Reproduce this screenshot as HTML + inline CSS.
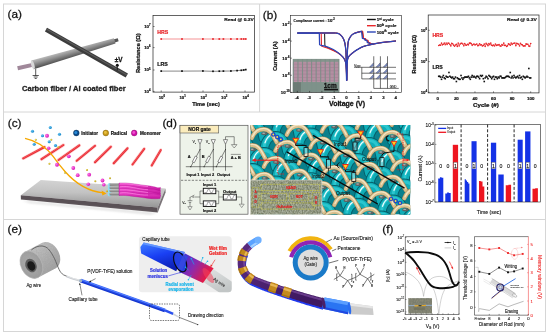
<!DOCTYPE html>
<html><head><meta charset="utf-8"><title>Figure</title>
<style>
html,body{margin:0;padding:0;background:#fff;}
body{width:550px;height:336px;overflow:hidden;font-family:'Liberation Sans', sans-serif;}
svg{display:block;filter:blur(0.35px);}
svg text{font-family:'Liberation Sans', sans-serif;}
</style></head><body>
<svg width="550" height="336" viewBox="0 0 550 336">
<defs>
<linearGradient id="gfib" x1="0" y1="0" x2="0" y2="1"><stop offset="0" stop-color="#bcbcbc"/><stop offset="0.4" stop-color="#939393"/><stop offset="1" stop-color="#4e4e4e"/></linearGradient>
<linearGradient id="gdark" x1="0" y1="0" x2="0" y2="1"><stop offset="0" stop-color="#555"/><stop offset="1" stop-color="#222"/></linearGradient>
<linearGradient id="gslab" x1="0" y1="0" x2="1" y2="0.3"><stop offset="0" stop-color="#cfcfcf"/><stop offset="1" stop-color="#a4a4a4"/></linearGradient>
<filter id="blur03"><feGaussianBlur stdDeviation="0.3"/></filter>
<filter id="blur06"><feGaussianBlur stdDeviation="0.6"/></filter>
<filter id="blur1"><feGaussianBlur stdDeviation="1"/></filter>
</defs>
<rect x="3.50" y="4.00" width="542.00" height="327.50" fill="#fff" stroke="#d6d6d6" stroke-width="1" />
<line x1="3.50" y1="112.00" x2="545.50" y2="112.00" stroke="#d6d6d6" stroke-width="1" />
<line x1="3.50" y1="219.50" x2="545.50" y2="219.50" stroke="#d6d6d6" stroke-width="1" />
<line x1="259.60" y1="4.00" x2="259.60" y2="112.00" stroke="#d6d6d6" stroke-width="1" />
<text x="7.60" y="18.20" font-size="11.8" text-anchor="start" font-weight="normal" fill="#111" stroke="#111" stroke-width="0.260" >(a)</text>
<text x="262.80" y="18.60" font-size="11.8" text-anchor="start" font-weight="normal" fill="#111" stroke="#111" stroke-width="0.260" >(b)</text>
<text x="7.80" y="126.60" font-size="11.8" text-anchor="start" font-weight="normal" fill="#111" stroke="#111" stroke-width="0.260" >(c)</text>
<text x="162.40" y="126.60" font-size="11.8" text-anchor="start" font-weight="normal" fill="#111" stroke="#111" stroke-width="0.260" >(d)</text>
<text x="7.60" y="233.20" font-size="11.8" text-anchor="start" font-weight="normal" fill="#111" stroke="#111" stroke-width="0.260" >(e)</text>
<text x="382.30" y="233.20" font-size="11.8" text-anchor="start" font-weight="normal" fill="#111" stroke="#111" stroke-width="0.260" >(f)</text>
<g transform="translate(17.60,68.30) rotate(-12.85)"><path d="M0,-2.00 L15.28,-2.00 L15.28,2.00 L0,2.00Z" fill="#a0889a" /></g>
<g transform="translate(32.50,64.90) rotate(-16.28)"><path d="M0,-4.50 L85.63,-2.80 L85.63,2.80 L0,4.50Z" fill="url(#gfib)" /></g>
<ellipse cx="32.8" cy="64.9" rx="1.6" ry="4.4" transform="rotate(-16 32.8 64.9)" fill="#d8d8d8"/>
<g transform="translate(114.50,40.90) rotate(-16.56)"><path d="M0,-1.60 L3.86,-1.50 L3.86,1.50 L0,1.60Z" fill="#555" /></g>
<g transform="translate(46.00,29.60) rotate(29.65)"><path d="M0,-2.20 L92.98,-2.30 L92.98,2.30 L0,2.20Z" fill="#3c3c3c" /></g>
<g transform="translate(46.30,29.00) rotate(29.68)"><path d="M0,-0.60 L92.89,-0.60 L92.89,0.60 L0,0.60Z" fill="#5a5a5a" /></g>
<line x1="35.70" y1="69.00" x2="35.70" y2="75.50" stroke="#111" stroke-width="0.7" />
<line x1="32.60" y1="75.50" x2="38.80" y2="75.50" stroke="#111" stroke-width="0.7" />
<line x1="33.70" y1="77.00" x2="37.70" y2="77.00" stroke="#111" stroke-width="0.7" />
<line x1="34.70" y1="78.50" x2="36.70" y2="78.50" stroke="#111" stroke-width="0.7" />
<circle cx="117.30" cy="65.30" r="1.5" fill="#111" stroke="none" stroke-width="0.5" />
<line x1="117.30" y1="65.30" x2="117.30" y2="70.40" stroke="#111" stroke-width="0.8" />
<text x="118.60" y="61.60" font-size="6.4" text-anchor="middle" font-weight="bold" fill="#111" stroke="#111" stroke-width="0.256" >±V</text>
<text x="22.00" y="90.60" font-size="7.3" text-anchor="start" font-weight="bold" fill="#222" stroke="#222" stroke-width="0.292" textLength="103.60" lengthAdjust="spacingAndGlyphs" >Carbon fiber / Al coated fiber</text>
<rect x="153.00" y="15.60" width="101.50" height="76.50" fill="none" stroke="#222" stroke-width="0.7" />
<path d="M161.20,39.00 L182.00,39.00 L202.90,39.00 L213.00,39.00 L219.30,39.00 L223.40,39.00 L230.90,39.00 L237.10,39.00 L241.30,39.00 L243.70,39.00 L245.80,39.00" fill="none" stroke="#e8262a" stroke-width="0.5" />
<rect x="160.35" y="38.15" width="1.70" height="1.70" fill="#e8262a" stroke="none" stroke-width="0.6" />
<rect x="181.15" y="38.15" width="1.70" height="1.70" fill="#e8262a" stroke="none" stroke-width="0.6" />
<rect x="202.05" y="38.15" width="1.70" height="1.70" fill="#e8262a" stroke="none" stroke-width="0.6" />
<rect x="212.15" y="38.15" width="1.70" height="1.70" fill="#e8262a" stroke="none" stroke-width="0.6" />
<rect x="218.45" y="38.15" width="1.70" height="1.70" fill="#e8262a" stroke="none" stroke-width="0.6" />
<rect x="222.55" y="38.15" width="1.70" height="1.70" fill="#e8262a" stroke="none" stroke-width="0.6" />
<rect x="230.05" y="38.15" width="1.70" height="1.70" fill="#e8262a" stroke="none" stroke-width="0.6" />
<rect x="236.25" y="38.15" width="1.70" height="1.70" fill="#e8262a" stroke="none" stroke-width="0.6" />
<rect x="240.45" y="38.15" width="1.70" height="1.70" fill="#e8262a" stroke="none" stroke-width="0.6" />
<rect x="242.85" y="38.15" width="1.70" height="1.70" fill="#e8262a" stroke="none" stroke-width="0.6" />
<rect x="244.95" y="38.15" width="1.70" height="1.70" fill="#e8262a" stroke="none" stroke-width="0.6" />
<path d="M161.20,71.10 L182.00,71.10 L202.90,71.00 L213.00,71.30 L219.30,71.20 L223.40,71.10 L230.90,71.00 L237.10,70.60 L241.30,70.30 L243.70,70.00 L245.80,69.60" fill="none" stroke="#111" stroke-width="0.5" />
<rect x="160.35" y="70.25" width="1.70" height="1.70" fill="#111" stroke="none" stroke-width="0.6" />
<rect x="181.15" y="70.25" width="1.70" height="1.70" fill="#111" stroke="none" stroke-width="0.6" />
<rect x="202.05" y="70.15" width="1.70" height="1.70" fill="#111" stroke="none" stroke-width="0.6" />
<rect x="212.15" y="70.45" width="1.70" height="1.70" fill="#111" stroke="none" stroke-width="0.6" />
<rect x="218.45" y="70.35" width="1.70" height="1.70" fill="#111" stroke="none" stroke-width="0.6" />
<rect x="222.55" y="70.25" width="1.70" height="1.70" fill="#111" stroke="none" stroke-width="0.6" />
<rect x="230.05" y="70.15" width="1.70" height="1.70" fill="#111" stroke="none" stroke-width="0.6" />
<rect x="236.25" y="69.75" width="1.70" height="1.70" fill="#111" stroke="none" stroke-width="0.6" />
<rect x="240.45" y="69.45" width="1.70" height="1.70" fill="#111" stroke="none" stroke-width="0.6" />
<rect x="242.85" y="69.15" width="1.70" height="1.70" fill="#111" stroke="none" stroke-width="0.6" />
<rect x="244.95" y="68.75" width="1.70" height="1.70" fill="#111" stroke="none" stroke-width="0.6" />
<text x="150.50" y="27.90" font-size="4.3" text-anchor="end" font-weight="bold" fill="#111" stroke="#111" stroke-width="0.172" >10<tspan dy="-1.6" font-size="2.8">7</tspan></text>
<line x1="153.00" y1="26.50" x2="154.60" y2="26.50" stroke="#111" stroke-width="0.5" />
<text x="150.50" y="49.00" font-size="4.3" text-anchor="end" font-weight="bold" fill="#111" stroke="#111" stroke-width="0.172" >10<tspan dy="-1.6" font-size="2.8">6</tspan></text>
<line x1="153.00" y1="47.60" x2="154.60" y2="47.60" stroke="#111" stroke-width="0.5" />
<text x="150.50" y="71.40" font-size="4.3" text-anchor="end" font-weight="bold" fill="#111" stroke="#111" stroke-width="0.172" >10<tspan dy="-1.6" font-size="2.8">5</tspan></text>
<line x1="153.00" y1="70.00" x2="154.60" y2="70.00" stroke="#111" stroke-width="0.5" />
<text x="150.50" y="92.80" font-size="4.3" text-anchor="end" font-weight="bold" fill="#111" stroke="#111" stroke-width="0.172" >10<tspan dy="-1.6" font-size="2.8">4</tspan></text>
<line x1="153.00" y1="91.40" x2="154.60" y2="91.40" stroke="#111" stroke-width="0.5" />
<text x="161.80" y="98.60" font-size="4.3" text-anchor="middle" font-weight="bold" fill="#111" stroke="#111" stroke-width="0.172" >10<tspan dy="-1.6" font-size="2.8">0</tspan></text>
<line x1="161.20" y1="92.00" x2="161.20" y2="90.40" stroke="#111" stroke-width="0.5" />
<text x="182.60" y="98.60" font-size="4.3" text-anchor="middle" font-weight="bold" fill="#111" stroke="#111" stroke-width="0.172" >10<tspan dy="-1.6" font-size="2.8">1</tspan></text>
<line x1="182.00" y1="92.00" x2="182.00" y2="90.40" stroke="#111" stroke-width="0.5" />
<text x="203.60" y="98.60" font-size="4.3" text-anchor="middle" font-weight="bold" fill="#111" stroke="#111" stroke-width="0.172" >10<tspan dy="-1.6" font-size="2.8">2</tspan></text>
<line x1="203.00" y1="92.00" x2="203.00" y2="90.40" stroke="#111" stroke-width="0.5" />
<text x="224.20" y="98.60" font-size="4.3" text-anchor="middle" font-weight="bold" fill="#111" stroke="#111" stroke-width="0.172" >10<tspan dy="-1.6" font-size="2.8">3</tspan></text>
<line x1="223.60" y1="92.00" x2="223.60" y2="90.40" stroke="#111" stroke-width="0.5" />
<text x="245.60" y="98.60" font-size="4.3" text-anchor="middle" font-weight="bold" fill="#111" stroke="#111" stroke-width="0.172" >10<tspan dy="-1.6" font-size="2.8">4</tspan></text>
<line x1="245.00" y1="92.00" x2="245.00" y2="90.40" stroke="#111" stroke-width="0.5" />
<text x="206.00" y="105.80" font-size="5.6" text-anchor="middle" font-weight="bold" fill="#111" stroke="#111" stroke-width="0.224" textLength="27.70" lengthAdjust="spacingAndGlyphs" >Time (sec)</text>
<text x="140.50" y="53.20" font-size="5.6" text-anchor="middle" font-weight="bold" fill="#111" transform="rotate(-90 140.50 53.20)" stroke="#111" stroke-width="0.224" textLength="39.70" lengthAdjust="spacingAndGlyphs" >Resistance (Ω)</text>
<text x="157.30" y="34.20" font-size="4.8" text-anchor="start" font-weight="bold" fill="#e8262a" stroke="#e8262a" stroke-width="0.192" textLength="11.00" lengthAdjust="spacingAndGlyphs" >HRS</text>
<text x="157.30" y="65.50" font-size="4.8" text-anchor="start" font-weight="bold" fill="#111" stroke="#111" stroke-width="0.192" textLength="10.60" lengthAdjust="spacingAndGlyphs" >LRS</text>
<text x="224.30" y="20.90" font-size="4.4" text-anchor="start" font-weight="bold" fill="#111" stroke="#111" stroke-width="0.176" textLength="29.40" lengthAdjust="spacingAndGlyphs" >Read @ 0.3V</text>
<rect x="292.90" y="58.90" width="46.10" height="33.40" fill="#84958d" stroke="none" stroke-width="0.6" />
<rect x="292.90" y="61.80" width="46.10" height="20.40" fill="#b48fa2" stroke="none" stroke-width="0.6" />
<line x1="293.40" y1="59.00" x2="293.40" y2="92.30" stroke="#7d8f88" stroke-width="1.1" />
<line x1="297.95" y1="59.00" x2="297.95" y2="92.30" stroke="#7d8f88" stroke-width="1.1" />
<line x1="302.50" y1="59.00" x2="302.50" y2="92.30" stroke="#7d8f88" stroke-width="1.1" />
<line x1="307.05" y1="59.00" x2="307.05" y2="92.30" stroke="#7d8f88" stroke-width="1.1" />
<line x1="311.60" y1="59.00" x2="311.60" y2="92.30" stroke="#7d8f88" stroke-width="1.1" />
<line x1="316.15" y1="59.00" x2="316.15" y2="92.30" stroke="#7d8f88" stroke-width="1.1" />
<line x1="320.70" y1="59.00" x2="320.70" y2="92.30" stroke="#7d8f88" stroke-width="1.1" />
<line x1="325.25" y1="59.00" x2="325.25" y2="92.30" stroke="#7d8f88" stroke-width="1.1" />
<line x1="329.80" y1="59.00" x2="329.80" y2="92.30" stroke="#7d8f88" stroke-width="1.1" />
<line x1="334.35" y1="59.00" x2="334.35" y2="92.30" stroke="#7d8f88" stroke-width="1.1" />
<line x1="338.90" y1="59.00" x2="338.90" y2="92.30" stroke="#7d8f88" stroke-width="1.1" />
<line x1="292.90" y1="64.20" x2="339.00" y2="64.20" stroke="#96788a" stroke-width="0.5" opacity="0.8"/>
<line x1="292.90" y1="67.50" x2="339.00" y2="67.50" stroke="#96788a" stroke-width="0.5" opacity="0.8"/>
<line x1="292.90" y1="70.80" x2="339.00" y2="70.80" stroke="#96788a" stroke-width="0.5" opacity="0.8"/>
<line x1="292.90" y1="74.10" x2="339.00" y2="74.10" stroke="#96788a" stroke-width="0.5" opacity="0.8"/>
<line x1="292.90" y1="77.40" x2="339.00" y2="77.40" stroke="#96788a" stroke-width="0.5" opacity="0.8"/>
<line x1="292.90" y1="80.70" x2="339.00" y2="80.70" stroke="#96788a" stroke-width="0.5" opacity="0.8"/>
<rect x="292.90" y="82.20" width="46.10" height="10.10" fill="#7d9189" stroke="none" stroke-width="0.6" opacity="0.8"/>
<rect x="292.90" y="82.20" width="8.00" height="10.10" fill="#55605c" stroke="none" stroke-width="0.6" opacity="0.45"/>
<text x="330.20" y="87.60" font-size="7.2" text-anchor="middle" font-weight="bold" fill="#111" stroke="#111" stroke-width="0.288" textLength="13.00" lengthAdjust="spacingAndGlyphs" >1cm</text>
<rect x="324.20" y="88.80" width="13.80" height="1.60" fill="#111" stroke="none" stroke-width="0.6" />
<path d="M297.30,33.00 L324.60,33.00 L324.90,45.80" fill="none" stroke="#111" stroke-width="1.0" stroke-linejoin="round"/>
<path d="M324.90,45.80 C325.40,46.13 325.92,46.76 327.90,47.80 C329.88,48.84 334.28,50.50 336.80,52.05 C339.32,53.60 341.52,55.36 343.00,57.10 C344.48,58.84 345.13,60.35 345.70,62.50 C346.27,64.65 346.25,67.00 346.40,70.00 C346.55,73.00 346.57,78.75 346.60,80.50" fill="none" stroke="#111" stroke-width="1.0" />
<path d="M324.60,33.00 L335.50,33.00" fill="none" stroke="#111" stroke-width="1.0" />
<path d="M335.50,33.00 C336.02,33.10 337.64,33.15 338.60,33.60 C339.56,34.05 340.45,34.83 341.25,35.70 C342.05,36.57 342.81,37.60 343.40,38.80 C343.99,40.00 344.40,41.03 344.80,42.90 C345.20,44.77 345.56,47.03 345.80,50.00 C346.04,52.97 346.12,55.62 346.25,60.70 C346.38,65.78 346.54,77.20 346.60,80.50" fill="none" stroke="#111" stroke-width="1.0" />
<path d="M346.60,80.50 C346.68,77.25 346.93,66.42 347.10,61.00 C347.27,55.58 347.38,51.33 347.60,48.00 C347.82,44.67 348.00,42.77 348.40,41.00 C348.80,39.23 349.40,38.43 350.00,37.40 C350.60,36.37 351.17,35.52 352.00,34.80 C352.83,34.08 353.97,33.55 355.00,33.10 C356.03,32.65 356.98,32.42 358.20,32.10 C359.42,31.78 361.62,31.35 362.30,31.20" fill="none" stroke="#111" stroke-width="1.0" />
<path d="M362.30,31.20 L363.20,38.40 L365.30,38.80 L365.70,40.20 L367.60,40.40 L368.10,42.70 L369.80,42.90 L370.30,43.75 L373.50,44.00" fill="none" stroke="#111" stroke-width="1.0" stroke-linejoin="round"/>
<path d="M346.60,80.50 C346.68,77.58 346.80,66.90 347.10,63.00 C347.40,59.10 347.43,58.82 348.40,57.10 C349.37,55.38 351.27,54.03 352.90,52.70 C354.53,51.37 356.42,50.15 358.20,49.10 C359.98,48.05 361.52,47.15 363.60,46.40 C365.68,45.65 368.03,45.18 370.70,44.60 C373.37,44.02 376.72,43.37 379.60,42.90 C382.48,42.43 385.27,42.12 388.00,41.80 C390.73,41.48 394.67,41.13 396.00,41.00" fill="none" stroke="#111" stroke-width="1.0" />
<path d="M297.30,33.00 L321.20,33.00 L321.50,46.20" fill="none" stroke="#e8262a" stroke-width="1.1" stroke-linejoin="round"/>
<path d="M321.50,46.20 C322.57,46.53 325.35,47.19 327.90,48.20 C330.45,49.21 334.28,50.77 336.80,52.25 C339.32,53.73 341.52,55.39 343.00,57.10 C344.48,58.81 345.13,60.35 345.70,62.50 C346.27,64.65 346.25,67.00 346.40,70.00 C346.55,73.00 346.57,78.75 346.60,80.50" fill="none" stroke="#e8262a" stroke-width="1.1" />
<path d="M321.20,33.00 L335.50,33.00" fill="none" stroke="#e8262a" stroke-width="1.1" />
<path d="M335.50,33.00 C336.02,33.10 337.64,33.15 338.60,33.60 C339.56,34.05 340.45,34.83 341.25,35.70 C342.05,36.57 342.81,37.60 343.40,38.80 C343.99,40.00 344.40,41.03 344.80,42.90 C345.20,44.77 345.56,47.03 345.80,50.00 C346.04,52.97 346.12,55.62 346.25,60.70 C346.38,65.78 346.54,77.20 346.60,80.50" fill="none" stroke="#e8262a" stroke-width="1.1" />
<path d="M346.60,80.50 C346.68,77.25 346.93,66.42 347.10,61.00 C347.27,55.58 347.38,51.33 347.60,48.00 C347.82,44.67 348.00,42.77 348.40,41.00 C348.80,39.23 349.40,38.43 350.00,37.40 C350.60,36.37 351.17,35.52 352.00,34.80 C352.83,34.08 353.97,33.55 355.00,33.10 C356.03,32.65 356.92,32.42 358.20,32.10 C359.48,31.78 361.95,31.35 362.70,31.20" fill="none" stroke="#e8262a" stroke-width="1.1" />
<path d="M362.70,31.20 L363.60,38.40 L365.70,38.80 L366.10,40.20 L368.00,40.40 L368.50,42.70 L370.20,42.90 L370.70,43.75 L373.50,44.00" fill="none" stroke="#e8262a" stroke-width="1.1" stroke-linejoin="round"/>
<path d="M346.60,80.50 C346.68,77.58 346.80,66.90 347.10,63.00 C347.40,59.10 347.43,58.82 348.40,57.10 C349.37,55.38 351.27,54.03 352.90,52.70 C354.53,51.37 356.42,50.15 358.20,49.10 C359.98,48.05 361.52,47.15 363.60,46.40 C365.68,45.65 368.03,45.18 370.70,44.60 C373.37,44.02 376.72,43.37 379.60,42.90 C382.48,42.43 385.27,42.12 388.00,41.80 C390.73,41.48 394.67,41.13 396.00,41.00" fill="none" stroke="#e8262a" stroke-width="1.1" />
<path d="M297.30,33.00 L319.30,33.00 L319.60,45.00" fill="none" stroke="#2b45b8" stroke-width="1.25" stroke-linejoin="round"/>
<path d="M319.60,45.00 C320.98,45.33 325.03,45.89 327.90,47.00 C330.77,48.11 334.28,49.97 336.80,51.65 C339.32,53.33 341.52,55.29 343.00,57.10 C344.48,58.91 345.13,60.35 345.70,62.50 C346.27,64.65 346.25,67.00 346.40,70.00 C346.55,73.00 346.57,78.75 346.60,80.50" fill="none" stroke="#2b45b8" stroke-width="1.25" />
<path d="M319.30,33.00 L335.50,33.00" fill="none" stroke="#2b45b8" stroke-width="1.25" />
<path d="M335.50,33.00 C336.02,33.10 337.64,33.15 338.60,33.60 C339.56,34.05 340.45,34.83 341.25,35.70 C342.05,36.57 342.81,37.60 343.40,38.80 C343.99,40.00 344.40,41.03 344.80,42.90 C345.20,44.77 345.56,47.03 345.80,50.00 C346.04,52.97 346.12,55.62 346.25,60.70 C346.38,65.78 346.54,77.20 346.60,80.50" fill="none" stroke="#2b45b8" stroke-width="1.25" />
<path d="M346.60,80.50 C346.68,77.25 346.93,66.42 347.10,61.00 C347.27,55.58 347.38,51.33 347.60,48.00 C347.82,44.67 348.00,42.77 348.40,41.00 C348.80,39.23 349.40,38.43 350.00,37.40 C350.60,36.37 351.17,35.52 352.00,34.80 C352.83,34.08 353.97,33.55 355.00,33.10 C356.03,32.65 357.12,32.42 358.20,32.10 C359.28,31.78 360.95,31.35 361.50,31.20" fill="none" stroke="#2b45b8" stroke-width="1.25" />
<path d="M361.50,31.20 L362.40,38.40 L364.50,38.80 L364.90,40.20 L366.80,40.40 L367.30,42.70 L369.00,42.90 L369.50,43.75 L373.50,44.00" fill="none" stroke="#2b45b8" stroke-width="1.25" stroke-linejoin="round"/>
<path d="M346.60,80.50 C346.68,77.58 346.80,66.90 347.10,63.00 C347.40,59.10 347.43,58.82 348.40,57.10 C349.37,55.38 351.27,54.03 352.90,52.70 C354.53,51.37 356.42,50.15 358.20,49.10 C359.98,48.05 361.52,47.15 363.60,46.40 C365.68,45.65 368.03,45.18 370.70,44.60 C373.37,44.02 376.72,43.37 379.60,42.90 C382.48,42.43 385.27,42.12 388.00,41.80 C390.73,41.48 394.67,41.13 396.00,41.00" fill="none" stroke="#2b45b8" stroke-width="1.25" />
<path d="M297.3,33 L319.3,33" fill="none" stroke="#2b45b8" stroke-width="1.3" />
<line x1="373.75" y1="56.25" x2="373.75" y2="88.40" stroke="#111" stroke-width="0.6" />
<line x1="380.40" y1="56.25" x2="380.40" y2="88.40" stroke="#111" stroke-width="0.6" />
<line x1="387.50" y1="56.25" x2="387.50" y2="88.40" stroke="#111" stroke-width="0.6" />
<line x1="361.80" y1="67.30" x2="396.00" y2="67.30" stroke="#111" stroke-width="0.6" />
<line x1="361.80" y1="73.20" x2="396.00" y2="73.20" stroke="#111" stroke-width="0.6" />
<line x1="361.80" y1="78.90" x2="396.00" y2="78.90" stroke="#111" stroke-width="0.6" />
<line x1="354.00" y1="67.30" x2="361.80" y2="67.30" stroke="#111" stroke-width="0.6" />
<line x1="361.80" y1="67.30" x2="361.80" y2="78.90" stroke="#111" stroke-width="0.6" />
<line x1="373.75" y1="88.40" x2="398.75" y2="88.40" stroke="#111" stroke-width="0.6" />
<text x="354.00" y="66.60" font-size="3.6" text-anchor="start" font-weight="normal" fill="#111" stroke="#111" stroke-width="0.079" >Vpp</text>
<text x="389.80" y="87.60" font-size="3" text-anchor="start" font-weight="normal" fill="#111" stroke="#111" stroke-width="0.066" >GND</text>
<path d="M369.55,67.10 L373.45,62.90 L373.45,65.70 L371.15,67.10Z" fill="#7d90cc" stroke="#223" stroke-width="0.35" />
<path d="M369.55,73.00 L373.45,68.80 L373.45,71.60 L371.15,73.00Z" fill="#7d90cc" stroke="#223" stroke-width="0.35" />
<path d="M369.55,78.70 L373.45,74.50 L373.45,77.30 L371.15,78.70Z" fill="#7d90cc" stroke="#223" stroke-width="0.35" />
<path d="M376.20,67.10 L380.10,62.90 L380.10,65.70 L377.80,67.10Z" fill="#7d90cc" stroke="#223" stroke-width="0.35" />
<path d="M376.20,73.00 L380.10,68.80 L380.10,71.60 L377.80,73.00Z" fill="#7d90cc" stroke="#223" stroke-width="0.35" />
<path d="M376.20,78.70 L380.10,74.50 L380.10,77.30 L377.80,78.70Z" fill="#7d90cc" stroke="#223" stroke-width="0.35" />
<path d="M383.30,67.10 L387.20,62.90 L387.20,65.70 L384.90,67.10Z" fill="#7d90cc" stroke="#223" stroke-width="0.35" />
<path d="M383.30,73.00 L387.20,68.80 L387.20,71.60 L384.90,73.00Z" fill="#7d90cc" stroke="#223" stroke-width="0.35" />
<path d="M383.30,78.70 L387.20,74.50 L387.20,77.30 L384.90,78.70Z" fill="#7d90cc" stroke="#223" stroke-width="0.35" />
<rect x="290.30" y="15.30" width="111.00" height="77.20" fill="none" stroke="#222" stroke-width="0.6" />
<text x="289.60" y="25.50" font-size="4.3" text-anchor="end" font-weight="bold" fill="#111" stroke="#111" stroke-width="0.172" >10<tspan dy="-1.6" font-size="2.8">-2</tspan></text>
<line x1="290.30" y1="24.00" x2="291.90" y2="24.00" stroke="#111" stroke-width="0.5" />
<text x="289.60" y="42.58" font-size="4.3" text-anchor="end" font-weight="bold" fill="#111" stroke="#111" stroke-width="0.172" >10<tspan dy="-1.6" font-size="2.8">-4</tspan></text>
<line x1="290.30" y1="41.08" x2="291.90" y2="41.08" stroke="#111" stroke-width="0.5" />
<text x="289.60" y="59.66" font-size="4.3" text-anchor="end" font-weight="bold" fill="#111" stroke="#111" stroke-width="0.172" >10<tspan dy="-1.6" font-size="2.8">-6</tspan></text>
<line x1="290.30" y1="58.16" x2="291.90" y2="58.16" stroke="#111" stroke-width="0.5" />
<text x="289.60" y="76.74" font-size="4.3" text-anchor="end" font-weight="bold" fill="#111" stroke="#111" stroke-width="0.172" >10<tspan dy="-1.6" font-size="2.8">-8</tspan></text>
<line x1="290.30" y1="75.24" x2="291.90" y2="75.24" stroke="#111" stroke-width="0.5" />
<text x="289.60" y="93.82" font-size="4.3" text-anchor="end" font-weight="bold" fill="#111" stroke="#111" stroke-width="0.172" >10<tspan dy="-1.6" font-size="2.8">-10</tspan></text>
<line x1="290.30" y1="92.32" x2="291.90" y2="92.32" stroke="#111" stroke-width="0.5" />
<text x="296.80" y="99.30" font-size="4.4" text-anchor="middle" font-weight="bold" fill="#111" stroke="#111" stroke-width="0.176" >-4</text>
<line x1="297.30" y1="92.50" x2="297.30" y2="90.90" stroke="#111" stroke-width="0.5" />
<text x="309.10" y="99.30" font-size="4.4" text-anchor="middle" font-weight="bold" fill="#111" stroke="#111" stroke-width="0.176" >-3</text>
<line x1="309.60" y1="92.50" x2="309.60" y2="90.90" stroke="#111" stroke-width="0.5" />
<text x="321.40" y="99.30" font-size="4.4" text-anchor="middle" font-weight="bold" fill="#111" stroke="#111" stroke-width="0.176" >-2</text>
<line x1="321.90" y1="92.50" x2="321.90" y2="90.90" stroke="#111" stroke-width="0.5" />
<text x="333.70" y="99.30" font-size="4.4" text-anchor="middle" font-weight="bold" fill="#111" stroke="#111" stroke-width="0.176" >-1</text>
<line x1="334.20" y1="92.50" x2="334.20" y2="90.90" stroke="#111" stroke-width="0.5" />
<text x="346.50" y="99.30" font-size="4.4" text-anchor="middle" font-weight="bold" fill="#111" stroke="#111" stroke-width="0.176" >0</text>
<line x1="346.50" y1="92.50" x2="346.50" y2="90.90" stroke="#111" stroke-width="0.5" />
<text x="358.80" y="99.30" font-size="4.4" text-anchor="middle" font-weight="bold" fill="#111" stroke="#111" stroke-width="0.176" >1</text>
<line x1="358.80" y1="92.50" x2="358.80" y2="90.90" stroke="#111" stroke-width="0.5" />
<text x="371.10" y="99.30" font-size="4.4" text-anchor="middle" font-weight="bold" fill="#111" stroke="#111" stroke-width="0.176" >2</text>
<line x1="371.10" y1="92.50" x2="371.10" y2="90.90" stroke="#111" stroke-width="0.5" />
<text x="383.40" y="99.30" font-size="4.4" text-anchor="middle" font-weight="bold" fill="#111" stroke="#111" stroke-width="0.176" >3</text>
<line x1="383.40" y1="92.50" x2="383.40" y2="90.90" stroke="#111" stroke-width="0.5" />
<text x="395.70" y="99.30" font-size="4.4" text-anchor="middle" font-weight="bold" fill="#111" stroke="#111" stroke-width="0.176" >4</text>
<line x1="395.70" y1="92.50" x2="395.70" y2="90.90" stroke="#111" stroke-width="0.5" />
<text x="347.00" y="105.80" font-size="6.6" text-anchor="middle" font-weight="bold" fill="#111" stroke="#111" stroke-width="0.264" textLength="36.00" lengthAdjust="spacingAndGlyphs" >Voltage (V)</text>
<text x="276.70" y="56.20" font-size="6.0" text-anchor="middle" font-weight="bold" fill="#111" transform="rotate(-90 276.70 56.20)" stroke="#111" stroke-width="0.240" textLength="29.50" lengthAdjust="spacingAndGlyphs" >Current (A)</text>
<text x="293.50" y="21.60" font-size="3.3" text-anchor="start" font-weight="bold" fill="#111" stroke="#111" stroke-width="0.132" >Compliance current :</text>
<text x="327.50" y="21.80" font-size="4.4" text-anchor="start" font-weight="bold" fill="#111" stroke="#111" stroke-width="0.176" >10<tspan dy="-1.6" font-size="2.6">-3</tspan></text>
<line x1="367.00" y1="19.50" x2="375.80" y2="19.50" stroke="#111" stroke-width="1.4" />
<text x="376.80" y="21.10" font-size="4.4" text-anchor="start" font-weight="bold" fill="#111" stroke="#111" stroke-width="0.176" >1<tspan dy="-1.4" font-size="2.6">st</tspan><tspan dy="1.4"> cycle</tspan></text>
<line x1="367.00" y1="25.70" x2="375.80" y2="25.70" stroke="#e8262a" stroke-width="1.4" />
<text x="376.80" y="27.30" font-size="4.4" text-anchor="start" font-weight="bold" fill="#111" stroke="#111" stroke-width="0.176" >50<tspan dy="-1.4" font-size="2.6">th</tspan><tspan dy="1.4"> cycle</tspan></text>
<line x1="367.00" y1="32.00" x2="375.80" y2="32.00" stroke="#2b45b8" stroke-width="1.4" />
<text x="376.80" y="33.60" font-size="4.4" text-anchor="start" font-weight="bold" fill="#111" stroke="#111" stroke-width="0.176" >100<tspan dy="-1.4" font-size="2.6">th</tspan><tspan dy="1.4"> cycle</tspan></text>
<rect x="428.20" y="15.00" width="110.80" height="77.90" fill="none" stroke="#222" stroke-width="0.7" />
<path d="M438.73,45.57 L439.66,44.94 L440.59,45.24 L441.52,43.16 L442.44,44.83 L443.37,44.22 L444.30,43.11 L445.23,44.73 L446.16,43.03 L447.09,44.46 L448.02,43.15 L448.95,43.23 L449.88,44.43 L450.81,45.88 L451.74,43.35 L452.66,43.70 L453.59,45.16 L454.52,46.31 L455.45,44.98 L456.38,44.33 L457.31,46.41 L458.24,43.07 L459.17,45.99 L460.10,43.94 L461.03,43.42 L461.95,43.32 L462.88,44.01 L463.81,45.84 L464.74,43.55 L465.67,44.99 L466.60,45.20 L467.53,44.24 L468.46,44.87 L469.39,43.13 L470.31,43.11 L471.24,43.64 L472.17,45.35 L473.10,44.44 L474.03,44.03 L474.96,45.01 L475.89,44.53 L476.82,43.98 L477.75,45.76 L478.68,45.42 L479.61,43.78 L480.53,44.97 L481.46,44.79 L482.39,46.05 L483.32,45.53 L484.25,43.94 L485.18,46.43 L486.11,43.33 L487.04,44.41 L487.97,45.63 L488.90,43.45 L489.82,44.66 L490.75,43.04 L491.68,45.31 L492.61,45.65 L493.54,44.96 L494.47,46.05 L495.40,44.03 L496.33,45.40 L497.26,45.04 L498.19,44.99 L499.11,44.54 L500.04,45.92 L500.97,46.30 L501.90,44.61 L502.83,45.29 L503.76,43.12 L504.69,45.43 L505.62,45.23 L506.55,46.48 L507.48,45.86 L508.40,43.92 L509.33,44.29 L510.26,45.31 L511.19,42.98 L512.12,44.56 L513.05,43.50 L513.98,43.32 L514.91,43.11 L515.84,45.67 L516.76,43.37 L517.69,43.79 L518.62,44.31 L519.55,46.04 L520.48,43.19 L521.41,44.52 L522.34,44.88 L523.27,46.08 L524.20,45.85 L525.13,46.01 L526.06,43.90 L526.98,44.40 L527.91,44.19 L528.84,46.08 L529.77,46.35 L530.70,43.44" fill="none" stroke="#e8262a" stroke-width="0.6" stroke-linejoin="round"/>
<circle cx="438.73" cy="45.57" r="0.8" fill="#e8262a" stroke="none" stroke-width="0.5" />
<circle cx="439.66" cy="44.94" r="0.8" fill="#e8262a" stroke="none" stroke-width="0.5" />
<circle cx="440.59" cy="45.24" r="0.8" fill="#e8262a" stroke="none" stroke-width="0.5" />
<circle cx="441.52" cy="43.16" r="0.8" fill="#e8262a" stroke="none" stroke-width="0.5" />
<circle cx="442.44" cy="44.83" r="0.8" fill="#e8262a" stroke="none" stroke-width="0.5" />
<circle cx="443.37" cy="44.22" r="0.8" fill="#e8262a" stroke="none" stroke-width="0.5" />
<circle cx="444.30" cy="43.11" r="0.8" fill="#e8262a" stroke="none" stroke-width="0.5" />
<circle cx="445.23" cy="44.73" r="0.8" fill="#e8262a" stroke="none" stroke-width="0.5" />
<circle cx="446.16" cy="43.03" r="0.8" fill="#e8262a" stroke="none" stroke-width="0.5" />
<circle cx="447.09" cy="44.46" r="0.8" fill="#e8262a" stroke="none" stroke-width="0.5" />
<circle cx="448.02" cy="43.15" r="0.8" fill="#e8262a" stroke="none" stroke-width="0.5" />
<circle cx="448.95" cy="43.23" r="0.8" fill="#e8262a" stroke="none" stroke-width="0.5" />
<circle cx="449.88" cy="44.43" r="0.8" fill="#e8262a" stroke="none" stroke-width="0.5" />
<circle cx="450.81" cy="45.88" r="0.8" fill="#e8262a" stroke="none" stroke-width="0.5" />
<circle cx="451.74" cy="43.35" r="0.8" fill="#e8262a" stroke="none" stroke-width="0.5" />
<circle cx="452.66" cy="43.70" r="0.8" fill="#e8262a" stroke="none" stroke-width="0.5" />
<circle cx="453.59" cy="45.16" r="0.8" fill="#e8262a" stroke="none" stroke-width="0.5" />
<circle cx="454.52" cy="46.31" r="0.8" fill="#e8262a" stroke="none" stroke-width="0.5" />
<circle cx="455.45" cy="44.98" r="0.8" fill="#e8262a" stroke="none" stroke-width="0.5" />
<circle cx="456.38" cy="44.33" r="0.8" fill="#e8262a" stroke="none" stroke-width="0.5" />
<circle cx="457.31" cy="46.41" r="0.8" fill="#e8262a" stroke="none" stroke-width="0.5" />
<circle cx="458.24" cy="43.07" r="0.8" fill="#e8262a" stroke="none" stroke-width="0.5" />
<circle cx="459.17" cy="45.99" r="0.8" fill="#e8262a" stroke="none" stroke-width="0.5" />
<circle cx="460.10" cy="43.94" r="0.8" fill="#e8262a" stroke="none" stroke-width="0.5" />
<circle cx="461.03" cy="43.42" r="0.8" fill="#e8262a" stroke="none" stroke-width="0.5" />
<circle cx="461.95" cy="43.32" r="0.8" fill="#e8262a" stroke="none" stroke-width="0.5" />
<circle cx="462.88" cy="44.01" r="0.8" fill="#e8262a" stroke="none" stroke-width="0.5" />
<circle cx="463.81" cy="45.84" r="0.8" fill="#e8262a" stroke="none" stroke-width="0.5" />
<circle cx="464.74" cy="43.55" r="0.8" fill="#e8262a" stroke="none" stroke-width="0.5" />
<circle cx="465.67" cy="44.99" r="0.8" fill="#e8262a" stroke="none" stroke-width="0.5" />
<circle cx="466.60" cy="45.20" r="0.8" fill="#e8262a" stroke="none" stroke-width="0.5" />
<circle cx="467.53" cy="44.24" r="0.8" fill="#e8262a" stroke="none" stroke-width="0.5" />
<circle cx="468.46" cy="44.87" r="0.8" fill="#e8262a" stroke="none" stroke-width="0.5" />
<circle cx="469.39" cy="43.13" r="0.8" fill="#e8262a" stroke="none" stroke-width="0.5" />
<circle cx="470.31" cy="43.11" r="0.8" fill="#e8262a" stroke="none" stroke-width="0.5" />
<circle cx="471.24" cy="43.64" r="0.8" fill="#e8262a" stroke="none" stroke-width="0.5" />
<circle cx="472.17" cy="45.35" r="0.8" fill="#e8262a" stroke="none" stroke-width="0.5" />
<circle cx="473.10" cy="44.44" r="0.8" fill="#e8262a" stroke="none" stroke-width="0.5" />
<circle cx="474.03" cy="44.03" r="0.8" fill="#e8262a" stroke="none" stroke-width="0.5" />
<circle cx="474.96" cy="45.01" r="0.8" fill="#e8262a" stroke="none" stroke-width="0.5" />
<circle cx="475.89" cy="44.53" r="0.8" fill="#e8262a" stroke="none" stroke-width="0.5" />
<circle cx="476.82" cy="43.98" r="0.8" fill="#e8262a" stroke="none" stroke-width="0.5" />
<circle cx="477.75" cy="45.76" r="0.8" fill="#e8262a" stroke="none" stroke-width="0.5" />
<circle cx="478.68" cy="45.42" r="0.8" fill="#e8262a" stroke="none" stroke-width="0.5" />
<circle cx="479.61" cy="43.78" r="0.8" fill="#e8262a" stroke="none" stroke-width="0.5" />
<circle cx="480.53" cy="44.97" r="0.8" fill="#e8262a" stroke="none" stroke-width="0.5" />
<circle cx="481.46" cy="44.79" r="0.8" fill="#e8262a" stroke="none" stroke-width="0.5" />
<circle cx="482.39" cy="46.05" r="0.8" fill="#e8262a" stroke="none" stroke-width="0.5" />
<circle cx="483.32" cy="45.53" r="0.8" fill="#e8262a" stroke="none" stroke-width="0.5" />
<circle cx="484.25" cy="43.94" r="0.8" fill="#e8262a" stroke="none" stroke-width="0.5" />
<circle cx="485.18" cy="46.43" r="0.8" fill="#e8262a" stroke="none" stroke-width="0.5" />
<circle cx="486.11" cy="43.33" r="0.8" fill="#e8262a" stroke="none" stroke-width="0.5" />
<circle cx="487.04" cy="44.41" r="0.8" fill="#e8262a" stroke="none" stroke-width="0.5" />
<circle cx="487.97" cy="45.63" r="0.8" fill="#e8262a" stroke="none" stroke-width="0.5" />
<circle cx="488.90" cy="43.45" r="0.8" fill="#e8262a" stroke="none" stroke-width="0.5" />
<circle cx="489.82" cy="44.66" r="0.8" fill="#e8262a" stroke="none" stroke-width="0.5" />
<circle cx="490.75" cy="43.04" r="0.8" fill="#e8262a" stroke="none" stroke-width="0.5" />
<circle cx="491.68" cy="45.31" r="0.8" fill="#e8262a" stroke="none" stroke-width="0.5" />
<circle cx="492.61" cy="45.65" r="0.8" fill="#e8262a" stroke="none" stroke-width="0.5" />
<circle cx="493.54" cy="44.96" r="0.8" fill="#e8262a" stroke="none" stroke-width="0.5" />
<circle cx="494.47" cy="46.05" r="0.8" fill="#e8262a" stroke="none" stroke-width="0.5" />
<circle cx="495.40" cy="44.03" r="0.8" fill="#e8262a" stroke="none" stroke-width="0.5" />
<circle cx="496.33" cy="45.40" r="0.8" fill="#e8262a" stroke="none" stroke-width="0.5" />
<circle cx="497.26" cy="45.04" r="0.8" fill="#e8262a" stroke="none" stroke-width="0.5" />
<circle cx="498.19" cy="44.99" r="0.8" fill="#e8262a" stroke="none" stroke-width="0.5" />
<circle cx="499.11" cy="44.54" r="0.8" fill="#e8262a" stroke="none" stroke-width="0.5" />
<circle cx="500.04" cy="45.92" r="0.8" fill="#e8262a" stroke="none" stroke-width="0.5" />
<circle cx="500.97" cy="46.30" r="0.8" fill="#e8262a" stroke="none" stroke-width="0.5" />
<circle cx="501.90" cy="44.61" r="0.8" fill="#e8262a" stroke="none" stroke-width="0.5" />
<circle cx="502.83" cy="45.29" r="0.8" fill="#e8262a" stroke="none" stroke-width="0.5" />
<circle cx="503.76" cy="43.12" r="0.8" fill="#e8262a" stroke="none" stroke-width="0.5" />
<circle cx="504.69" cy="45.43" r="0.8" fill="#e8262a" stroke="none" stroke-width="0.5" />
<circle cx="505.62" cy="45.23" r="0.8" fill="#e8262a" stroke="none" stroke-width="0.5" />
<circle cx="506.55" cy="46.48" r="0.8" fill="#e8262a" stroke="none" stroke-width="0.5" />
<circle cx="507.48" cy="45.86" r="0.8" fill="#e8262a" stroke="none" stroke-width="0.5" />
<circle cx="508.40" cy="43.92" r="0.8" fill="#e8262a" stroke="none" stroke-width="0.5" />
<circle cx="509.33" cy="44.29" r="0.8" fill="#e8262a" stroke="none" stroke-width="0.5" />
<circle cx="510.26" cy="45.31" r="0.8" fill="#e8262a" stroke="none" stroke-width="0.5" />
<circle cx="511.19" cy="42.98" r="0.8" fill="#e8262a" stroke="none" stroke-width="0.5" />
<circle cx="512.12" cy="44.56" r="0.8" fill="#e8262a" stroke="none" stroke-width="0.5" />
<circle cx="513.05" cy="43.50" r="0.8" fill="#e8262a" stroke="none" stroke-width="0.5" />
<circle cx="513.98" cy="43.32" r="0.8" fill="#e8262a" stroke="none" stroke-width="0.5" />
<circle cx="514.91" cy="43.11" r="0.8" fill="#e8262a" stroke="none" stroke-width="0.5" />
<circle cx="515.84" cy="45.67" r="0.8" fill="#e8262a" stroke="none" stroke-width="0.5" />
<circle cx="516.76" cy="43.37" r="0.8" fill="#e8262a" stroke="none" stroke-width="0.5" />
<circle cx="517.69" cy="43.79" r="0.8" fill="#e8262a" stroke="none" stroke-width="0.5" />
<circle cx="518.62" cy="44.31" r="0.8" fill="#e8262a" stroke="none" stroke-width="0.5" />
<circle cx="519.55" cy="46.04" r="0.8" fill="#e8262a" stroke="none" stroke-width="0.5" />
<circle cx="520.48" cy="43.19" r="0.8" fill="#e8262a" stroke="none" stroke-width="0.5" />
<circle cx="521.41" cy="44.52" r="0.8" fill="#e8262a" stroke="none" stroke-width="0.5" />
<circle cx="522.34" cy="44.88" r="0.8" fill="#e8262a" stroke="none" stroke-width="0.5" />
<circle cx="523.27" cy="46.08" r="0.8" fill="#e8262a" stroke="none" stroke-width="0.5" />
<circle cx="524.20" cy="45.85" r="0.8" fill="#e8262a" stroke="none" stroke-width="0.5" />
<circle cx="525.13" cy="46.01" r="0.8" fill="#e8262a" stroke="none" stroke-width="0.5" />
<circle cx="526.06" cy="43.90" r="0.8" fill="#e8262a" stroke="none" stroke-width="0.5" />
<circle cx="526.98" cy="44.40" r="0.8" fill="#e8262a" stroke="none" stroke-width="0.5" />
<circle cx="527.91" cy="44.19" r="0.8" fill="#e8262a" stroke="none" stroke-width="0.5" />
<circle cx="528.84" cy="46.08" r="0.8" fill="#e8262a" stroke="none" stroke-width="0.5" />
<circle cx="529.77" cy="46.35" r="0.8" fill="#e8262a" stroke="none" stroke-width="0.5" />
<circle cx="530.70" cy="43.44" r="0.8" fill="#e8262a" stroke="none" stroke-width="0.5" />
<rect x="437.93" y="75.50" width="1.60" height="1.60" fill="#111" stroke="none" stroke-width="0.6" />
<rect x="438.86" y="75.50" width="1.60" height="1.60" fill="#111" stroke="none" stroke-width="0.6" />
<rect x="439.79" y="76.30" width="1.60" height="1.60" fill="#111" stroke="none" stroke-width="0.6" />
<rect x="440.72" y="78.50" width="1.60" height="1.60" fill="#111" stroke="none" stroke-width="0.6" />
<rect x="441.64" y="76.30" width="1.60" height="1.60" fill="#111" stroke="none" stroke-width="0.6" />
<rect x="442.57" y="74.70" width="1.60" height="1.60" fill="#111" stroke="none" stroke-width="0.6" />
<rect x="443.50" y="77.10" width="1.60" height="1.60" fill="#111" stroke="none" stroke-width="0.6" />
<rect x="444.43" y="77.90" width="1.60" height="1.60" fill="#111" stroke="none" stroke-width="0.6" />
<rect x="445.36" y="75.50" width="1.60" height="1.60" fill="#111" stroke="none" stroke-width="0.6" />
<rect x="446.29" y="76.30" width="1.60" height="1.60" fill="#111" stroke="none" stroke-width="0.6" />
<rect x="447.22" y="76.30" width="1.60" height="1.60" fill="#111" stroke="none" stroke-width="0.6" />
<rect x="448.15" y="71.70" width="1.60" height="1.60" fill="#111" stroke="none" stroke-width="0.6" />
<rect x="449.08" y="75.50" width="1.60" height="1.60" fill="#111" stroke="none" stroke-width="0.6" />
<rect x="450.01" y="76.30" width="1.60" height="1.60" fill="#111" stroke="none" stroke-width="0.6" />
<rect x="450.94" y="77.10" width="1.60" height="1.60" fill="#111" stroke="none" stroke-width="0.6" />
<rect x="451.86" y="76.30" width="1.60" height="1.60" fill="#111" stroke="none" stroke-width="0.6" />
<rect x="452.79" y="77.90" width="1.60" height="1.60" fill="#111" stroke="none" stroke-width="0.6" />
<rect x="453.72" y="77.90" width="1.60" height="1.60" fill="#111" stroke="none" stroke-width="0.6" />
<rect x="454.65" y="76.30" width="1.60" height="1.60" fill="#111" stroke="none" stroke-width="0.6" />
<rect x="455.58" y="80.70" width="1.60" height="1.60" fill="#111" stroke="none" stroke-width="0.6" />
<rect x="456.51" y="77.10" width="1.60" height="1.60" fill="#111" stroke="none" stroke-width="0.6" />
<rect x="457.44" y="77.90" width="1.60" height="1.60" fill="#111" stroke="none" stroke-width="0.6" />
<rect x="458.37" y="78.50" width="1.60" height="1.60" fill="#111" stroke="none" stroke-width="0.6" />
<rect x="459.30" y="78.50" width="1.60" height="1.60" fill="#111" stroke="none" stroke-width="0.6" />
<rect x="460.23" y="74.70" width="1.60" height="1.60" fill="#111" stroke="none" stroke-width="0.6" />
<rect x="461.15" y="77.10" width="1.60" height="1.60" fill="#111" stroke="none" stroke-width="0.6" />
<rect x="462.08" y="78.50" width="1.60" height="1.60" fill="#111" stroke="none" stroke-width="0.6" />
<rect x="463.01" y="77.10" width="1.60" height="1.60" fill="#111" stroke="none" stroke-width="0.6" />
<rect x="463.94" y="76.30" width="1.60" height="1.60" fill="#111" stroke="none" stroke-width="0.6" />
<rect x="464.87" y="76.30" width="1.60" height="1.60" fill="#111" stroke="none" stroke-width="0.6" />
<rect x="465.80" y="76.30" width="1.60" height="1.60" fill="#111" stroke="none" stroke-width="0.6" />
<rect x="466.73" y="76.30" width="1.60" height="1.60" fill="#111" stroke="none" stroke-width="0.6" />
<rect x="467.66" y="75.50" width="1.60" height="1.60" fill="#111" stroke="none" stroke-width="0.6" />
<rect x="468.59" y="77.10" width="1.60" height="1.60" fill="#111" stroke="none" stroke-width="0.6" />
<rect x="469.51" y="78.50" width="1.60" height="1.60" fill="#111" stroke="none" stroke-width="0.6" />
<rect x="470.44" y="76.30" width="1.60" height="1.60" fill="#111" stroke="none" stroke-width="0.6" />
<rect x="471.37" y="74.70" width="1.60" height="1.60" fill="#111" stroke="none" stroke-width="0.6" />
<rect x="472.30" y="76.30" width="1.60" height="1.60" fill="#111" stroke="none" stroke-width="0.6" />
<rect x="473.23" y="75.50" width="1.60" height="1.60" fill="#111" stroke="none" stroke-width="0.6" />
<rect x="474.16" y="76.30" width="1.60" height="1.60" fill="#111" stroke="none" stroke-width="0.6" />
<rect x="475.09" y="77.10" width="1.60" height="1.60" fill="#111" stroke="none" stroke-width="0.6" />
<rect x="476.02" y="75.50" width="1.60" height="1.60" fill="#111" stroke="none" stroke-width="0.6" />
<rect x="476.95" y="75.50" width="1.60" height="1.60" fill="#111" stroke="none" stroke-width="0.6" />
<rect x="477.88" y="76.30" width="1.60" height="1.60" fill="#111" stroke="none" stroke-width="0.6" />
<rect x="478.81" y="77.90" width="1.60" height="1.60" fill="#111" stroke="none" stroke-width="0.6" />
<rect x="479.73" y="74.70" width="1.60" height="1.60" fill="#111" stroke="none" stroke-width="0.6" />
<rect x="480.66" y="75.50" width="1.60" height="1.60" fill="#111" stroke="none" stroke-width="0.6" />
<rect x="481.59" y="74.70" width="1.60" height="1.60" fill="#111" stroke="none" stroke-width="0.6" />
<rect x="482.52" y="77.90" width="1.60" height="1.60" fill="#111" stroke="none" stroke-width="0.6" />
<rect x="483.45" y="80.70" width="1.60" height="1.60" fill="#111" stroke="none" stroke-width="0.6" />
<rect x="484.38" y="77.10" width="1.60" height="1.60" fill="#111" stroke="none" stroke-width="0.6" />
<rect x="485.31" y="75.50" width="1.60" height="1.60" fill="#111" stroke="none" stroke-width="0.6" />
<rect x="486.24" y="76.30" width="1.60" height="1.60" fill="#111" stroke="none" stroke-width="0.6" />
<rect x="487.17" y="77.90" width="1.60" height="1.60" fill="#111" stroke="none" stroke-width="0.6" />
<rect x="488.10" y="74.70" width="1.60" height="1.60" fill="#111" stroke="none" stroke-width="0.6" />
<rect x="489.02" y="75.50" width="1.60" height="1.60" fill="#111" stroke="none" stroke-width="0.6" />
<rect x="489.95" y="76.30" width="1.60" height="1.60" fill="#111" stroke="none" stroke-width="0.6" />
<rect x="490.88" y="77.90" width="1.60" height="1.60" fill="#111" stroke="none" stroke-width="0.6" />
<rect x="491.81" y="76.30" width="1.60" height="1.60" fill="#111" stroke="none" stroke-width="0.6" />
<rect x="492.74" y="75.50" width="1.60" height="1.60" fill="#111" stroke="none" stroke-width="0.6" />
<rect x="493.67" y="78.50" width="1.60" height="1.60" fill="#111" stroke="none" stroke-width="0.6" />
<rect x="494.60" y="76.30" width="1.60" height="1.60" fill="#111" stroke="none" stroke-width="0.6" />
<rect x="495.53" y="76.30" width="1.60" height="1.60" fill="#111" stroke="none" stroke-width="0.6" />
<rect x="496.46" y="77.90" width="1.60" height="1.60" fill="#111" stroke="none" stroke-width="0.6" />
<rect x="497.38" y="76.30" width="1.60" height="1.60" fill="#111" stroke="none" stroke-width="0.6" />
<rect x="498.31" y="77.10" width="1.60" height="1.60" fill="#111" stroke="none" stroke-width="0.6" />
<rect x="499.24" y="75.50" width="1.60" height="1.60" fill="#111" stroke="none" stroke-width="0.6" />
<rect x="500.17" y="75.50" width="1.60" height="1.60" fill="#111" stroke="none" stroke-width="0.6" />
<rect x="501.10" y="77.10" width="1.60" height="1.60" fill="#111" stroke="none" stroke-width="0.6" />
<rect x="502.03" y="77.10" width="1.60" height="1.60" fill="#111" stroke="none" stroke-width="0.6" />
<rect x="502.96" y="77.10" width="1.60" height="1.60" fill="#111" stroke="none" stroke-width="0.6" />
<rect x="503.89" y="77.10" width="1.60" height="1.60" fill="#111" stroke="none" stroke-width="0.6" />
<rect x="504.82" y="76.30" width="1.60" height="1.60" fill="#111" stroke="none" stroke-width="0.6" />
<rect x="505.75" y="75.50" width="1.60" height="1.60" fill="#111" stroke="none" stroke-width="0.6" />
<rect x="506.68" y="75.50" width="1.60" height="1.60" fill="#111" stroke="none" stroke-width="0.6" />
<rect x="507.60" y="75.50" width="1.60" height="1.60" fill="#111" stroke="none" stroke-width="0.6" />
<rect x="508.53" y="76.30" width="1.60" height="1.60" fill="#111" stroke="none" stroke-width="0.6" />
<rect x="509.46" y="71.70" width="1.60" height="1.60" fill="#111" stroke="none" stroke-width="0.6" />
<rect x="510.39" y="77.10" width="1.60" height="1.60" fill="#111" stroke="none" stroke-width="0.6" />
<rect x="511.32" y="75.50" width="1.60" height="1.60" fill="#111" stroke="none" stroke-width="0.6" />
<rect x="512.25" y="77.10" width="1.60" height="1.60" fill="#111" stroke="none" stroke-width="0.6" />
<rect x="513.18" y="74.70" width="1.60" height="1.60" fill="#111" stroke="none" stroke-width="0.6" />
<rect x="514.11" y="76.30" width="1.60" height="1.60" fill="#111" stroke="none" stroke-width="0.6" />
<rect x="515.04" y="77.10" width="1.60" height="1.60" fill="#111" stroke="none" stroke-width="0.6" />
<rect x="515.97" y="76.30" width="1.60" height="1.60" fill="#111" stroke="none" stroke-width="0.6" />
<rect x="516.89" y="75.50" width="1.60" height="1.60" fill="#111" stroke="none" stroke-width="0.6" />
<rect x="517.82" y="77.10" width="1.60" height="1.60" fill="#111" stroke="none" stroke-width="0.6" />
<rect x="518.75" y="74.70" width="1.60" height="1.60" fill="#111" stroke="none" stroke-width="0.6" />
<rect x="519.68" y="77.10" width="1.60" height="1.60" fill="#111" stroke="none" stroke-width="0.6" />
<rect x="520.61" y="76.30" width="1.60" height="1.60" fill="#111" stroke="none" stroke-width="0.6" />
<rect x="521.54" y="78.50" width="1.60" height="1.60" fill="#111" stroke="none" stroke-width="0.6" />
<rect x="522.47" y="75.50" width="1.60" height="1.60" fill="#111" stroke="none" stroke-width="0.6" />
<rect x="523.40" y="76.30" width="1.60" height="1.60" fill="#111" stroke="none" stroke-width="0.6" />
<rect x="524.33" y="77.10" width="1.60" height="1.60" fill="#111" stroke="none" stroke-width="0.6" />
<rect x="525.26" y="76.30" width="1.60" height="1.60" fill="#111" stroke="none" stroke-width="0.6" />
<rect x="526.18" y="75.50" width="1.60" height="1.60" fill="#111" stroke="none" stroke-width="0.6" />
<rect x="527.11" y="76.30" width="1.60" height="1.60" fill="#111" stroke="none" stroke-width="0.6" />
<rect x="528.04" y="67.70" width="1.60" height="1.60" fill="#111" stroke="none" stroke-width="0.6" />
<rect x="528.97" y="77.10" width="1.60" height="1.60" fill="#111" stroke="none" stroke-width="0.6" />
<rect x="529.90" y="77.10" width="1.60" height="1.60" fill="#111" stroke="none" stroke-width="0.6" />
<text x="427.00" y="31.70" font-size="4.3" text-anchor="end" font-weight="bold" fill="#111" stroke="#111" stroke-width="0.172" >10<tspan dy="-1.6" font-size="2.8">6</tspan></text>
<line x1="428.20" y1="30.30" x2="429.80" y2="30.30" stroke="#111" stroke-width="0.5" />
<text x="427.00" y="63.00" font-size="4.3" text-anchor="end" font-weight="bold" fill="#111" stroke="#111" stroke-width="0.172" >10<tspan dy="-1.6" font-size="2.8">5</tspan></text>
<line x1="428.20" y1="61.60" x2="429.80" y2="61.60" stroke="#111" stroke-width="0.5" />
<text x="427.00" y="93.70" font-size="4.3" text-anchor="end" font-weight="bold" fill="#111" stroke="#111" stroke-width="0.172" >10<tspan dy="-1.6" font-size="2.8">4</tspan></text>
<line x1="428.20" y1="92.30" x2="429.80" y2="92.30" stroke="#111" stroke-width="0.5" />
<text x="437.80" y="100.00" font-size="4.4" text-anchor="middle" font-weight="bold" fill="#111" stroke="#111" stroke-width="0.176" >0</text>
<line x1="437.80" y1="92.90" x2="437.80" y2="91.30" stroke="#111" stroke-width="0.5" />
<text x="456.38" y="100.00" font-size="4.4" text-anchor="middle" font-weight="bold" fill="#111" stroke="#111" stroke-width="0.176" >20</text>
<line x1="456.38" y1="92.90" x2="456.38" y2="91.30" stroke="#111" stroke-width="0.5" />
<text x="474.96" y="100.00" font-size="4.4" text-anchor="middle" font-weight="bold" fill="#111" stroke="#111" stroke-width="0.176" >40</text>
<line x1="474.96" y1="92.90" x2="474.96" y2="91.30" stroke="#111" stroke-width="0.5" />
<text x="493.54" y="100.00" font-size="4.4" text-anchor="middle" font-weight="bold" fill="#111" stroke="#111" stroke-width="0.176" >60</text>
<line x1="493.54" y1="92.90" x2="493.54" y2="91.30" stroke="#111" stroke-width="0.5" />
<text x="512.12" y="100.00" font-size="4.4" text-anchor="middle" font-weight="bold" fill="#111" stroke="#111" stroke-width="0.176" >80</text>
<line x1="512.12" y1="92.90" x2="512.12" y2="91.30" stroke="#111" stroke-width="0.5" />
<text x="530.70" y="100.00" font-size="4.4" text-anchor="middle" font-weight="bold" fill="#111" stroke="#111" stroke-width="0.176" >100</text>
<line x1="530.70" y1="92.90" x2="530.70" y2="91.30" stroke="#111" stroke-width="0.5" />
<text x="485.90" y="106.70" font-size="5.8" text-anchor="middle" font-weight="bold" fill="#111" stroke="#111" stroke-width="0.232" textLength="25.80" lengthAdjust="spacingAndGlyphs" >Cycle (#)</text>
<text x="416.50" y="54.20" font-size="5.6" text-anchor="middle" font-weight="bold" fill="#111" transform="rotate(-90 416.50 54.20)" stroke="#111" stroke-width="0.224" textLength="38.70" lengthAdjust="spacingAndGlyphs" >Resistance (Ω)</text>
<text x="432.40" y="37.20" font-size="4.8" text-anchor="start" font-weight="bold" fill="#e8262a" stroke="#e8262a" stroke-width="0.192" textLength="10.80" lengthAdjust="spacingAndGlyphs" >HRS</text>
<text x="432.40" y="68.50" font-size="4.8" text-anchor="start" font-weight="bold" fill="#111" stroke="#111" stroke-width="0.192" textLength="10.40" lengthAdjust="spacingAndGlyphs" >LRS</text>
<text x="506.90" y="20.90" font-size="4.4" text-anchor="start" font-weight="bold" fill="#111" stroke="#111" stroke-width="0.176" textLength="29.80" lengthAdjust="spacingAndGlyphs" >Read @ 0.3V</text>
<defs>
<linearGradient id="grod" x1="0" y1="0" x2="1" y2="1"><stop offset="0" stop-color="#ff5a5a"/><stop offset="1" stop-color="#d81828"/></linearGradient>
<radialGradient id="gblue" cx="0.35" cy="0.35" r="0.7"><stop offset="0" stop-color="#6cc8f4"/><stop offset="1" stop-color="#0b82c8"/></radialGradient>
<radialGradient id="gmag" cx="0.35" cy="0.35" r="0.7"><stop offset="0" stop-color="#ff7ae8"/><stop offset="1" stop-color="#d412b4"/></radialGradient>
<radialGradient id="gyel" cx="0.35" cy="0.35" r="0.7"><stop offset="0" stop-color="#f4e05a"/><stop offset="1" stop-color="#a89010"/></radialGradient>
<linearGradient id="gslabtop" x1="0.35" y1="0" x2="0.25" y2="1"><stop offset="0" stop-color="#d4d4d4"/><stop offset="0.45" stop-color="#c2c2c2"/><stop offset="1" stop-color="#8f8f8f"/></linearGradient>
<linearGradient id="gmagf" x1="0" y1="0" x2="0" y2="1"><stop offset="0" stop-color="#f24fd0"/><stop offset="1" stop-color="#c0109c"/></linearGradient>
</defs>
<line x1="23.20" y1="158.40" x2="44.50" y2="147.00" stroke="#ffb0b0" stroke-width="3.4" stroke-linecap="round" opacity="0.55" filter="url(#blur06)"/>
<line x1="41.50" y1="159.20" x2="63.40" y2="145.00" stroke="#ffb0b0" stroke-width="3.4" stroke-linecap="round" opacity="0.55" filter="url(#blur06)"/>
<line x1="58.50" y1="160.00" x2="79.30" y2="145.40" stroke="#ffb0b0" stroke-width="3.4" stroke-linecap="round" opacity="0.55" filter="url(#blur06)"/>
<line x1="76.70" y1="160.80" x2="95.00" y2="145.80" stroke="#ffb0b0" stroke-width="3.4" stroke-linecap="round" opacity="0.55" filter="url(#blur06)"/>
<line x1="95.00" y1="162.20" x2="110.80" y2="146.70" stroke="#ffb0b0" stroke-width="3.4" stroke-linecap="round" opacity="0.55" filter="url(#blur06)"/>
<line x1="113.70" y1="163.30" x2="127.50" y2="148.30" stroke="#ffb0b0" stroke-width="3.4" stroke-linecap="round" opacity="0.55" filter="url(#blur06)"/>
<line x1="132.50" y1="164.50" x2="144.20" y2="148.80" stroke="#ffb0b0" stroke-width="3.4" stroke-linecap="round" opacity="0.55" filter="url(#blur06)"/>
<line x1="151.70" y1="165.50" x2="160.80" y2="150.00" stroke="#ffb0b0" stroke-width="3.4" stroke-linecap="round" opacity="0.55" filter="url(#blur06)"/>
<line x1="23.20" y1="158.40" x2="44.50" y2="147.00" stroke="#e62a34" stroke-width="2.0" stroke-linecap="round"/>
<line x1="23.20" y1="158.10" x2="44.50" y2="146.70" stroke="#ff7070" stroke-width="0.6" stroke-linecap="round"/>
<line x1="41.50" y1="159.20" x2="63.40" y2="145.00" stroke="#e62a34" stroke-width="2.0" stroke-linecap="round"/>
<line x1="41.50" y1="158.90" x2="63.40" y2="144.70" stroke="#ff7070" stroke-width="0.6" stroke-linecap="round"/>
<line x1="58.50" y1="160.00" x2="79.30" y2="145.40" stroke="#e62a34" stroke-width="2.0" stroke-linecap="round"/>
<line x1="58.50" y1="159.70" x2="79.30" y2="145.10" stroke="#ff7070" stroke-width="0.6" stroke-linecap="round"/>
<line x1="76.70" y1="160.80" x2="95.00" y2="145.80" stroke="#e62a34" stroke-width="2.0" stroke-linecap="round"/>
<line x1="76.70" y1="160.50" x2="95.00" y2="145.50" stroke="#ff7070" stroke-width="0.6" stroke-linecap="round"/>
<line x1="95.00" y1="162.20" x2="110.80" y2="146.70" stroke="#e62a34" stroke-width="2.0" stroke-linecap="round"/>
<line x1="95.00" y1="161.90" x2="110.80" y2="146.40" stroke="#ff7070" stroke-width="0.6" stroke-linecap="round"/>
<line x1="113.70" y1="163.30" x2="127.50" y2="148.30" stroke="#e62a34" stroke-width="2.0" stroke-linecap="round"/>
<line x1="113.70" y1="163.00" x2="127.50" y2="148.00" stroke="#ff7070" stroke-width="0.6" stroke-linecap="round"/>
<line x1="132.50" y1="164.50" x2="144.20" y2="148.80" stroke="#e62a34" stroke-width="2.0" stroke-linecap="round"/>
<line x1="132.50" y1="164.20" x2="144.20" y2="148.50" stroke="#ff7070" stroke-width="0.6" stroke-linecap="round"/>
<line x1="151.70" y1="165.50" x2="160.80" y2="150.00" stroke="#e62a34" stroke-width="2.0" stroke-linecap="round"/>
<line x1="151.70" y1="165.20" x2="160.80" y2="149.70" stroke="#ff7070" stroke-width="0.6" stroke-linecap="round"/>
<path d="M40.80,180.00 L165.50,188.40 L157.60,207.60 L20.80,195.30Z" fill="url(#gslabtop)" stroke="none" stroke-width="0.6" />
<path d="M20.80,195.30 L157.60,207.60 L157.80,212.60 L20.90,199.40Z" fill="#5a5156" stroke="none" stroke-width="0.6" />
<path d="M157.60,207.60 L165.50,188.40 L165.60,192.60 L157.80,212.40Z" fill="#7a7478" stroke="none" stroke-width="0.6" />
<path d="M22.00,200.50 L157.80,213.00 L150.00,214.50 L30.00,203.00Z" fill="#bbb" stroke="none" stroke-width="0.6" opacity="0.5" filter="url(#blur1)"/>
<circle cx="109.60" cy="184.80" r="1.9" fill="#7fe6ff" stroke="none" stroke-width="0.5" opacity="0.8" filter="url(#blur06)"/>
<line x1="109.60" y1="184.70" x2="120.00" y2="184.60" stroke="#8a8a8a" stroke-width="2.4" />
<line x1="109.60" y1="183.90" x2="120.00" y2="183.80" stroke="#b5b5b5" stroke-width="0.8" />
<circle cx="109.60" cy="188.00" r="1.9" fill="#7fe6ff" stroke="none" stroke-width="0.5" opacity="0.8" filter="url(#blur06)"/>
<line x1="109.60" y1="187.90" x2="120.00" y2="187.80" stroke="#8a8a8a" stroke-width="2.4" />
<line x1="109.60" y1="187.10" x2="120.00" y2="187.00" stroke="#b5b5b5" stroke-width="0.8" />
<circle cx="109.60" cy="191.20" r="1.9" fill="#7fe6ff" stroke="none" stroke-width="0.5" opacity="0.8" filter="url(#blur06)"/>
<line x1="109.60" y1="191.10" x2="120.00" y2="191.00" stroke="#8a8a8a" stroke-width="2.4" />
<line x1="109.60" y1="190.30" x2="120.00" y2="190.20" stroke="#b5b5b5" stroke-width="0.8" />
<circle cx="109.60" cy="194.40" r="1.9" fill="#7fe6ff" stroke="none" stroke-width="0.5" opacity="0.8" filter="url(#blur06)"/>
<line x1="109.60" y1="194.30" x2="120.00" y2="194.20" stroke="#8a8a8a" stroke-width="2.4" />
<line x1="109.60" y1="193.50" x2="120.00" y2="193.40" stroke="#b5b5b5" stroke-width="0.8" />
<path d="M119,183.00 C128,182.40 138,184.60 148,185.80 S156,188.40 160.5,187.40 L160,190.90 C154,191.00 146,189.60 138,188.80 S126,186.00 119,186.30Z" fill="url(#gmagf)" stroke="#b00c92" stroke-width="0.35" />
<path d="M120,183.80 C128,183.20 138,185.40 148,186.60" fill="none" stroke="#ff8ae4" stroke-width="0.7" opacity="0.9"/>
<path d="M119,186.00 C128,184.30 138,188.70 148,188.90 S156,190.50 160.5,190.60 L160,194.10 C154,195.30 146,192.70 138,190.70 S126,189.00 119,189.30Z" fill="url(#gmagf)" stroke="#b00c92" stroke-width="0.35" />
<path d="M120,186.80 C128,185.10 138,189.50 148,189.70" fill="none" stroke="#ff8ae4" stroke-width="0.7" opacity="0.9"/>
<path d="M119,189.00 C128,188.30 138,190.70 148,191.70 S156,194.10 160.5,193.20 L160,196.70 C154,196.90 146,195.50 138,194.70 S126,192.00 119,192.30Z" fill="url(#gmagf)" stroke="#b00c92" stroke-width="0.35" />
<path d="M120,189.80 C128,189.10 138,191.50 148,192.50" fill="none" stroke="#ff8ae4" stroke-width="0.7" opacity="0.9"/>
<path d="M119,192.20 C128,190.60 138,194.80 148,194.20 S156,195.00 160.5,195.00 L160,198.50 C154,199.60 146,198.00 138,197.00 S126,195.20 119,195.50Z" fill="url(#gmagf)" stroke="#b00c92" stroke-width="0.35" />
<path d="M120,193.00 C128,191.40 138,195.60 148,195.00" fill="none" stroke="#ff8ae4" stroke-width="0.7" opacity="0.9"/>
<path d="M25,138.3 C38,141 47,148 53.3,156.7 C58,163.5 61,167 65,171.5 C76,184 90,191.5 103.2,192.9" fill="none" stroke="#f6a800" stroke-width="1.3" />
<path d="M106.6,193.4 L101.6,190.6 L102.4,195.4Z" fill="#f6a800" stroke="none" stroke-width="0.6" />
<circle cx="32.50" cy="131.20" r="1.55" fill="url(#gblue)" stroke="none" stroke-width="0.5" />
<circle cx="50.30" cy="127.50" r="1.55" fill="url(#gblue)" stroke="none" stroke-width="0.5" />
<circle cx="42.50" cy="135.80" r="1.55" fill="url(#gblue)" stroke="none" stroke-width="0.5" />
<circle cx="59.50" cy="134.20" r="1.55" fill="url(#gblue)" stroke="none" stroke-width="0.5" />
<circle cx="34.20" cy="144.20" r="1.55" fill="url(#gblue)" stroke="none" stroke-width="0.5" />
<circle cx="49.20" cy="141.70" r="1.55" fill="url(#gblue)" stroke="none" stroke-width="0.5" />
<circle cx="55.50" cy="145.50" r="1.55" fill="url(#gblue)" stroke="none" stroke-width="0.5" />
<circle cx="47.00" cy="135.80" r="2.0" fill="url(#gmag)" stroke="none" stroke-width="0.5" />
<circle cx="48.70" cy="148.30" r="1.8" fill="url(#gmag)" stroke="none" stroke-width="0.5" />
<circle cx="68.80" cy="156.30" r="1.9" fill="url(#gmag)" stroke="none" stroke-width="0.5" />
<circle cx="57.00" cy="164.70" r="2.0" fill="url(#gmag)" stroke="none" stroke-width="0.5" />
<circle cx="73.30" cy="168.00" r="1.9" fill="url(#gmag)" stroke="none" stroke-width="0.5" />
<circle cx="77.70" cy="175.20" r="1.9" fill="url(#gmag)" stroke="none" stroke-width="0.5" />
<circle cx="89.20" cy="174.70" r="1.9" fill="url(#gmag)" stroke="none" stroke-width="0.5" />
<circle cx="102.50" cy="180.50" r="1.9" fill="url(#gmag)" stroke="none" stroke-width="0.5" />
<circle cx="88.30" cy="184.20" r="1.8" fill="url(#gmag)" stroke="none" stroke-width="0.5" />
<circle cx="103.80" cy="184.70" r="1.8" fill="url(#gmag)" stroke="none" stroke-width="0.5" />
<circle cx="35.80" cy="139.70" r="1.05" fill="url(#gyel)" stroke="none" stroke-width="0.5" />
<circle cx="51.30" cy="139.70" r="1.05" fill="url(#gyel)" stroke="none" stroke-width="0.5" />
<circle cx="58.30" cy="147.20" r="1.05" fill="url(#gyel)" stroke="none" stroke-width="0.5" />
<circle cx="49.40" cy="163.80" r="1.05" fill="url(#gyel)" stroke="none" stroke-width="0.5" />
<circle cx="65.00" cy="172.80" r="1.05" fill="url(#gyel)" stroke="none" stroke-width="0.5" />
<circle cx="87.00" cy="170.00" r="1.05" fill="url(#gyel)" stroke="none" stroke-width="0.5" />
<circle cx="95.30" cy="181.30" r="1.05" fill="url(#gyel)" stroke="none" stroke-width="0.5" />
<circle cx="110.00" cy="178.30" r="1.05" fill="url(#gyel)" stroke="none" stroke-width="0.5" />
<circle cx="106.90" cy="191.20" r="1.05" fill="url(#gyel)" stroke="none" stroke-width="0.5" />
<circle cx="76.30" cy="133.00" r="2.9" fill="#0b4c8c" stroke="#06284c" stroke-width="0.4" />
<circle cx="75.80" cy="132.40" r="1.5" fill="#2a8ad8" stroke="none" stroke-width="0.5" />
<circle cx="105.80" cy="133.00" r="2.9" fill="#c89a18" stroke="#6a4c08" stroke-width="0.4" />
<circle cx="105.40" cy="132.50" r="1.4" fill="#e8c040" stroke="none" stroke-width="0.5" />
<circle cx="134.20" cy="133.00" r="2.9" fill="#d010a8" stroke="#7a0860" stroke-width="0.4" />
<circle cx="133.80" cy="132.50" r="1.4" fill="#f050d0" stroke="none" stroke-width="0.5" />
<text x="81.30" y="134.70" font-size="4.6" text-anchor="start" font-weight="bold" fill="#111" stroke="#111" stroke-width="0.184" textLength="16.70" lengthAdjust="spacingAndGlyphs" >Initiator</text>
<text x="110.80" y="134.70" font-size="4.6" text-anchor="start" font-weight="bold" fill="#111" stroke="#111" stroke-width="0.184" textLength="16.20" lengthAdjust="spacingAndGlyphs" >Radical</text>
<text x="140.00" y="134.70" font-size="4.6" text-anchor="start" font-weight="bold" fill="#111" stroke="#111" stroke-width="0.184" textLength="20.80" lengthAdjust="spacingAndGlyphs" >Monomer</text>
<rect x="180.00" y="125.30" width="68.00" height="88.90" fill="#eef3ea" stroke="#555" stroke-width="0.7" />
<rect x="180.00" y="125.30" width="38.70" height="7.70" fill="#fbecbc" stroke="#555" stroke-width="0.6" />
<text x="199.50" y="131.40" font-size="5.2" text-anchor="middle" font-weight="bold" fill="#111" stroke="#111" stroke-width="0.208" textLength="22.50" lengthAdjust="spacingAndGlyphs" >NOR gate</text>
<line x1="200.00" y1="144.20" x2="200.00" y2="170.80" stroke="#111" stroke-width="0.5" />
<path d="M197.90,139.6 L202.10,139.6 L200.00,144.2Z" fill="#fff" stroke="#222" stroke-width="0.5" />
<line x1="190.80" y1="166.70" x2="200.00" y2="149.50" stroke="#111" stroke-width="0.5" />
<rect x="193.70" y="156.20" width="2.2" height="6.4" transform="rotate(28 194.80 159.40)" fill="#fff" stroke="#222" stroke-width="0.45"/>
<circle cx="190.80" cy="166.70" r="0.55" fill="#111" stroke="none" stroke-width="0.5" />
<circle cx="200.00" cy="149.50" r="0.45" fill="#111" stroke="none" stroke-width="0.5" />
<line x1="213.30" y1="144.20" x2="213.30" y2="170.80" stroke="#111" stroke-width="0.5" />
<path d="M211.20,139.6 L215.40,139.6 L213.30,144.2Z" fill="#fff" stroke="#222" stroke-width="0.5" />
<line x1="204.10" y1="166.70" x2="213.30" y2="149.50" stroke="#111" stroke-width="0.5" />
<rect x="207.00" y="156.20" width="2.2" height="6.4" transform="rotate(28 208.10 159.40)" fill="#fff" stroke="#222" stroke-width="0.45"/>
<circle cx="204.10" cy="166.70" r="0.55" fill="#111" stroke="none" stroke-width="0.5" />
<circle cx="213.30" cy="149.50" r="0.45" fill="#111" stroke="none" stroke-width="0.5" />
<line x1="225.50" y1="144.20" x2="225.50" y2="170.80" stroke="#111" stroke-width="0.5" />
<path d="M223.40,139.6 L227.60,139.6 L225.50,144.2Z" fill="#fff" stroke="#222" stroke-width="0.5" />
<line x1="216.30" y1="166.70" x2="225.50" y2="149.50" stroke="#111" stroke-width="0.5" />
<rect x="219.20" y="156.20" width="2.2" height="6.4" transform="rotate(28 220.30 159.40)" fill="#fff" stroke="#222" stroke-width="0.45"/>
<circle cx="216.30" cy="166.70" r="0.55" fill="#111" stroke="none" stroke-width="0.5" />
<circle cx="225.50" cy="149.50" r="0.45" fill="#111" stroke="none" stroke-width="0.5" />
<line x1="185.80" y1="166.70" x2="232.50" y2="166.70" stroke="#111" stroke-width="0.5" />
<text x="194.30" y="143.20" font-size="3.6" text-anchor="middle" font-weight="normal" fill="#111" stroke="#111" stroke-width="0.079" >V<tspan dy="0.8" font-size="2.4">1</tspan></text>
<text x="207.60" y="143.20" font-size="3.6" text-anchor="middle" font-weight="normal" fill="#111" stroke="#111" stroke-width="0.079" >V<tspan dy="0.8" font-size="2.4">2</tspan></text>
<text x="189.20" y="157.80" font-size="4" text-anchor="middle" font-weight="bold" fill="#111" stroke="#111" stroke-width="0.160" >A</text>
<text x="203.30" y="157.80" font-size="4" text-anchor="middle" font-weight="bold" fill="#111" stroke="#111" stroke-width="0.160" >B</text>
<path d="M225.5,139.6 L225.5,136.7 L234.2,136.7 L234.2,144.6" fill="none" stroke="#222" stroke-width="0.5" />
<path d="M231.4,144.6 L237,144.6 L234.2,148Z" fill="none" stroke="#444" stroke-width="0.5" />
<text x="235.80" y="158.60" font-size="4" text-anchor="middle" font-weight="bold" fill="#111" stroke="#111" stroke-width="0.160" >A + B</text>
<line x1="230.80" y1="154.40" x2="240.80" y2="154.40" stroke="#111" stroke-width="0.4" />
<text x="186.40" y="175.90" font-size="4.2" text-anchor="start" font-weight="bold" fill="#111" stroke="#111" stroke-width="0.168" textLength="13.20" lengthAdjust="spacingAndGlyphs" >Input 1</text>
<text x="201.00" y="175.90" font-size="4.2" text-anchor="start" font-weight="bold" fill="#111" stroke="#111" stroke-width="0.168" textLength="13.20" lengthAdjust="spacingAndGlyphs" >Input 2</text>
<text x="217.00" y="175.90" font-size="4.2" text-anchor="start" font-weight="bold" fill="#111" stroke="#111" stroke-width="0.168" textLength="13.00" lengthAdjust="spacingAndGlyphs" >Output</text>
<line x1="181.00" y1="180.30" x2="247.00" y2="180.30" stroke="#333" stroke-width="0.6" stroke-dasharray="2.2 1.4"/>
<rect x="203.30" y="188.30" width="12.50" height="5.40" fill="#fff" stroke="#111" stroke-width="0.9" />
<path d="M204.30,192.50 L206.80,192.50 L207.80,189.60 L209.55,189.60 L210.55,192.50 L212.30,192.50 L213.30,189.60 L214.80,189.60" fill="none" stroke="#333" stroke-width="0.4" />
<rect x="203.30" y="200.90" width="12.50" height="5.60" fill="#fff" stroke="#111" stroke-width="0.9" />
<path d="M204.30,205.30 L206.80,205.30 L207.80,202.20 L209.55,202.20 L210.55,205.30 L212.30,205.30 L213.30,202.20 L214.80,202.20" fill="none" stroke="#333" stroke-width="0.4" />
<rect x="223.30" y="194.20" width="13.00" height="5.80" fill="#fff" stroke="#111" stroke-width="0.9" />
<path d="M224.30,198.80 L226.94,198.80 L227.98,195.50 L229.80,195.50 L230.84,198.80 L232.66,198.80 L233.70,195.50 L235.30,195.50" fill="none" stroke="#333" stroke-width="0.4" />
<text x="209.60" y="186.30" font-size="4.2" text-anchor="middle" font-weight="bold" fill="#111" stroke="#111" stroke-width="0.168" textLength="13.20" lengthAdjust="spacingAndGlyphs" >Input 1</text>
<text x="209.60" y="212.00" font-size="4.2" text-anchor="middle" font-weight="bold" fill="#111" stroke="#111" stroke-width="0.168" textLength="13.20" lengthAdjust="spacingAndGlyphs" >Input 2</text>
<text x="229.80" y="192.60" font-size="4.2" text-anchor="middle" font-weight="bold" fill="#111" stroke="#111" stroke-width="0.168" textLength="13.40" lengthAdjust="spacingAndGlyphs" >Output</text>
<path d="M203.3,191 L200,191 L200,203.7 L203.3,203.7 M200,197 L194.4,197 M215.8,191 L218.7,191 L218.7,203.7 L215.8,203.7 M218.7,197 L223.3,197 M236.3,197 L241.7,197 L241.7,204.2" fill="none" stroke="#333" stroke-width="0.5" />
<path d="M239.2,204.2 L244.2,204.2 L241.7,207.6Z" fill="none" stroke="#555" stroke-width="0.5" />
<path d="M194.4,195 L189.6,197.6 M190,197.4 L190,200.6 M187.6,200.7 L192.4,200.7 M188.8,202.4 L191.2,202.4 M190,202.4 L190,206.6" fill="none" stroke="#333" stroke-width="0.5" />
<path d="M187.8,206.6 L192.2,206.6 L190,210Z" fill="none" stroke="#555" stroke-width="0.5" />
<path d="M194.4,197 L192.6,196.3 L192.6,197.7Z" fill="#333" stroke="none" stroke-width="0.6" />
<text x="182.20" y="203.60" font-size="3.4" text-anchor="start" font-weight="normal" fill="#111" stroke="#111" stroke-width="0.075" >V<tspan dy="0.8" font-size="2.4">0</tspan></text>
<clipPath id="wclip"><rect x="250.4" y="125" width="159.79999999999998" height="89.6"/></clipPath>
<g clip-path="url(#wclip)">
<rect x="250.40" y="125.00" width="159.80" height="89.60" fill="#09808c" stroke="none" stroke-width="0.6" />
<path d="M322.30,115.00 C322.30,106.00 327.30,100.40 333.30,100.40 S343.30,106.00 344.80,115.50" fill="none" stroke="#055f6b" stroke-width="9.6" stroke-linecap="round"/>
<path d="M322.30,115.00 C322.30,106.00 327.30,100.40 333.30,100.40 S343.30,106.00 344.80,115.50" fill="none" stroke="#10adb7" stroke-width="7.6" stroke-linecap="round"/>
<path d="M322.20,111.00 C322.60,104.50 327.30,99.20 333.30,99.20 S340.80,102.00 342.80,107.00" fill="none" stroke="#2ac6ce" stroke-width="2.8" stroke-linecap="round"/>
<path d="M323.00,107.50 C324.40,103.00 327.30,99.80 330.80,98.70" fill="none" stroke="#eafcfd" stroke-width="1.25" stroke-linecap="round"/>
<path d="M287.30,118.30 C287.30,109.30 292.30,103.70 298.30,103.70 S308.30,109.30 309.80,118.80" fill="none" stroke="#055f6b" stroke-width="9.6" stroke-linecap="round"/>
<path d="M287.30,118.30 C287.30,109.30 292.30,103.70 298.30,103.70 S308.30,109.30 309.80,118.80" fill="none" stroke="#10adb7" stroke-width="7.6" stroke-linecap="round"/>
<path d="M287.20,114.30 C287.60,107.80 292.30,102.50 298.30,102.50 S305.80,105.30 307.80,110.30" fill="none" stroke="#2ac6ce" stroke-width="2.8" stroke-linecap="round"/>
<path d="M288.00,110.80 C289.40,106.30 292.30,103.10 295.80,102.00" fill="none" stroke="#eafcfd" stroke-width="1.25" stroke-linecap="round"/>
<path d="M415.80,121.10 C415.80,112.10 420.80,106.50 426.80,106.50 S436.80,112.10 438.30,121.60" fill="none" stroke="#055f6b" stroke-width="9.6" stroke-linecap="round"/>
<path d="M415.80,121.10 C415.80,112.10 420.80,106.50 426.80,106.50 S436.80,112.10 438.30,121.60" fill="none" stroke="#10adb7" stroke-width="7.6" stroke-linecap="round"/>
<path d="M415.70,117.10 C416.10,110.60 420.80,105.30 426.80,105.30 S434.30,108.10 436.30,113.10" fill="none" stroke="#2ac6ce" stroke-width="2.8" stroke-linecap="round"/>
<path d="M416.50,113.60 C417.90,109.10 420.80,105.90 424.30,104.80" fill="none" stroke="#eafcfd" stroke-width="1.25" stroke-linecap="round"/>
<path d="M252.30,121.60 C252.30,112.60 257.30,107.00 263.30,107.00 S273.30,112.60 274.80,122.10" fill="none" stroke="#055f6b" stroke-width="9.6" stroke-linecap="round"/>
<path d="M252.30,121.60 C252.30,112.60 257.30,107.00 263.30,107.00 S273.30,112.60 274.80,122.10" fill="none" stroke="#10adb7" stroke-width="7.6" stroke-linecap="round"/>
<path d="M252.20,117.60 C252.60,111.10 257.30,105.80 263.30,105.80 S270.80,108.60 272.80,113.60" fill="none" stroke="#2ac6ce" stroke-width="2.8" stroke-linecap="round"/>
<path d="M253.00,114.10 C254.40,109.60 257.30,106.40 260.80,105.30" fill="none" stroke="#eafcfd" stroke-width="1.25" stroke-linecap="round"/>
<path d="M380.80,124.40 C380.80,115.40 385.80,109.80 391.80,109.80 S401.80,115.40 403.30,124.90" fill="none" stroke="#055f6b" stroke-width="9.6" stroke-linecap="round"/>
<path d="M380.80,124.40 C380.80,115.40 385.80,109.80 391.80,109.80 S401.80,115.40 403.30,124.90" fill="none" stroke="#10adb7" stroke-width="7.6" stroke-linecap="round"/>
<path d="M380.70,120.40 C381.10,113.90 385.80,108.60 391.80,108.60 S399.30,111.40 401.30,116.40" fill="none" stroke="#2ac6ce" stroke-width="2.8" stroke-linecap="round"/>
<path d="M381.50,116.90 C382.90,112.40 385.80,109.20 389.30,108.10" fill="none" stroke="#eafcfd" stroke-width="1.25" stroke-linecap="round"/>
<path d="M217.30,124.90 C217.30,115.90 222.30,110.30 228.30,110.30 S238.30,115.90 239.80,125.40" fill="none" stroke="#055f6b" stroke-width="9.6" stroke-linecap="round"/>
<path d="M217.30,124.90 C217.30,115.90 222.30,110.30 228.30,110.30 S238.30,115.90 239.80,125.40" fill="none" stroke="#10adb7" stroke-width="7.6" stroke-linecap="round"/>
<path d="M217.20,120.90 C217.60,114.40 222.30,109.10 228.30,109.10 S235.80,111.90 237.80,116.90" fill="none" stroke="#2ac6ce" stroke-width="2.8" stroke-linecap="round"/>
<path d="M218.00,117.40 C219.40,112.90 222.30,109.70 225.80,108.60" fill="none" stroke="#eafcfd" stroke-width="1.25" stroke-linecap="round"/>
<path d="M345.80,127.70 C345.80,118.70 350.80,113.10 356.80,113.10 S366.80,118.70 368.30,128.20" fill="none" stroke="#055f6b" stroke-width="9.6" stroke-linecap="round"/>
<path d="M345.80,127.70 C345.80,118.70 350.80,113.10 356.80,113.10 S366.80,118.70 368.30,128.20" fill="none" stroke="#10adb7" stroke-width="7.6" stroke-linecap="round"/>
<path d="M345.70,123.70 C346.10,117.20 350.80,111.90 356.80,111.90 S364.30,114.70 366.30,119.70" fill="none" stroke="#2ac6ce" stroke-width="2.8" stroke-linecap="round"/>
<path d="M346.50,120.20 C347.90,115.70 350.80,112.50 354.30,111.40" fill="none" stroke="#eafcfd" stroke-width="1.25" stroke-linecap="round"/>
<path d="M310.80,131.00 C310.80,122.00 315.80,116.40 321.80,116.40 S331.80,122.00 333.30,131.50" fill="none" stroke="#055f6b" stroke-width="9.6" stroke-linecap="round"/>
<path d="M310.80,131.00 C310.80,122.00 315.80,116.40 321.80,116.40 S331.80,122.00 333.30,131.50" fill="none" stroke="#10adb7" stroke-width="7.6" stroke-linecap="round"/>
<path d="M310.70,127.00 C311.10,120.50 315.80,115.20 321.80,115.20 S329.30,118.00 331.30,123.00" fill="none" stroke="#2ac6ce" stroke-width="2.8" stroke-linecap="round"/>
<path d="M311.50,123.50 C312.90,119.00 315.80,115.80 319.30,114.70" fill="none" stroke="#eafcfd" stroke-width="1.25" stroke-linecap="round"/>
<path d="M275.80,134.30 C275.80,125.30 280.80,119.70 286.80,119.70 S296.80,125.30 298.30,134.80" fill="none" stroke="#055f6b" stroke-width="9.6" stroke-linecap="round"/>
<path d="M275.80,134.30 C275.80,125.30 280.80,119.70 286.80,119.70 S296.80,125.30 298.30,134.80" fill="none" stroke="#10adb7" stroke-width="7.6" stroke-linecap="round"/>
<path d="M275.70,130.30 C276.10,123.80 280.80,118.50 286.80,118.50 S294.30,121.30 296.30,126.30" fill="none" stroke="#2ac6ce" stroke-width="2.8" stroke-linecap="round"/>
<path d="M276.50,126.80 C277.90,122.30 280.80,119.10 284.30,118.00" fill="none" stroke="#eafcfd" stroke-width="1.25" stroke-linecap="round"/>
<path d="M404.30,137.10 C404.30,128.10 409.30,122.50 415.30,122.50 S425.30,128.10 426.80,137.60" fill="none" stroke="#055f6b" stroke-width="9.6" stroke-linecap="round"/>
<path d="M404.30,137.10 C404.30,128.10 409.30,122.50 415.30,122.50 S425.30,128.10 426.80,137.60" fill="none" stroke="#10adb7" stroke-width="7.6" stroke-linecap="round"/>
<path d="M404.20,133.10 C404.60,126.60 409.30,121.30 415.30,121.30 S422.80,124.10 424.80,129.10" fill="none" stroke="#2ac6ce" stroke-width="2.8" stroke-linecap="round"/>
<path d="M405.00,129.60 C406.40,125.10 409.30,121.90 412.80,120.80" fill="none" stroke="#eafcfd" stroke-width="1.25" stroke-linecap="round"/>
<path d="M240.80,137.60 C240.80,128.60 245.80,123.00 251.80,123.00 S261.80,128.60 263.30,138.10" fill="none" stroke="#055f6b" stroke-width="9.6" stroke-linecap="round"/>
<path d="M240.80,137.60 C240.80,128.60 245.80,123.00 251.80,123.00 S261.80,128.60 263.30,138.10" fill="none" stroke="#10adb7" stroke-width="7.6" stroke-linecap="round"/>
<path d="M240.70,133.60 C241.10,127.10 245.80,121.80 251.80,121.80 S259.30,124.60 261.30,129.60" fill="none" stroke="#2ac6ce" stroke-width="2.8" stroke-linecap="round"/>
<path d="M241.50,130.10 C242.90,125.60 245.80,122.40 249.30,121.30" fill="none" stroke="#eafcfd" stroke-width="1.25" stroke-linecap="round"/>
<path d="M369.30,140.40 C369.30,131.40 374.30,125.80 380.30,125.80 S390.30,131.40 391.80,140.90" fill="none" stroke="#055f6b" stroke-width="9.6" stroke-linecap="round"/>
<path d="M369.30,140.40 C369.30,131.40 374.30,125.80 380.30,125.80 S390.30,131.40 391.80,140.90" fill="none" stroke="#10adb7" stroke-width="7.6" stroke-linecap="round"/>
<path d="M369.20,136.40 C369.60,129.90 374.30,124.60 380.30,124.60 S387.80,127.40 389.80,132.40" fill="none" stroke="#2ac6ce" stroke-width="2.8" stroke-linecap="round"/>
<path d="M370.00,132.90 C371.40,128.40 374.30,125.20 377.80,124.10" fill="none" stroke="#eafcfd" stroke-width="1.25" stroke-linecap="round"/>
<path d="M334.30,143.70 C334.30,134.70 339.30,129.10 345.30,129.10 S355.30,134.70 356.80,144.20" fill="none" stroke="#055f6b" stroke-width="9.6" stroke-linecap="round"/>
<path d="M334.30,143.70 C334.30,134.70 339.30,129.10 345.30,129.10 S355.30,134.70 356.80,144.20" fill="none" stroke="#10adb7" stroke-width="7.6" stroke-linecap="round"/>
<path d="M334.20,139.70 C334.60,133.20 339.30,127.90 345.30,127.90 S352.80,130.70 354.80,135.70" fill="none" stroke="#2ac6ce" stroke-width="2.8" stroke-linecap="round"/>
<path d="M335.00,136.20 C336.40,131.70 339.30,128.50 342.80,127.40" fill="none" stroke="#eafcfd" stroke-width="1.25" stroke-linecap="round"/>
<path d="M299.30,147.00 C299.30,138.00 304.30,132.40 310.30,132.40 S320.30,138.00 321.80,147.50" fill="none" stroke="#055f6b" stroke-width="9.6" stroke-linecap="round"/>
<path d="M299.30,147.00 C299.30,138.00 304.30,132.40 310.30,132.40 S320.30,138.00 321.80,147.50" fill="none" stroke="#10adb7" stroke-width="7.6" stroke-linecap="round"/>
<path d="M299.20,143.00 C299.60,136.50 304.30,131.20 310.30,131.20 S317.80,134.00 319.80,139.00" fill="none" stroke="#2ac6ce" stroke-width="2.8" stroke-linecap="round"/>
<path d="M300.00,139.50 C301.40,135.00 304.30,131.80 307.80,130.70" fill="none" stroke="#eafcfd" stroke-width="1.25" stroke-linecap="round"/>
<path d="M264.30,150.30 C264.30,141.30 269.30,135.70 275.30,135.70 S285.30,141.30 286.80,150.80" fill="none" stroke="#055f6b" stroke-width="9.6" stroke-linecap="round"/>
<path d="M264.30,150.30 C264.30,141.30 269.30,135.70 275.30,135.70 S285.30,141.30 286.80,150.80" fill="none" stroke="#10adb7" stroke-width="7.6" stroke-linecap="round"/>
<path d="M264.20,146.30 C264.60,139.80 269.30,134.50 275.30,134.50 S282.80,137.30 284.80,142.30" fill="none" stroke="#2ac6ce" stroke-width="2.8" stroke-linecap="round"/>
<path d="M265.00,142.80 C266.40,138.30 269.30,135.10 272.80,134.00" fill="none" stroke="#eafcfd" stroke-width="1.25" stroke-linecap="round"/>
<path d="M392.80,153.10 C392.80,144.10 397.80,138.50 403.80,138.50 S413.80,144.10 415.30,153.60" fill="none" stroke="#055f6b" stroke-width="9.6" stroke-linecap="round"/>
<path d="M392.80,153.10 C392.80,144.10 397.80,138.50 403.80,138.50 S413.80,144.10 415.30,153.60" fill="none" stroke="#10adb7" stroke-width="7.6" stroke-linecap="round"/>
<path d="M392.70,149.10 C393.10,142.60 397.80,137.30 403.80,137.30 S411.30,140.10 413.30,145.10" fill="none" stroke="#2ac6ce" stroke-width="2.8" stroke-linecap="round"/>
<path d="M393.50,145.60 C394.90,141.10 397.80,137.90 401.30,136.80" fill="none" stroke="#eafcfd" stroke-width="1.25" stroke-linecap="round"/>
<path d="M229.30,153.60 C229.30,144.60 234.30,139.00 240.30,139.00 S250.30,144.60 251.80,154.10" fill="none" stroke="#055f6b" stroke-width="9.6" stroke-linecap="round"/>
<path d="M229.30,153.60 C229.30,144.60 234.30,139.00 240.30,139.00 S250.30,144.60 251.80,154.10" fill="none" stroke="#10adb7" stroke-width="7.6" stroke-linecap="round"/>
<path d="M229.20,149.60 C229.60,143.10 234.30,137.80 240.30,137.80 S247.80,140.60 249.80,145.60" fill="none" stroke="#2ac6ce" stroke-width="2.8" stroke-linecap="round"/>
<path d="M230.00,146.10 C231.40,141.60 234.30,138.40 237.80,137.30" fill="none" stroke="#eafcfd" stroke-width="1.25" stroke-linecap="round"/>
<path d="M357.80,156.40 C357.80,147.40 362.80,141.80 368.80,141.80 S378.80,147.40 380.30,156.90" fill="none" stroke="#055f6b" stroke-width="9.6" stroke-linecap="round"/>
<path d="M357.80,156.40 C357.80,147.40 362.80,141.80 368.80,141.80 S378.80,147.40 380.30,156.90" fill="none" stroke="#10adb7" stroke-width="7.6" stroke-linecap="round"/>
<path d="M357.70,152.40 C358.10,145.90 362.80,140.60 368.80,140.60 S376.30,143.40 378.30,148.40" fill="none" stroke="#2ac6ce" stroke-width="2.8" stroke-linecap="round"/>
<path d="M358.50,148.90 C359.90,144.40 362.80,141.20 366.30,140.10" fill="none" stroke="#eafcfd" stroke-width="1.25" stroke-linecap="round"/>
<path d="M322.80,159.70 C322.80,150.70 327.80,145.10 333.80,145.10 S343.80,150.70 345.30,160.20" fill="none" stroke="#055f6b" stroke-width="9.6" stroke-linecap="round"/>
<path d="M322.80,159.70 C322.80,150.70 327.80,145.10 333.80,145.10 S343.80,150.70 345.30,160.20" fill="none" stroke="#10adb7" stroke-width="7.6" stroke-linecap="round"/>
<path d="M322.70,155.70 C323.10,149.20 327.80,143.90 333.80,143.90 S341.30,146.70 343.30,151.70" fill="none" stroke="#2ac6ce" stroke-width="2.8" stroke-linecap="round"/>
<path d="M323.50,152.20 C324.90,147.70 327.80,144.50 331.30,143.40" fill="none" stroke="#eafcfd" stroke-width="1.25" stroke-linecap="round"/>
<path d="M287.80,163.00 C287.80,154.00 292.80,148.40 298.80,148.40 S308.80,154.00 310.30,163.50" fill="none" stroke="#055f6b" stroke-width="9.6" stroke-linecap="round"/>
<path d="M287.80,163.00 C287.80,154.00 292.80,148.40 298.80,148.40 S308.80,154.00 310.30,163.50" fill="none" stroke="#10adb7" stroke-width="7.6" stroke-linecap="round"/>
<path d="M287.70,159.00 C288.10,152.50 292.80,147.20 298.80,147.20 S306.30,150.00 308.30,155.00" fill="none" stroke="#2ac6ce" stroke-width="2.8" stroke-linecap="round"/>
<path d="M288.50,155.50 C289.90,151.00 292.80,147.80 296.30,146.70" fill="none" stroke="#eafcfd" stroke-width="1.25" stroke-linecap="round"/>
<path d="M416.30,165.80 C416.30,156.80 421.30,151.20 427.30,151.20 S437.30,156.80 438.80,166.30" fill="none" stroke="#055f6b" stroke-width="9.6" stroke-linecap="round"/>
<path d="M416.30,165.80 C416.30,156.80 421.30,151.20 427.30,151.20 S437.30,156.80 438.80,166.30" fill="none" stroke="#10adb7" stroke-width="7.6" stroke-linecap="round"/>
<path d="M416.20,161.80 C416.60,155.30 421.30,150.00 427.30,150.00 S434.80,152.80 436.80,157.80" fill="none" stroke="#2ac6ce" stroke-width="2.8" stroke-linecap="round"/>
<path d="M417.00,158.30 C418.40,153.80 421.30,150.60 424.80,149.50" fill="none" stroke="#eafcfd" stroke-width="1.25" stroke-linecap="round"/>
<path d="M252.80,166.30 C252.80,157.30 257.80,151.70 263.80,151.70 S273.80,157.30 275.30,166.80" fill="none" stroke="#055f6b" stroke-width="9.6" stroke-linecap="round"/>
<path d="M252.80,166.30 C252.80,157.30 257.80,151.70 263.80,151.70 S273.80,157.30 275.30,166.80" fill="none" stroke="#10adb7" stroke-width="7.6" stroke-linecap="round"/>
<path d="M252.70,162.30 C253.10,155.80 257.80,150.50 263.80,150.50 S271.30,153.30 273.30,158.30" fill="none" stroke="#2ac6ce" stroke-width="2.8" stroke-linecap="round"/>
<path d="M253.50,158.80 C254.90,154.30 257.80,151.10 261.30,150.00" fill="none" stroke="#eafcfd" stroke-width="1.25" stroke-linecap="round"/>
<path d="M381.30,169.10 C381.30,160.10 386.30,154.50 392.30,154.50 S402.30,160.10 403.80,169.60" fill="none" stroke="#055f6b" stroke-width="9.6" stroke-linecap="round"/>
<path d="M381.30,169.10 C381.30,160.10 386.30,154.50 392.30,154.50 S402.30,160.10 403.80,169.60" fill="none" stroke="#10adb7" stroke-width="7.6" stroke-linecap="round"/>
<path d="M381.20,165.10 C381.60,158.60 386.30,153.30 392.30,153.30 S399.80,156.10 401.80,161.10" fill="none" stroke="#2ac6ce" stroke-width="2.8" stroke-linecap="round"/>
<path d="M382.00,161.60 C383.40,157.10 386.30,153.90 389.80,152.80" fill="none" stroke="#eafcfd" stroke-width="1.25" stroke-linecap="round"/>
<path d="M217.80,169.60 C217.80,160.60 222.80,155.00 228.80,155.00 S238.80,160.60 240.30,170.10" fill="none" stroke="#055f6b" stroke-width="9.6" stroke-linecap="round"/>
<path d="M217.80,169.60 C217.80,160.60 222.80,155.00 228.80,155.00 S238.80,160.60 240.30,170.10" fill="none" stroke="#10adb7" stroke-width="7.6" stroke-linecap="round"/>
<path d="M217.70,165.60 C218.10,159.10 222.80,153.80 228.80,153.80 S236.30,156.60 238.30,161.60" fill="none" stroke="#2ac6ce" stroke-width="2.8" stroke-linecap="round"/>
<path d="M218.50,162.10 C219.90,157.60 222.80,154.40 226.30,153.30" fill="none" stroke="#eafcfd" stroke-width="1.25" stroke-linecap="round"/>
<path d="M346.30,172.40 C346.30,163.40 351.30,157.80 357.30,157.80 S367.30,163.40 368.80,172.90" fill="none" stroke="#055f6b" stroke-width="9.6" stroke-linecap="round"/>
<path d="M346.30,172.40 C346.30,163.40 351.30,157.80 357.30,157.80 S367.30,163.40 368.80,172.90" fill="none" stroke="#10adb7" stroke-width="7.6" stroke-linecap="round"/>
<path d="M346.20,168.40 C346.60,161.90 351.30,156.60 357.30,156.60 S364.80,159.40 366.80,164.40" fill="none" stroke="#2ac6ce" stroke-width="2.8" stroke-linecap="round"/>
<path d="M347.00,164.90 C348.40,160.40 351.30,157.20 354.80,156.10" fill="none" stroke="#eafcfd" stroke-width="1.25" stroke-linecap="round"/>
<path d="M311.30,175.70 C311.30,166.70 316.30,161.10 322.30,161.10 S332.30,166.70 333.80,176.20" fill="none" stroke="#055f6b" stroke-width="9.6" stroke-linecap="round"/>
<path d="M311.30,175.70 C311.30,166.70 316.30,161.10 322.30,161.10 S332.30,166.70 333.80,176.20" fill="none" stroke="#10adb7" stroke-width="7.6" stroke-linecap="round"/>
<path d="M311.20,171.70 C311.60,165.20 316.30,159.90 322.30,159.90 S329.80,162.70 331.80,167.70" fill="none" stroke="#2ac6ce" stroke-width="2.8" stroke-linecap="round"/>
<path d="M312.00,168.20 C313.40,163.70 316.30,160.50 319.80,159.40" fill="none" stroke="#eafcfd" stroke-width="1.25" stroke-linecap="round"/>
<path d="M276.30,179.00 C276.30,170.00 281.30,164.40 287.30,164.40 S297.30,170.00 298.80,179.50" fill="none" stroke="#055f6b" stroke-width="9.6" stroke-linecap="round"/>
<path d="M276.30,179.00 C276.30,170.00 281.30,164.40 287.30,164.40 S297.30,170.00 298.80,179.50" fill="none" stroke="#10adb7" stroke-width="7.6" stroke-linecap="round"/>
<path d="M276.20,175.00 C276.60,168.50 281.30,163.20 287.30,163.20 S294.80,166.00 296.80,171.00" fill="none" stroke="#2ac6ce" stroke-width="2.8" stroke-linecap="round"/>
<path d="M277.00,171.50 C278.40,167.00 281.30,163.80 284.80,162.70" fill="none" stroke="#eafcfd" stroke-width="1.25" stroke-linecap="round"/>
<path d="M404.80,181.80 C404.80,172.80 409.80,167.20 415.80,167.20 S425.80,172.80 427.30,182.30" fill="none" stroke="#055f6b" stroke-width="9.6" stroke-linecap="round"/>
<path d="M404.80,181.80 C404.80,172.80 409.80,167.20 415.80,167.20 S425.80,172.80 427.30,182.30" fill="none" stroke="#10adb7" stroke-width="7.6" stroke-linecap="round"/>
<path d="M404.70,177.80 C405.10,171.30 409.80,166.00 415.80,166.00 S423.30,168.80 425.30,173.80" fill="none" stroke="#2ac6ce" stroke-width="2.8" stroke-linecap="round"/>
<path d="M405.50,174.30 C406.90,169.80 409.80,166.60 413.30,165.50" fill="none" stroke="#eafcfd" stroke-width="1.25" stroke-linecap="round"/>
<path d="M241.30,182.30 C241.30,173.30 246.30,167.70 252.30,167.70 S262.30,173.30 263.80,182.80" fill="none" stroke="#055f6b" stroke-width="9.6" stroke-linecap="round"/>
<path d="M241.30,182.30 C241.30,173.30 246.30,167.70 252.30,167.70 S262.30,173.30 263.80,182.80" fill="none" stroke="#10adb7" stroke-width="7.6" stroke-linecap="round"/>
<path d="M241.20,178.30 C241.60,171.80 246.30,166.50 252.30,166.50 S259.80,169.30 261.80,174.30" fill="none" stroke="#2ac6ce" stroke-width="2.8" stroke-linecap="round"/>
<path d="M242.00,174.80 C243.40,170.30 246.30,167.10 249.80,166.00" fill="none" stroke="#eafcfd" stroke-width="1.25" stroke-linecap="round"/>
<path d="M369.80,185.10 C369.80,176.10 374.80,170.50 380.80,170.50 S390.80,176.10 392.30,185.60" fill="none" stroke="#055f6b" stroke-width="9.6" stroke-linecap="round"/>
<path d="M369.80,185.10 C369.80,176.10 374.80,170.50 380.80,170.50 S390.80,176.10 392.30,185.60" fill="none" stroke="#10adb7" stroke-width="7.6" stroke-linecap="round"/>
<path d="M369.70,181.10 C370.10,174.60 374.80,169.30 380.80,169.30 S388.30,172.10 390.30,177.10" fill="none" stroke="#2ac6ce" stroke-width="2.8" stroke-linecap="round"/>
<path d="M370.50,177.60 C371.90,173.10 374.80,169.90 378.30,168.80" fill="none" stroke="#eafcfd" stroke-width="1.25" stroke-linecap="round"/>
<path d="M334.80,188.40 C334.80,179.40 339.80,173.80 345.80,173.80 S355.80,179.40 357.30,188.90" fill="none" stroke="#055f6b" stroke-width="9.6" stroke-linecap="round"/>
<path d="M334.80,188.40 C334.80,179.40 339.80,173.80 345.80,173.80 S355.80,179.40 357.30,188.90" fill="none" stroke="#10adb7" stroke-width="7.6" stroke-linecap="round"/>
<path d="M334.70,184.40 C335.10,177.90 339.80,172.60 345.80,172.60 S353.30,175.40 355.30,180.40" fill="none" stroke="#2ac6ce" stroke-width="2.8" stroke-linecap="round"/>
<path d="M335.50,180.90 C336.90,176.40 339.80,173.20 343.30,172.10" fill="none" stroke="#eafcfd" stroke-width="1.25" stroke-linecap="round"/>
<path d="M299.80,191.70 C299.80,182.70 304.80,177.10 310.80,177.10 S320.80,182.70 322.30,192.20" fill="none" stroke="#055f6b" stroke-width="9.6" stroke-linecap="round"/>
<path d="M299.80,191.70 C299.80,182.70 304.80,177.10 310.80,177.10 S320.80,182.70 322.30,192.20" fill="none" stroke="#10adb7" stroke-width="7.6" stroke-linecap="round"/>
<path d="M299.70,187.70 C300.10,181.20 304.80,175.90 310.80,175.90 S318.30,178.70 320.30,183.70" fill="none" stroke="#2ac6ce" stroke-width="2.8" stroke-linecap="round"/>
<path d="M300.50,184.20 C301.90,179.70 304.80,176.50 308.30,175.40" fill="none" stroke="#eafcfd" stroke-width="1.25" stroke-linecap="round"/>
<path d="M264.80,195.00 C264.80,186.00 269.80,180.40 275.80,180.40 S285.80,186.00 287.30,195.50" fill="none" stroke="#055f6b" stroke-width="9.6" stroke-linecap="round"/>
<path d="M264.80,195.00 C264.80,186.00 269.80,180.40 275.80,180.40 S285.80,186.00 287.30,195.50" fill="none" stroke="#10adb7" stroke-width="7.6" stroke-linecap="round"/>
<path d="M264.70,191.00 C265.10,184.50 269.80,179.20 275.80,179.20 S283.30,182.00 285.30,187.00" fill="none" stroke="#2ac6ce" stroke-width="2.8" stroke-linecap="round"/>
<path d="M265.50,187.50 C266.90,183.00 269.80,179.80 273.30,178.70" fill="none" stroke="#eafcfd" stroke-width="1.25" stroke-linecap="round"/>
<path d="M393.30,197.80 C393.30,188.80 398.30,183.20 404.30,183.20 S414.30,188.80 415.80,198.30" fill="none" stroke="#055f6b" stroke-width="9.6" stroke-linecap="round"/>
<path d="M393.30,197.80 C393.30,188.80 398.30,183.20 404.30,183.20 S414.30,188.80 415.80,198.30" fill="none" stroke="#10adb7" stroke-width="7.6" stroke-linecap="round"/>
<path d="M393.20,193.80 C393.60,187.30 398.30,182.00 404.30,182.00 S411.80,184.80 413.80,189.80" fill="none" stroke="#2ac6ce" stroke-width="2.8" stroke-linecap="round"/>
<path d="M394.00,190.30 C395.40,185.80 398.30,182.60 401.80,181.50" fill="none" stroke="#eafcfd" stroke-width="1.25" stroke-linecap="round"/>
<path d="M229.80,198.30 C229.80,189.30 234.80,183.70 240.80,183.70 S250.80,189.30 252.30,198.80" fill="none" stroke="#055f6b" stroke-width="9.6" stroke-linecap="round"/>
<path d="M229.80,198.30 C229.80,189.30 234.80,183.70 240.80,183.70 S250.80,189.30 252.30,198.80" fill="none" stroke="#10adb7" stroke-width="7.6" stroke-linecap="round"/>
<path d="M229.70,194.30 C230.10,187.80 234.80,182.50 240.80,182.50 S248.30,185.30 250.30,190.30" fill="none" stroke="#2ac6ce" stroke-width="2.8" stroke-linecap="round"/>
<path d="M230.50,190.80 C231.90,186.30 234.80,183.10 238.30,182.00" fill="none" stroke="#eafcfd" stroke-width="1.25" stroke-linecap="round"/>
<path d="M358.30,201.10 C358.30,192.10 363.30,186.50 369.30,186.50 S379.30,192.10 380.80,201.60" fill="none" stroke="#055f6b" stroke-width="9.6" stroke-linecap="round"/>
<path d="M358.30,201.10 C358.30,192.10 363.30,186.50 369.30,186.50 S379.30,192.10 380.80,201.60" fill="none" stroke="#10adb7" stroke-width="7.6" stroke-linecap="round"/>
<path d="M358.20,197.10 C358.60,190.60 363.30,185.30 369.30,185.30 S376.80,188.10 378.80,193.10" fill="none" stroke="#2ac6ce" stroke-width="2.8" stroke-linecap="round"/>
<path d="M359.00,193.60 C360.40,189.10 363.30,185.90 366.80,184.80" fill="none" stroke="#eafcfd" stroke-width="1.25" stroke-linecap="round"/>
<path d="M323.30,204.40 C323.30,195.40 328.30,189.80 334.30,189.80 S344.30,195.40 345.80,204.90" fill="none" stroke="#055f6b" stroke-width="9.6" stroke-linecap="round"/>
<path d="M323.30,204.40 C323.30,195.40 328.30,189.80 334.30,189.80 S344.30,195.40 345.80,204.90" fill="none" stroke="#10adb7" stroke-width="7.6" stroke-linecap="round"/>
<path d="M323.20,200.40 C323.60,193.90 328.30,188.60 334.30,188.60 S341.80,191.40 343.80,196.40" fill="none" stroke="#2ac6ce" stroke-width="2.8" stroke-linecap="round"/>
<path d="M324.00,196.90 C325.40,192.40 328.30,189.20 331.80,188.10" fill="none" stroke="#eafcfd" stroke-width="1.25" stroke-linecap="round"/>
<path d="M288.30,207.70 C288.30,198.70 293.30,193.10 299.30,193.10 S309.30,198.70 310.80,208.20" fill="none" stroke="#055f6b" stroke-width="9.6" stroke-linecap="round"/>
<path d="M288.30,207.70 C288.30,198.70 293.30,193.10 299.30,193.10 S309.30,198.70 310.80,208.20" fill="none" stroke="#10adb7" stroke-width="7.6" stroke-linecap="round"/>
<path d="M288.20,203.70 C288.60,197.20 293.30,191.90 299.30,191.90 S306.80,194.70 308.80,199.70" fill="none" stroke="#2ac6ce" stroke-width="2.8" stroke-linecap="round"/>
<path d="M289.00,200.20 C290.40,195.70 293.30,192.50 296.80,191.40" fill="none" stroke="#eafcfd" stroke-width="1.25" stroke-linecap="round"/>
<path d="M416.80,210.50 C416.80,201.50 421.80,195.90 427.80,195.90 S437.80,201.50 439.30,211.00" fill="none" stroke="#055f6b" stroke-width="9.6" stroke-linecap="round"/>
<path d="M416.80,210.50 C416.80,201.50 421.80,195.90 427.80,195.90 S437.80,201.50 439.30,211.00" fill="none" stroke="#10adb7" stroke-width="7.6" stroke-linecap="round"/>
<path d="M416.70,206.50 C417.10,200.00 421.80,194.70 427.80,194.70 S435.30,197.50 437.30,202.50" fill="none" stroke="#2ac6ce" stroke-width="2.8" stroke-linecap="round"/>
<path d="M417.50,203.00 C418.90,198.50 421.80,195.30 425.30,194.20" fill="none" stroke="#eafcfd" stroke-width="1.25" stroke-linecap="round"/>
<path d="M253.30,211.00 C253.30,202.00 258.30,196.40 264.30,196.40 S274.30,202.00 275.80,211.50" fill="none" stroke="#055f6b" stroke-width="9.6" stroke-linecap="round"/>
<path d="M253.30,211.00 C253.30,202.00 258.30,196.40 264.30,196.40 S274.30,202.00 275.80,211.50" fill="none" stroke="#10adb7" stroke-width="7.6" stroke-linecap="round"/>
<path d="M253.20,207.00 C253.60,200.50 258.30,195.20 264.30,195.20 S271.80,198.00 273.80,203.00" fill="none" stroke="#2ac6ce" stroke-width="2.8" stroke-linecap="round"/>
<path d="M254.00,203.50 C255.40,199.00 258.30,195.80 261.80,194.70" fill="none" stroke="#eafcfd" stroke-width="1.25" stroke-linecap="round"/>
<path d="M381.80,213.80 C381.80,204.80 386.80,199.20 392.80,199.20 S402.80,204.80 404.30,214.30" fill="none" stroke="#055f6b" stroke-width="9.6" stroke-linecap="round"/>
<path d="M381.80,213.80 C381.80,204.80 386.80,199.20 392.80,199.20 S402.80,204.80 404.30,214.30" fill="none" stroke="#10adb7" stroke-width="7.6" stroke-linecap="round"/>
<path d="M381.70,209.80 C382.10,203.30 386.80,198.00 392.80,198.00 S400.30,200.80 402.30,205.80" fill="none" stroke="#2ac6ce" stroke-width="2.8" stroke-linecap="round"/>
<path d="M382.50,206.30 C383.90,201.80 386.80,198.60 390.30,197.50" fill="none" stroke="#eafcfd" stroke-width="1.25" stroke-linecap="round"/>
<path d="M218.30,214.30 C218.30,205.30 223.30,199.70 229.30,199.70 S239.30,205.30 240.80,214.80" fill="none" stroke="#055f6b" stroke-width="9.6" stroke-linecap="round"/>
<path d="M218.30,214.30 C218.30,205.30 223.30,199.70 229.30,199.70 S239.30,205.30 240.80,214.80" fill="none" stroke="#10adb7" stroke-width="7.6" stroke-linecap="round"/>
<path d="M218.20,210.30 C218.60,203.80 223.30,198.50 229.30,198.50 S236.80,201.30 238.80,206.30" fill="none" stroke="#2ac6ce" stroke-width="2.8" stroke-linecap="round"/>
<path d="M219.00,206.80 C220.40,202.30 223.30,199.10 226.80,198.00" fill="none" stroke="#eafcfd" stroke-width="1.25" stroke-linecap="round"/>
<path d="M346.80,217.10 C346.80,208.10 351.80,202.50 357.80,202.50 S367.80,208.10 369.30,217.60" fill="none" stroke="#055f6b" stroke-width="9.6" stroke-linecap="round"/>
<path d="M346.80,217.10 C346.80,208.10 351.80,202.50 357.80,202.50 S367.80,208.10 369.30,217.60" fill="none" stroke="#10adb7" stroke-width="7.6" stroke-linecap="round"/>
<path d="M346.70,213.10 C347.10,206.60 351.80,201.30 357.80,201.30 S365.30,204.10 367.30,209.10" fill="none" stroke="#2ac6ce" stroke-width="2.8" stroke-linecap="round"/>
<path d="M347.50,209.60 C348.90,205.10 351.80,201.90 355.30,200.80" fill="none" stroke="#eafcfd" stroke-width="1.25" stroke-linecap="round"/>
<path d="M311.80,220.40 C311.80,211.40 316.80,205.80 322.80,205.80 S332.80,211.40 334.30,220.90" fill="none" stroke="#055f6b" stroke-width="9.6" stroke-linecap="round"/>
<path d="M311.80,220.40 C311.80,211.40 316.80,205.80 322.80,205.80 S332.80,211.40 334.30,220.90" fill="none" stroke="#10adb7" stroke-width="7.6" stroke-linecap="round"/>
<path d="M311.70,216.40 C312.10,209.90 316.80,204.60 322.80,204.60 S330.30,207.40 332.30,212.40" fill="none" stroke="#2ac6ce" stroke-width="2.8" stroke-linecap="round"/>
<path d="M312.50,212.90 C313.90,208.40 316.80,205.20 320.30,204.10" fill="none" stroke="#eafcfd" stroke-width="1.25" stroke-linecap="round"/>
<path d="M276.80,223.70 C276.80,214.70 281.80,209.10 287.80,209.10 S297.80,214.70 299.30,224.20" fill="none" stroke="#055f6b" stroke-width="9.6" stroke-linecap="round"/>
<path d="M276.80,223.70 C276.80,214.70 281.80,209.10 287.80,209.10 S297.80,214.70 299.30,224.20" fill="none" stroke="#10adb7" stroke-width="7.6" stroke-linecap="round"/>
<path d="M276.70,219.70 C277.10,213.20 281.80,207.90 287.80,207.90 S295.30,210.70 297.30,215.70" fill="none" stroke="#2ac6ce" stroke-width="2.8" stroke-linecap="round"/>
<path d="M277.50,216.20 C278.90,211.70 281.80,208.50 285.30,207.40" fill="none" stroke="#eafcfd" stroke-width="1.25" stroke-linecap="round"/>
<path d="M405.30,226.50 C405.30,217.50 410.30,211.90 416.30,211.90 S426.30,217.50 427.80,227.00" fill="none" stroke="#055f6b" stroke-width="9.6" stroke-linecap="round"/>
<path d="M405.30,226.50 C405.30,217.50 410.30,211.90 416.30,211.90 S426.30,217.50 427.80,227.00" fill="none" stroke="#10adb7" stroke-width="7.6" stroke-linecap="round"/>
<path d="M405.20,222.50 C405.60,216.00 410.30,210.70 416.30,210.70 S423.80,213.50 425.80,218.50" fill="none" stroke="#2ac6ce" stroke-width="2.8" stroke-linecap="round"/>
<path d="M406.00,219.00 C407.40,214.50 410.30,211.30 413.80,210.20" fill="none" stroke="#eafcfd" stroke-width="1.25" stroke-linecap="round"/>
<path d="M241.80,227.00 C241.80,218.00 246.80,212.40 252.80,212.40 S262.80,218.00 264.30,227.50" fill="none" stroke="#055f6b" stroke-width="9.6" stroke-linecap="round"/>
<path d="M241.80,227.00 C241.80,218.00 246.80,212.40 252.80,212.40 S262.80,218.00 264.30,227.50" fill="none" stroke="#10adb7" stroke-width="7.6" stroke-linecap="round"/>
<path d="M241.70,223.00 C242.10,216.50 246.80,211.20 252.80,211.20 S260.30,214.00 262.30,219.00" fill="none" stroke="#2ac6ce" stroke-width="2.8" stroke-linecap="round"/>
<path d="M242.50,219.50 C243.90,215.00 246.80,211.80 250.30,210.70" fill="none" stroke="#eafcfd" stroke-width="1.25" stroke-linecap="round"/>
<path d="M370.30,229.80 C370.30,220.80 375.30,215.20 381.30,215.20 S391.30,220.80 392.80,230.30" fill="none" stroke="#055f6b" stroke-width="9.6" stroke-linecap="round"/>
<path d="M370.30,229.80 C370.30,220.80 375.30,215.20 381.30,215.20 S391.30,220.80 392.80,230.30" fill="none" stroke="#10adb7" stroke-width="7.6" stroke-linecap="round"/>
<path d="M370.20,225.80 C370.60,219.30 375.30,214.00 381.30,214.00 S388.80,216.80 390.80,221.80" fill="none" stroke="#2ac6ce" stroke-width="2.8" stroke-linecap="round"/>
<path d="M371.00,222.30 C372.40,217.80 375.30,214.60 378.80,213.50" fill="none" stroke="#eafcfd" stroke-width="1.25" stroke-linecap="round"/>
<path d="M335.30,233.10 C335.30,224.10 340.30,218.50 346.30,218.50 S356.30,224.10 357.80,233.60" fill="none" stroke="#055f6b" stroke-width="9.6" stroke-linecap="round"/>
<path d="M335.30,233.10 C335.30,224.10 340.30,218.50 346.30,218.50 S356.30,224.10 357.80,233.60" fill="none" stroke="#10adb7" stroke-width="7.6" stroke-linecap="round"/>
<path d="M335.20,229.10 C335.60,222.60 340.30,217.30 346.30,217.30 S353.80,220.10 355.80,225.10" fill="none" stroke="#2ac6ce" stroke-width="2.8" stroke-linecap="round"/>
<path d="M336.00,225.60 C337.40,221.10 340.30,217.90 343.80,216.80" fill="none" stroke="#eafcfd" stroke-width="1.25" stroke-linecap="round"/>
<path d="M300.30,236.40 C300.30,227.40 305.30,221.80 311.30,221.80 S321.30,227.40 322.80,236.90" fill="none" stroke="#055f6b" stroke-width="9.6" stroke-linecap="round"/>
<path d="M300.30,236.40 C300.30,227.40 305.30,221.80 311.30,221.80 S321.30,227.40 322.80,236.90" fill="none" stroke="#10adb7" stroke-width="7.6" stroke-linecap="round"/>
<path d="M300.20,232.40 C300.60,225.90 305.30,220.60 311.30,220.60 S318.80,223.40 320.80,228.40" fill="none" stroke="#2ac6ce" stroke-width="2.8" stroke-linecap="round"/>
<path d="M301.00,228.90 C302.40,224.40 305.30,221.20 308.80,220.10" fill="none" stroke="#eafcfd" stroke-width="1.25" stroke-linecap="round"/>
<path d="M265.30,239.70 C265.30,230.70 270.30,225.10 276.30,225.10 S286.30,230.70 287.80,240.20" fill="none" stroke="#055f6b" stroke-width="9.6" stroke-linecap="round"/>
<path d="M265.30,239.70 C265.30,230.70 270.30,225.10 276.30,225.10 S286.30,230.70 287.80,240.20" fill="none" stroke="#10adb7" stroke-width="7.6" stroke-linecap="round"/>
<path d="M265.20,235.70 C265.60,229.20 270.30,223.90 276.30,223.90 S283.80,226.70 285.80,231.70" fill="none" stroke="#2ac6ce" stroke-width="2.8" stroke-linecap="round"/>
<path d="M266.00,232.20 C267.40,227.70 270.30,224.50 273.80,223.40" fill="none" stroke="#eafcfd" stroke-width="1.25" stroke-linecap="round"/>
<path d="M393.80,242.50 C393.80,233.50 398.80,227.90 404.80,227.90 S414.80,233.50 416.30,243.00" fill="none" stroke="#055f6b" stroke-width="9.6" stroke-linecap="round"/>
<path d="M393.80,242.50 C393.80,233.50 398.80,227.90 404.80,227.90 S414.80,233.50 416.30,243.00" fill="none" stroke="#10adb7" stroke-width="7.6" stroke-linecap="round"/>
<path d="M393.70,238.50 C394.10,232.00 398.80,226.70 404.80,226.70 S412.30,229.50 414.30,234.50" fill="none" stroke="#2ac6ce" stroke-width="2.8" stroke-linecap="round"/>
<path d="M394.50,235.00 C395.90,230.50 398.80,227.30 402.30,226.20" fill="none" stroke="#eafcfd" stroke-width="1.25" stroke-linecap="round"/>
<path d="M230.30,243.00 C230.30,234.00 235.30,228.40 241.30,228.40 S251.30,234.00 252.80,243.50" fill="none" stroke="#055f6b" stroke-width="9.6" stroke-linecap="round"/>
<path d="M230.30,243.00 C230.30,234.00 235.30,228.40 241.30,228.40 S251.30,234.00 252.80,243.50" fill="none" stroke="#10adb7" stroke-width="7.6" stroke-linecap="round"/>
<path d="M230.20,239.00 C230.60,232.50 235.30,227.20 241.30,227.20 S248.80,230.00 250.80,235.00" fill="none" stroke="#2ac6ce" stroke-width="2.8" stroke-linecap="round"/>
<path d="M231.00,235.50 C232.40,231.00 235.30,227.80 238.80,226.70" fill="none" stroke="#eafcfd" stroke-width="1.25" stroke-linecap="round"/>
<path d="M358.80,245.80 C358.80,236.80 363.80,231.20 369.80,231.20 S379.80,236.80 381.30,246.30" fill="none" stroke="#055f6b" stroke-width="9.6" stroke-linecap="round"/>
<path d="M358.80,245.80 C358.80,236.80 363.80,231.20 369.80,231.20 S379.80,236.80 381.30,246.30" fill="none" stroke="#10adb7" stroke-width="7.6" stroke-linecap="round"/>
<path d="M358.70,241.80 C359.10,235.30 363.80,230.00 369.80,230.00 S377.30,232.80 379.30,237.80" fill="none" stroke="#2ac6ce" stroke-width="2.8" stroke-linecap="round"/>
<path d="M359.50,238.30 C360.90,233.80 363.80,230.60 367.30,229.50" fill="none" stroke="#eafcfd" stroke-width="1.25" stroke-linecap="round"/>
<path d="M323.80,249.10 C323.80,240.10 328.80,234.50 334.80,234.50 S344.80,240.10 346.30,249.60" fill="none" stroke="#055f6b" stroke-width="9.6" stroke-linecap="round"/>
<path d="M323.80,249.10 C323.80,240.10 328.80,234.50 334.80,234.50 S344.80,240.10 346.30,249.60" fill="none" stroke="#10adb7" stroke-width="7.6" stroke-linecap="round"/>
<path d="M323.70,245.10 C324.10,238.60 328.80,233.30 334.80,233.30 S342.30,236.10 344.30,241.10" fill="none" stroke="#2ac6ce" stroke-width="2.8" stroke-linecap="round"/>
<path d="M324.50,241.60 C325.90,237.10 328.80,233.90 332.30,232.80" fill="none" stroke="#eafcfd" stroke-width="1.25" stroke-linecap="round"/>
<ellipse cx="345.80" cy="111.00" rx="3.2" ry="1.7" fill="#5c6462"/>
<ellipse cx="345.20" cy="110.60" rx="1.5" ry="0.7" fill="#a9aeac"/>
<path d="M333.30,115.50 C335.30,110.00 339.80,106.60 345.30,106.60 S353.80,111.00 358.30,120.00" fill="none" stroke="#9c8254" stroke-width="4.4" stroke-linecap="round"/>
<path d="M333.30,115.50 C335.30,110.00 339.80,106.60 345.30,106.60 S353.80,111.00 358.30,120.00" fill="none" stroke="#d9c190" stroke-width="3.5" stroke-linecap="round"/>
<path d="M334.00,114.00 C336.20,109.00 339.80,105.80 345.30,105.80 S353.30,109.80 357.70,118.40" fill="none" stroke="#f2e4c2" stroke-width="1.3" stroke-linecap="round"/>
<ellipse cx="310.80" cy="114.30" rx="3.2" ry="1.7" fill="#5c6462"/>
<ellipse cx="310.20" cy="113.90" rx="1.5" ry="0.7" fill="#a9aeac"/>
<path d="M298.30,118.80 C300.30,113.30 304.80,109.90 310.30,109.90 S318.80,114.30 323.30,123.30" fill="none" stroke="#9c8254" stroke-width="4.4" stroke-linecap="round"/>
<path d="M298.30,118.80 C300.30,113.30 304.80,109.90 310.30,109.90 S318.80,114.30 323.30,123.30" fill="none" stroke="#d9c190" stroke-width="3.5" stroke-linecap="round"/>
<path d="M299.00,117.30 C301.20,112.30 304.80,109.10 310.30,109.10 S318.30,113.10 322.70,121.70" fill="none" stroke="#f2e4c2" stroke-width="1.3" stroke-linecap="round"/>
<ellipse cx="439.30" cy="117.10" rx="3.2" ry="1.7" fill="#5c6462"/>
<ellipse cx="438.70" cy="116.70" rx="1.5" ry="0.7" fill="#a9aeac"/>
<path d="M426.80,121.60 C428.80,116.10 433.30,112.70 438.80,112.70 S447.30,117.10 451.80,126.10" fill="none" stroke="#9c8254" stroke-width="4.4" stroke-linecap="round"/>
<path d="M426.80,121.60 C428.80,116.10 433.30,112.70 438.80,112.70 S447.30,117.10 451.80,126.10" fill="none" stroke="#d9c190" stroke-width="3.5" stroke-linecap="round"/>
<path d="M427.50,120.10 C429.70,115.10 433.30,111.90 438.80,111.90 S446.80,115.90 451.20,124.50" fill="none" stroke="#f2e4c2" stroke-width="1.3" stroke-linecap="round"/>
<ellipse cx="275.80" cy="117.60" rx="3.2" ry="1.7" fill="#5c6462"/>
<ellipse cx="275.20" cy="117.20" rx="1.5" ry="0.7" fill="#a9aeac"/>
<path d="M263.30,122.10 C265.30,116.60 269.80,113.20 275.30,113.20 S283.80,117.60 288.30,126.60" fill="none" stroke="#9c8254" stroke-width="4.4" stroke-linecap="round"/>
<path d="M263.30,122.10 C265.30,116.60 269.80,113.20 275.30,113.20 S283.80,117.60 288.30,126.60" fill="none" stroke="#d9c190" stroke-width="3.5" stroke-linecap="round"/>
<path d="M264.00,120.60 C266.20,115.60 269.80,112.40 275.30,112.40 S283.30,116.40 287.70,125.00" fill="none" stroke="#f2e4c2" stroke-width="1.3" stroke-linecap="round"/>
<ellipse cx="404.30" cy="120.40" rx="3.2" ry="1.7" fill="#5c6462"/>
<ellipse cx="403.70" cy="120.00" rx="1.5" ry="0.7" fill="#a9aeac"/>
<path d="M391.80,124.90 C393.80,119.40 398.30,116.00 403.80,116.00 S412.30,120.40 416.80,129.40" fill="none" stroke="#9c8254" stroke-width="4.4" stroke-linecap="round"/>
<path d="M391.80,124.90 C393.80,119.40 398.30,116.00 403.80,116.00 S412.30,120.40 416.80,129.40" fill="none" stroke="#d9c190" stroke-width="3.5" stroke-linecap="round"/>
<path d="M392.50,123.40 C394.70,118.40 398.30,115.20 403.80,115.20 S411.80,119.20 416.20,127.80" fill="none" stroke="#f2e4c2" stroke-width="1.3" stroke-linecap="round"/>
<ellipse cx="240.80" cy="120.90" rx="3.2" ry="1.7" fill="#5c6462"/>
<ellipse cx="240.20" cy="120.50" rx="1.5" ry="0.7" fill="#a9aeac"/>
<path d="M228.30,125.40 C230.30,119.90 234.80,116.50 240.30,116.50 S248.80,120.90 253.30,129.90" fill="none" stroke="#9c8254" stroke-width="4.4" stroke-linecap="round"/>
<path d="M228.30,125.40 C230.30,119.90 234.80,116.50 240.30,116.50 S248.80,120.90 253.30,129.90" fill="none" stroke="#d9c190" stroke-width="3.5" stroke-linecap="round"/>
<path d="M229.00,123.90 C231.20,118.90 234.80,115.70 240.30,115.70 S248.30,119.70 252.70,128.30" fill="none" stroke="#f2e4c2" stroke-width="1.3" stroke-linecap="round"/>
<ellipse cx="369.30" cy="123.70" rx="3.2" ry="1.7" fill="#5c6462"/>
<ellipse cx="368.70" cy="123.30" rx="1.5" ry="0.7" fill="#a9aeac"/>
<path d="M356.80,128.20 C358.80,122.70 363.30,119.30 368.80,119.30 S377.30,123.70 381.80,132.70" fill="none" stroke="#9c8254" stroke-width="4.4" stroke-linecap="round"/>
<path d="M356.80,128.20 C358.80,122.70 363.30,119.30 368.80,119.30 S377.30,123.70 381.80,132.70" fill="none" stroke="#d9c190" stroke-width="3.5" stroke-linecap="round"/>
<path d="M357.50,126.70 C359.70,121.70 363.30,118.50 368.80,118.50 S376.80,122.50 381.20,131.10" fill="none" stroke="#f2e4c2" stroke-width="1.3" stroke-linecap="round"/>
<ellipse cx="334.30" cy="127.00" rx="3.2" ry="1.7" fill="#5c6462"/>
<ellipse cx="333.70" cy="126.60" rx="1.5" ry="0.7" fill="#a9aeac"/>
<path d="M321.80,131.50 C323.80,126.00 328.30,122.60 333.80,122.60 S342.30,127.00 346.80,136.00" fill="none" stroke="#9c8254" stroke-width="4.4" stroke-linecap="round"/>
<path d="M321.80,131.50 C323.80,126.00 328.30,122.60 333.80,122.60 S342.30,127.00 346.80,136.00" fill="none" stroke="#d9c190" stroke-width="3.5" stroke-linecap="round"/>
<path d="M322.50,130.00 C324.70,125.00 328.30,121.80 333.80,121.80 S341.80,125.80 346.20,134.40" fill="none" stroke="#f2e4c2" stroke-width="1.3" stroke-linecap="round"/>
<ellipse cx="299.30" cy="130.30" rx="3.2" ry="1.7" fill="#5c6462"/>
<ellipse cx="298.70" cy="129.90" rx="1.5" ry="0.7" fill="#a9aeac"/>
<path d="M286.80,134.80 C288.80,129.30 293.30,125.90 298.80,125.90 S307.30,130.30 311.80,139.30" fill="none" stroke="#9c8254" stroke-width="4.4" stroke-linecap="round"/>
<path d="M286.80,134.80 C288.80,129.30 293.30,125.90 298.80,125.90 S307.30,130.30 311.80,139.30" fill="none" stroke="#d9c190" stroke-width="3.5" stroke-linecap="round"/>
<path d="M287.50,133.30 C289.70,128.30 293.30,125.10 298.80,125.10 S306.80,129.10 311.20,137.70" fill="none" stroke="#f2e4c2" stroke-width="1.3" stroke-linecap="round"/>
<ellipse cx="427.80" cy="133.10" rx="3.2" ry="1.7" fill="#5c6462"/>
<ellipse cx="427.20" cy="132.70" rx="1.5" ry="0.7" fill="#a9aeac"/>
<path d="M415.30,137.60 C417.30,132.10 421.80,128.70 427.30,128.70 S435.80,133.10 440.30,142.10" fill="none" stroke="#9c8254" stroke-width="4.4" stroke-linecap="round"/>
<path d="M415.30,137.60 C417.30,132.10 421.80,128.70 427.30,128.70 S435.80,133.10 440.30,142.10" fill="none" stroke="#d9c190" stroke-width="3.5" stroke-linecap="round"/>
<path d="M416.00,136.10 C418.20,131.10 421.80,127.90 427.30,127.90 S435.30,131.90 439.70,140.50" fill="none" stroke="#f2e4c2" stroke-width="1.3" stroke-linecap="round"/>
<ellipse cx="264.30" cy="133.60" rx="3.2" ry="1.7" fill="#5c6462"/>
<ellipse cx="263.70" cy="133.20" rx="1.5" ry="0.7" fill="#a9aeac"/>
<path d="M251.80,138.10 C253.80,132.60 258.30,129.20 263.80,129.20 S272.30,133.60 276.80,142.60" fill="none" stroke="#9c8254" stroke-width="4.4" stroke-linecap="round"/>
<path d="M251.80,138.10 C253.80,132.60 258.30,129.20 263.80,129.20 S272.30,133.60 276.80,142.60" fill="none" stroke="#d9c190" stroke-width="3.5" stroke-linecap="round"/>
<path d="M252.50,136.60 C254.70,131.60 258.30,128.40 263.80,128.40 S271.80,132.40 276.20,141.00" fill="none" stroke="#f2e4c2" stroke-width="1.3" stroke-linecap="round"/>
<ellipse cx="392.80" cy="136.40" rx="3.2" ry="1.7" fill="#5c6462"/>
<ellipse cx="392.20" cy="136.00" rx="1.5" ry="0.7" fill="#a9aeac"/>
<path d="M380.30,140.90 C382.30,135.40 386.80,132.00 392.30,132.00 S400.80,136.40 405.30,145.40" fill="none" stroke="#9c8254" stroke-width="4.4" stroke-linecap="round"/>
<path d="M380.30,140.90 C382.30,135.40 386.80,132.00 392.30,132.00 S400.80,136.40 405.30,145.40" fill="none" stroke="#d9c190" stroke-width="3.5" stroke-linecap="round"/>
<path d="M381.00,139.40 C383.20,134.40 386.80,131.20 392.30,131.20 S400.30,135.20 404.70,143.80" fill="none" stroke="#f2e4c2" stroke-width="1.3" stroke-linecap="round"/>
<ellipse cx="357.80" cy="139.70" rx="3.2" ry="1.7" fill="#5c6462"/>
<ellipse cx="357.20" cy="139.30" rx="1.5" ry="0.7" fill="#a9aeac"/>
<path d="M345.30,144.20 C347.30,138.70 351.80,135.30 357.30,135.30 S365.80,139.70 370.30,148.70" fill="none" stroke="#9c8254" stroke-width="4.4" stroke-linecap="round"/>
<path d="M345.30,144.20 C347.30,138.70 351.80,135.30 357.30,135.30 S365.80,139.70 370.30,148.70" fill="none" stroke="#d9c190" stroke-width="3.5" stroke-linecap="round"/>
<path d="M346.00,142.70 C348.20,137.70 351.80,134.50 357.30,134.50 S365.30,138.50 369.70,147.10" fill="none" stroke="#f2e4c2" stroke-width="1.3" stroke-linecap="round"/>
<ellipse cx="322.80" cy="143.00" rx="3.2" ry="1.7" fill="#5c6462"/>
<ellipse cx="322.20" cy="142.60" rx="1.5" ry="0.7" fill="#a9aeac"/>
<path d="M310.30,147.50 C312.30,142.00 316.80,138.60 322.30,138.60 S330.80,143.00 335.30,152.00" fill="none" stroke="#9c8254" stroke-width="4.4" stroke-linecap="round"/>
<path d="M310.30,147.50 C312.30,142.00 316.80,138.60 322.30,138.60 S330.80,143.00 335.30,152.00" fill="none" stroke="#d9c190" stroke-width="3.5" stroke-linecap="round"/>
<path d="M311.00,146.00 C313.20,141.00 316.80,137.80 322.30,137.80 S330.30,141.80 334.70,150.40" fill="none" stroke="#f2e4c2" stroke-width="1.3" stroke-linecap="round"/>
<ellipse cx="287.80" cy="146.30" rx="3.2" ry="1.7" fill="#5c6462"/>
<ellipse cx="287.20" cy="145.90" rx="1.5" ry="0.7" fill="#a9aeac"/>
<path d="M275.30,150.80 C277.30,145.30 281.80,141.90 287.30,141.90 S295.80,146.30 300.30,155.30" fill="none" stroke="#9c8254" stroke-width="4.4" stroke-linecap="round"/>
<path d="M275.30,150.80 C277.30,145.30 281.80,141.90 287.30,141.90 S295.80,146.30 300.30,155.30" fill="none" stroke="#d9c190" stroke-width="3.5" stroke-linecap="round"/>
<path d="M276.00,149.30 C278.20,144.30 281.80,141.10 287.30,141.10 S295.30,145.10 299.70,153.70" fill="none" stroke="#f2e4c2" stroke-width="1.3" stroke-linecap="round"/>
<ellipse cx="416.30" cy="149.10" rx="3.2" ry="1.7" fill="#5c6462"/>
<ellipse cx="415.70" cy="148.70" rx="1.5" ry="0.7" fill="#a9aeac"/>
<path d="M403.80,153.60 C405.80,148.10 410.30,144.70 415.80,144.70 S424.30,149.10 428.80,158.10" fill="none" stroke="#9c8254" stroke-width="4.4" stroke-linecap="round"/>
<path d="M403.80,153.60 C405.80,148.10 410.30,144.70 415.80,144.70 S424.30,149.10 428.80,158.10" fill="none" stroke="#d9c190" stroke-width="3.5" stroke-linecap="round"/>
<path d="M404.50,152.10 C406.70,147.10 410.30,143.90 415.80,143.90 S423.80,147.90 428.20,156.50" fill="none" stroke="#f2e4c2" stroke-width="1.3" stroke-linecap="round"/>
<ellipse cx="252.80" cy="149.60" rx="3.2" ry="1.7" fill="#5c6462"/>
<ellipse cx="252.20" cy="149.20" rx="1.5" ry="0.7" fill="#a9aeac"/>
<path d="M240.30,154.10 C242.30,148.60 246.80,145.20 252.30,145.20 S260.80,149.60 265.30,158.60" fill="none" stroke="#9c8254" stroke-width="4.4" stroke-linecap="round"/>
<path d="M240.30,154.10 C242.30,148.60 246.80,145.20 252.30,145.20 S260.80,149.60 265.30,158.60" fill="none" stroke="#d9c190" stroke-width="3.5" stroke-linecap="round"/>
<path d="M241.00,152.60 C243.20,147.60 246.80,144.40 252.30,144.40 S260.30,148.40 264.70,157.00" fill="none" stroke="#f2e4c2" stroke-width="1.3" stroke-linecap="round"/>
<ellipse cx="381.30" cy="152.40" rx="3.2" ry="1.7" fill="#5c6462"/>
<ellipse cx="380.70" cy="152.00" rx="1.5" ry="0.7" fill="#a9aeac"/>
<path d="M368.80,156.90 C370.80,151.40 375.30,148.00 380.80,148.00 S389.30,152.40 393.80,161.40" fill="none" stroke="#9c8254" stroke-width="4.4" stroke-linecap="round"/>
<path d="M368.80,156.90 C370.80,151.40 375.30,148.00 380.80,148.00 S389.30,152.40 393.80,161.40" fill="none" stroke="#d9c190" stroke-width="3.5" stroke-linecap="round"/>
<path d="M369.50,155.40 C371.70,150.40 375.30,147.20 380.80,147.20 S388.80,151.20 393.20,159.80" fill="none" stroke="#f2e4c2" stroke-width="1.3" stroke-linecap="round"/>
<ellipse cx="346.30" cy="155.70" rx="3.2" ry="1.7" fill="#5c6462"/>
<ellipse cx="345.70" cy="155.30" rx="1.5" ry="0.7" fill="#a9aeac"/>
<path d="M333.80,160.20 C335.80,154.70 340.30,151.30 345.80,151.30 S354.30,155.70 358.80,164.70" fill="none" stroke="#9c8254" stroke-width="4.4" stroke-linecap="round"/>
<path d="M333.80,160.20 C335.80,154.70 340.30,151.30 345.80,151.30 S354.30,155.70 358.80,164.70" fill="none" stroke="#d9c190" stroke-width="3.5" stroke-linecap="round"/>
<path d="M334.50,158.70 C336.70,153.70 340.30,150.50 345.80,150.50 S353.80,154.50 358.20,163.10" fill="none" stroke="#f2e4c2" stroke-width="1.3" stroke-linecap="round"/>
<ellipse cx="311.30" cy="159.00" rx="3.2" ry="1.7" fill="#5c6462"/>
<ellipse cx="310.70" cy="158.60" rx="1.5" ry="0.7" fill="#a9aeac"/>
<path d="M298.80,163.50 C300.80,158.00 305.30,154.60 310.80,154.60 S319.30,159.00 323.80,168.00" fill="none" stroke="#9c8254" stroke-width="4.4" stroke-linecap="round"/>
<path d="M298.80,163.50 C300.80,158.00 305.30,154.60 310.80,154.60 S319.30,159.00 323.80,168.00" fill="none" stroke="#d9c190" stroke-width="3.5" stroke-linecap="round"/>
<path d="M299.50,162.00 C301.70,157.00 305.30,153.80 310.80,153.80 S318.80,157.80 323.20,166.40" fill="none" stroke="#f2e4c2" stroke-width="1.3" stroke-linecap="round"/>
<ellipse cx="439.80" cy="161.80" rx="3.2" ry="1.7" fill="#5c6462"/>
<ellipse cx="439.20" cy="161.40" rx="1.5" ry="0.7" fill="#a9aeac"/>
<path d="M427.30,166.30 C429.30,160.80 433.80,157.40 439.30,157.40 S447.80,161.80 452.30,170.80" fill="none" stroke="#9c8254" stroke-width="4.4" stroke-linecap="round"/>
<path d="M427.30,166.30 C429.30,160.80 433.80,157.40 439.30,157.40 S447.80,161.80 452.30,170.80" fill="none" stroke="#d9c190" stroke-width="3.5" stroke-linecap="round"/>
<path d="M428.00,164.80 C430.20,159.80 433.80,156.60 439.30,156.60 S447.30,160.60 451.70,169.20" fill="none" stroke="#f2e4c2" stroke-width="1.3" stroke-linecap="round"/>
<ellipse cx="276.30" cy="162.30" rx="3.2" ry="1.7" fill="#5c6462"/>
<ellipse cx="275.70" cy="161.90" rx="1.5" ry="0.7" fill="#a9aeac"/>
<path d="M263.80,166.80 C265.80,161.30 270.30,157.90 275.80,157.90 S284.30,162.30 288.80,171.30" fill="none" stroke="#9c8254" stroke-width="4.4" stroke-linecap="round"/>
<path d="M263.80,166.80 C265.80,161.30 270.30,157.90 275.80,157.90 S284.30,162.30 288.80,171.30" fill="none" stroke="#d9c190" stroke-width="3.5" stroke-linecap="round"/>
<path d="M264.50,165.30 C266.70,160.30 270.30,157.10 275.80,157.10 S283.80,161.10 288.20,169.70" fill="none" stroke="#f2e4c2" stroke-width="1.3" stroke-linecap="round"/>
<ellipse cx="404.80" cy="165.10" rx="3.2" ry="1.7" fill="#5c6462"/>
<ellipse cx="404.20" cy="164.70" rx="1.5" ry="0.7" fill="#a9aeac"/>
<path d="M392.30,169.60 C394.30,164.10 398.80,160.70 404.30,160.70 S412.80,165.10 417.30,174.10" fill="none" stroke="#9c8254" stroke-width="4.4" stroke-linecap="round"/>
<path d="M392.30,169.60 C394.30,164.10 398.80,160.70 404.30,160.70 S412.80,165.10 417.30,174.10" fill="none" stroke="#d9c190" stroke-width="3.5" stroke-linecap="round"/>
<path d="M393.00,168.10 C395.20,163.10 398.80,159.90 404.30,159.90 S412.30,163.90 416.70,172.50" fill="none" stroke="#f2e4c2" stroke-width="1.3" stroke-linecap="round"/>
<ellipse cx="241.30" cy="165.60" rx="3.2" ry="1.7" fill="#5c6462"/>
<ellipse cx="240.70" cy="165.20" rx="1.5" ry="0.7" fill="#a9aeac"/>
<path d="M228.80,170.10 C230.80,164.60 235.30,161.20 240.80,161.20 S249.30,165.60 253.80,174.60" fill="none" stroke="#9c8254" stroke-width="4.4" stroke-linecap="round"/>
<path d="M228.80,170.10 C230.80,164.60 235.30,161.20 240.80,161.20 S249.30,165.60 253.80,174.60" fill="none" stroke="#d9c190" stroke-width="3.5" stroke-linecap="round"/>
<path d="M229.50,168.60 C231.70,163.60 235.30,160.40 240.80,160.40 S248.80,164.40 253.20,173.00" fill="none" stroke="#f2e4c2" stroke-width="1.3" stroke-linecap="round"/>
<ellipse cx="369.80" cy="168.40" rx="3.2" ry="1.7" fill="#5c6462"/>
<ellipse cx="369.20" cy="168.00" rx="1.5" ry="0.7" fill="#a9aeac"/>
<path d="M357.30,172.90 C359.30,167.40 363.80,164.00 369.30,164.00 S377.80,168.40 382.30,177.40" fill="none" stroke="#9c8254" stroke-width="4.4" stroke-linecap="round"/>
<path d="M357.30,172.90 C359.30,167.40 363.80,164.00 369.30,164.00 S377.80,168.40 382.30,177.40" fill="none" stroke="#d9c190" stroke-width="3.5" stroke-linecap="round"/>
<path d="M358.00,171.40 C360.20,166.40 363.80,163.20 369.30,163.20 S377.30,167.20 381.70,175.80" fill="none" stroke="#f2e4c2" stroke-width="1.3" stroke-linecap="round"/>
<ellipse cx="334.80" cy="171.70" rx="3.2" ry="1.7" fill="#5c6462"/>
<ellipse cx="334.20" cy="171.30" rx="1.5" ry="0.7" fill="#a9aeac"/>
<path d="M322.30,176.20 C324.30,170.70 328.80,167.30 334.30,167.30 S342.80,171.70 347.30,180.70" fill="none" stroke="#9c8254" stroke-width="4.4" stroke-linecap="round"/>
<path d="M322.30,176.20 C324.30,170.70 328.80,167.30 334.30,167.30 S342.80,171.70 347.30,180.70" fill="none" stroke="#d9c190" stroke-width="3.5" stroke-linecap="round"/>
<path d="M323.00,174.70 C325.20,169.70 328.80,166.50 334.30,166.50 S342.30,170.50 346.70,179.10" fill="none" stroke="#f2e4c2" stroke-width="1.3" stroke-linecap="round"/>
<ellipse cx="299.80" cy="175.00" rx="3.2" ry="1.7" fill="#5c6462"/>
<ellipse cx="299.20" cy="174.60" rx="1.5" ry="0.7" fill="#a9aeac"/>
<path d="M287.30,179.50 C289.30,174.00 293.80,170.60 299.30,170.60 S307.80,175.00 312.30,184.00" fill="none" stroke="#9c8254" stroke-width="4.4" stroke-linecap="round"/>
<path d="M287.30,179.50 C289.30,174.00 293.80,170.60 299.30,170.60 S307.80,175.00 312.30,184.00" fill="none" stroke="#d9c190" stroke-width="3.5" stroke-linecap="round"/>
<path d="M288.00,178.00 C290.20,173.00 293.80,169.80 299.30,169.80 S307.30,173.80 311.70,182.40" fill="none" stroke="#f2e4c2" stroke-width="1.3" stroke-linecap="round"/>
<ellipse cx="428.30" cy="177.80" rx="3.2" ry="1.7" fill="#5c6462"/>
<ellipse cx="427.70" cy="177.40" rx="1.5" ry="0.7" fill="#a9aeac"/>
<path d="M415.80,182.30 C417.80,176.80 422.30,173.40 427.80,173.40 S436.30,177.80 440.80,186.80" fill="none" stroke="#9c8254" stroke-width="4.4" stroke-linecap="round"/>
<path d="M415.80,182.30 C417.80,176.80 422.30,173.40 427.80,173.40 S436.30,177.80 440.80,186.80" fill="none" stroke="#d9c190" stroke-width="3.5" stroke-linecap="round"/>
<path d="M416.50,180.80 C418.70,175.80 422.30,172.60 427.80,172.60 S435.80,176.60 440.20,185.20" fill="none" stroke="#f2e4c2" stroke-width="1.3" stroke-linecap="round"/>
<ellipse cx="264.80" cy="178.30" rx="3.2" ry="1.7" fill="#5c6462"/>
<ellipse cx="264.20" cy="177.90" rx="1.5" ry="0.7" fill="#a9aeac"/>
<path d="M252.30,182.80 C254.30,177.30 258.80,173.90 264.30,173.90 S272.80,178.30 277.30,187.30" fill="none" stroke="#9c8254" stroke-width="4.4" stroke-linecap="round"/>
<path d="M252.30,182.80 C254.30,177.30 258.80,173.90 264.30,173.90 S272.80,178.30 277.30,187.30" fill="none" stroke="#d9c190" stroke-width="3.5" stroke-linecap="round"/>
<path d="M253.00,181.30 C255.20,176.30 258.80,173.10 264.30,173.10 S272.30,177.10 276.70,185.70" fill="none" stroke="#f2e4c2" stroke-width="1.3" stroke-linecap="round"/>
<ellipse cx="393.30" cy="181.10" rx="3.2" ry="1.7" fill="#5c6462"/>
<ellipse cx="392.70" cy="180.70" rx="1.5" ry="0.7" fill="#a9aeac"/>
<path d="M380.80,185.60 C382.80,180.10 387.30,176.70 392.80,176.70 S401.30,181.10 405.80,190.10" fill="none" stroke="#9c8254" stroke-width="4.4" stroke-linecap="round"/>
<path d="M380.80,185.60 C382.80,180.10 387.30,176.70 392.80,176.70 S401.30,181.10 405.80,190.10" fill="none" stroke="#d9c190" stroke-width="3.5" stroke-linecap="round"/>
<path d="M381.50,184.10 C383.70,179.10 387.30,175.90 392.80,175.90 S400.80,179.90 405.20,188.50" fill="none" stroke="#f2e4c2" stroke-width="1.3" stroke-linecap="round"/>
<ellipse cx="358.30" cy="184.40" rx="3.2" ry="1.7" fill="#5c6462"/>
<ellipse cx="357.70" cy="184.00" rx="1.5" ry="0.7" fill="#a9aeac"/>
<path d="M345.80,188.90 C347.80,183.40 352.30,180.00 357.80,180.00 S366.30,184.40 370.80,193.40" fill="none" stroke="#9c8254" stroke-width="4.4" stroke-linecap="round"/>
<path d="M345.80,188.90 C347.80,183.40 352.30,180.00 357.80,180.00 S366.30,184.40 370.80,193.40" fill="none" stroke="#d9c190" stroke-width="3.5" stroke-linecap="round"/>
<path d="M346.50,187.40 C348.70,182.40 352.30,179.20 357.80,179.20 S365.80,183.20 370.20,191.80" fill="none" stroke="#f2e4c2" stroke-width="1.3" stroke-linecap="round"/>
<ellipse cx="323.30" cy="187.70" rx="3.2" ry="1.7" fill="#5c6462"/>
<ellipse cx="322.70" cy="187.30" rx="1.5" ry="0.7" fill="#a9aeac"/>
<path d="M310.80,192.20 C312.80,186.70 317.30,183.30 322.80,183.30 S331.30,187.70 335.80,196.70" fill="none" stroke="#9c8254" stroke-width="4.4" stroke-linecap="round"/>
<path d="M310.80,192.20 C312.80,186.70 317.30,183.30 322.80,183.30 S331.30,187.70 335.80,196.70" fill="none" stroke="#d9c190" stroke-width="3.5" stroke-linecap="round"/>
<path d="M311.50,190.70 C313.70,185.70 317.30,182.50 322.80,182.50 S330.80,186.50 335.20,195.10" fill="none" stroke="#f2e4c2" stroke-width="1.3" stroke-linecap="round"/>
<ellipse cx="288.30" cy="191.00" rx="3.2" ry="1.7" fill="#5c6462"/>
<ellipse cx="287.70" cy="190.60" rx="1.5" ry="0.7" fill="#a9aeac"/>
<path d="M275.80,195.50 C277.80,190.00 282.30,186.60 287.80,186.60 S296.30,191.00 300.80,200.00" fill="none" stroke="#9c8254" stroke-width="4.4" stroke-linecap="round"/>
<path d="M275.80,195.50 C277.80,190.00 282.30,186.60 287.80,186.60 S296.30,191.00 300.80,200.00" fill="none" stroke="#d9c190" stroke-width="3.5" stroke-linecap="round"/>
<path d="M276.50,194.00 C278.70,189.00 282.30,185.80 287.80,185.80 S295.80,189.80 300.20,198.40" fill="none" stroke="#f2e4c2" stroke-width="1.3" stroke-linecap="round"/>
<ellipse cx="416.80" cy="193.80" rx="3.2" ry="1.7" fill="#5c6462"/>
<ellipse cx="416.20" cy="193.40" rx="1.5" ry="0.7" fill="#a9aeac"/>
<path d="M404.30,198.30 C406.30,192.80 410.80,189.40 416.30,189.40 S424.80,193.80 429.30,202.80" fill="none" stroke="#9c8254" stroke-width="4.4" stroke-linecap="round"/>
<path d="M404.30,198.30 C406.30,192.80 410.80,189.40 416.30,189.40 S424.80,193.80 429.30,202.80" fill="none" stroke="#d9c190" stroke-width="3.5" stroke-linecap="round"/>
<path d="M405.00,196.80 C407.20,191.80 410.80,188.60 416.30,188.60 S424.30,192.60 428.70,201.20" fill="none" stroke="#f2e4c2" stroke-width="1.3" stroke-linecap="round"/>
<ellipse cx="253.30" cy="194.30" rx="3.2" ry="1.7" fill="#5c6462"/>
<ellipse cx="252.70" cy="193.90" rx="1.5" ry="0.7" fill="#a9aeac"/>
<path d="M240.80,198.80 C242.80,193.30 247.30,189.90 252.80,189.90 S261.30,194.30 265.80,203.30" fill="none" stroke="#9c8254" stroke-width="4.4" stroke-linecap="round"/>
<path d="M240.80,198.80 C242.80,193.30 247.30,189.90 252.80,189.90 S261.30,194.30 265.80,203.30" fill="none" stroke="#d9c190" stroke-width="3.5" stroke-linecap="round"/>
<path d="M241.50,197.30 C243.70,192.30 247.30,189.10 252.80,189.10 S260.80,193.10 265.20,201.70" fill="none" stroke="#f2e4c2" stroke-width="1.3" stroke-linecap="round"/>
<ellipse cx="381.80" cy="197.10" rx="3.2" ry="1.7" fill="#5c6462"/>
<ellipse cx="381.20" cy="196.70" rx="1.5" ry="0.7" fill="#a9aeac"/>
<path d="M369.30,201.60 C371.30,196.10 375.80,192.70 381.30,192.70 S389.80,197.10 394.30,206.10" fill="none" stroke="#9c8254" stroke-width="4.4" stroke-linecap="round"/>
<path d="M369.30,201.60 C371.30,196.10 375.80,192.70 381.30,192.70 S389.80,197.10 394.30,206.10" fill="none" stroke="#d9c190" stroke-width="3.5" stroke-linecap="round"/>
<path d="M370.00,200.10 C372.20,195.10 375.80,191.90 381.30,191.90 S389.30,195.90 393.70,204.50" fill="none" stroke="#f2e4c2" stroke-width="1.3" stroke-linecap="round"/>
<ellipse cx="346.80" cy="200.40" rx="3.2" ry="1.7" fill="#5c6462"/>
<ellipse cx="346.20" cy="200.00" rx="1.5" ry="0.7" fill="#a9aeac"/>
<path d="M334.30,204.90 C336.30,199.40 340.80,196.00 346.30,196.00 S354.80,200.40 359.30,209.40" fill="none" stroke="#9c8254" stroke-width="4.4" stroke-linecap="round"/>
<path d="M334.30,204.90 C336.30,199.40 340.80,196.00 346.30,196.00 S354.80,200.40 359.30,209.40" fill="none" stroke="#d9c190" stroke-width="3.5" stroke-linecap="round"/>
<path d="M335.00,203.40 C337.20,198.40 340.80,195.20 346.30,195.20 S354.30,199.20 358.70,207.80" fill="none" stroke="#f2e4c2" stroke-width="1.3" stroke-linecap="round"/>
<ellipse cx="311.80" cy="203.70" rx="3.2" ry="1.7" fill="#5c6462"/>
<ellipse cx="311.20" cy="203.30" rx="1.5" ry="0.7" fill="#a9aeac"/>
<path d="M299.30,208.20 C301.30,202.70 305.80,199.30 311.30,199.30 S319.80,203.70 324.30,212.70" fill="none" stroke="#9c8254" stroke-width="4.4" stroke-linecap="round"/>
<path d="M299.30,208.20 C301.30,202.70 305.80,199.30 311.30,199.30 S319.80,203.70 324.30,212.70" fill="none" stroke="#d9c190" stroke-width="3.5" stroke-linecap="round"/>
<path d="M300.00,206.70 C302.20,201.70 305.80,198.50 311.30,198.50 S319.30,202.50 323.70,211.10" fill="none" stroke="#f2e4c2" stroke-width="1.3" stroke-linecap="round"/>
<ellipse cx="440.30" cy="206.50" rx="3.2" ry="1.7" fill="#5c6462"/>
<ellipse cx="439.70" cy="206.10" rx="1.5" ry="0.7" fill="#a9aeac"/>
<path d="M427.80,211.00 C429.80,205.50 434.30,202.10 439.80,202.10 S448.30,206.50 452.80,215.50" fill="none" stroke="#9c8254" stroke-width="4.4" stroke-linecap="round"/>
<path d="M427.80,211.00 C429.80,205.50 434.30,202.10 439.80,202.10 S448.30,206.50 452.80,215.50" fill="none" stroke="#d9c190" stroke-width="3.5" stroke-linecap="round"/>
<path d="M428.50,209.50 C430.70,204.50 434.30,201.30 439.80,201.30 S447.80,205.30 452.20,213.90" fill="none" stroke="#f2e4c2" stroke-width="1.3" stroke-linecap="round"/>
<ellipse cx="276.80" cy="207.00" rx="3.2" ry="1.7" fill="#5c6462"/>
<ellipse cx="276.20" cy="206.60" rx="1.5" ry="0.7" fill="#a9aeac"/>
<path d="M264.30,211.50 C266.30,206.00 270.80,202.60 276.30,202.60 S284.80,207.00 289.30,216.00" fill="none" stroke="#9c8254" stroke-width="4.4" stroke-linecap="round"/>
<path d="M264.30,211.50 C266.30,206.00 270.80,202.60 276.30,202.60 S284.80,207.00 289.30,216.00" fill="none" stroke="#d9c190" stroke-width="3.5" stroke-linecap="round"/>
<path d="M265.00,210.00 C267.20,205.00 270.80,201.80 276.30,201.80 S284.30,205.80 288.70,214.40" fill="none" stroke="#f2e4c2" stroke-width="1.3" stroke-linecap="round"/>
<ellipse cx="405.30" cy="209.80" rx="3.2" ry="1.7" fill="#5c6462"/>
<ellipse cx="404.70" cy="209.40" rx="1.5" ry="0.7" fill="#a9aeac"/>
<path d="M392.80,214.30 C394.80,208.80 399.30,205.40 404.80,205.40 S413.30,209.80 417.80,218.80" fill="none" stroke="#9c8254" stroke-width="4.4" stroke-linecap="round"/>
<path d="M392.80,214.30 C394.80,208.80 399.30,205.40 404.80,205.40 S413.30,209.80 417.80,218.80" fill="none" stroke="#d9c190" stroke-width="3.5" stroke-linecap="round"/>
<path d="M393.50,212.80 C395.70,207.80 399.30,204.60 404.80,204.60 S412.80,208.60 417.20,217.20" fill="none" stroke="#f2e4c2" stroke-width="1.3" stroke-linecap="round"/>
<ellipse cx="241.80" cy="210.30" rx="3.2" ry="1.7" fill="#5c6462"/>
<ellipse cx="241.20" cy="209.90" rx="1.5" ry="0.7" fill="#a9aeac"/>
<path d="M229.30,214.80 C231.30,209.30 235.80,205.90 241.30,205.90 S249.80,210.30 254.30,219.30" fill="none" stroke="#9c8254" stroke-width="4.4" stroke-linecap="round"/>
<path d="M229.30,214.80 C231.30,209.30 235.80,205.90 241.30,205.90 S249.80,210.30 254.30,219.30" fill="none" stroke="#d9c190" stroke-width="3.5" stroke-linecap="round"/>
<path d="M230.00,213.30 C232.20,208.30 235.80,205.10 241.30,205.10 S249.30,209.10 253.70,217.70" fill="none" stroke="#f2e4c2" stroke-width="1.3" stroke-linecap="round"/>
<ellipse cx="370.30" cy="213.10" rx="3.2" ry="1.7" fill="#5c6462"/>
<ellipse cx="369.70" cy="212.70" rx="1.5" ry="0.7" fill="#a9aeac"/>
<path d="M357.80,217.60 C359.80,212.10 364.30,208.70 369.80,208.70 S378.30,213.10 382.80,222.10" fill="none" stroke="#9c8254" stroke-width="4.4" stroke-linecap="round"/>
<path d="M357.80,217.60 C359.80,212.10 364.30,208.70 369.80,208.70 S378.30,213.10 382.80,222.10" fill="none" stroke="#d9c190" stroke-width="3.5" stroke-linecap="round"/>
<path d="M358.50,216.10 C360.70,211.10 364.30,207.90 369.80,207.90 S377.80,211.90 382.20,220.50" fill="none" stroke="#f2e4c2" stroke-width="1.3" stroke-linecap="round"/>
<ellipse cx="335.30" cy="216.40" rx="3.2" ry="1.7" fill="#5c6462"/>
<ellipse cx="334.70" cy="216.00" rx="1.5" ry="0.7" fill="#a9aeac"/>
<path d="M322.80,220.90 C324.80,215.40 329.30,212.00 334.80,212.00 S343.30,216.40 347.80,225.40" fill="none" stroke="#9c8254" stroke-width="4.4" stroke-linecap="round"/>
<path d="M322.80,220.90 C324.80,215.40 329.30,212.00 334.80,212.00 S343.30,216.40 347.80,225.40" fill="none" stroke="#d9c190" stroke-width="3.5" stroke-linecap="round"/>
<path d="M323.50,219.40 C325.70,214.40 329.30,211.20 334.80,211.20 S342.80,215.20 347.20,223.80" fill="none" stroke="#f2e4c2" stroke-width="1.3" stroke-linecap="round"/>
<ellipse cx="300.30" cy="219.70" rx="3.2" ry="1.7" fill="#5c6462"/>
<ellipse cx="299.70" cy="219.30" rx="1.5" ry="0.7" fill="#a9aeac"/>
<path d="M287.80,224.20 C289.80,218.70 294.30,215.30 299.80,215.30 S308.30,219.70 312.80,228.70" fill="none" stroke="#9c8254" stroke-width="4.4" stroke-linecap="round"/>
<path d="M287.80,224.20 C289.80,218.70 294.30,215.30 299.80,215.30 S308.30,219.70 312.80,228.70" fill="none" stroke="#d9c190" stroke-width="3.5" stroke-linecap="round"/>
<path d="M288.50,222.70 C290.70,217.70 294.30,214.50 299.80,214.50 S307.80,218.50 312.20,227.10" fill="none" stroke="#f2e4c2" stroke-width="1.3" stroke-linecap="round"/>
<ellipse cx="428.80" cy="222.50" rx="3.2" ry="1.7" fill="#5c6462"/>
<ellipse cx="428.20" cy="222.10" rx="1.5" ry="0.7" fill="#a9aeac"/>
<path d="M416.30,227.00 C418.30,221.50 422.80,218.10 428.30,218.10 S436.80,222.50 441.30,231.50" fill="none" stroke="#9c8254" stroke-width="4.4" stroke-linecap="round"/>
<path d="M416.30,227.00 C418.30,221.50 422.80,218.10 428.30,218.10 S436.80,222.50 441.30,231.50" fill="none" stroke="#d9c190" stroke-width="3.5" stroke-linecap="round"/>
<path d="M417.00,225.50 C419.20,220.50 422.80,217.30 428.30,217.30 S436.30,221.30 440.70,229.90" fill="none" stroke="#f2e4c2" stroke-width="1.3" stroke-linecap="round"/>
<ellipse cx="265.30" cy="223.00" rx="3.2" ry="1.7" fill="#5c6462"/>
<ellipse cx="264.70" cy="222.60" rx="1.5" ry="0.7" fill="#a9aeac"/>
<path d="M252.80,227.50 C254.80,222.00 259.30,218.60 264.80,218.60 S273.30,223.00 277.80,232.00" fill="none" stroke="#9c8254" stroke-width="4.4" stroke-linecap="round"/>
<path d="M252.80,227.50 C254.80,222.00 259.30,218.60 264.80,218.60 S273.30,223.00 277.80,232.00" fill="none" stroke="#d9c190" stroke-width="3.5" stroke-linecap="round"/>
<path d="M253.50,226.00 C255.70,221.00 259.30,217.80 264.80,217.80 S272.80,221.80 277.20,230.40" fill="none" stroke="#f2e4c2" stroke-width="1.3" stroke-linecap="round"/>
<ellipse cx="393.80" cy="225.80" rx="3.2" ry="1.7" fill="#5c6462"/>
<ellipse cx="393.20" cy="225.40" rx="1.5" ry="0.7" fill="#a9aeac"/>
<path d="M381.30,230.30 C383.30,224.80 387.80,221.40 393.30,221.40 S401.80,225.80 406.30,234.80" fill="none" stroke="#9c8254" stroke-width="4.4" stroke-linecap="round"/>
<path d="M381.30,230.30 C383.30,224.80 387.80,221.40 393.30,221.40 S401.80,225.80 406.30,234.80" fill="none" stroke="#d9c190" stroke-width="3.5" stroke-linecap="round"/>
<path d="M382.00,228.80 C384.20,223.80 387.80,220.60 393.30,220.60 S401.30,224.60 405.70,233.20" fill="none" stroke="#f2e4c2" stroke-width="1.3" stroke-linecap="round"/>
<ellipse cx="358.80" cy="229.10" rx="3.2" ry="1.7" fill="#5c6462"/>
<ellipse cx="358.20" cy="228.70" rx="1.5" ry="0.7" fill="#a9aeac"/>
<path d="M346.30,233.60 C348.30,228.10 352.80,224.70 358.30,224.70 S366.80,229.10 371.30,238.10" fill="none" stroke="#9c8254" stroke-width="4.4" stroke-linecap="round"/>
<path d="M346.30,233.60 C348.30,228.10 352.80,224.70 358.30,224.70 S366.80,229.10 371.30,238.10" fill="none" stroke="#d9c190" stroke-width="3.5" stroke-linecap="round"/>
<path d="M347.00,232.10 C349.20,227.10 352.80,223.90 358.30,223.90 S366.30,227.90 370.70,236.50" fill="none" stroke="#f2e4c2" stroke-width="1.3" stroke-linecap="round"/>
<ellipse cx="323.80" cy="232.40" rx="3.2" ry="1.7" fill="#5c6462"/>
<ellipse cx="323.20" cy="232.00" rx="1.5" ry="0.7" fill="#a9aeac"/>
<path d="M311.30,236.90 C313.30,231.40 317.80,228.00 323.30,228.00 S331.80,232.40 336.30,241.40" fill="none" stroke="#9c8254" stroke-width="4.4" stroke-linecap="round"/>
<path d="M311.30,236.90 C313.30,231.40 317.80,228.00 323.30,228.00 S331.80,232.40 336.30,241.40" fill="none" stroke="#d9c190" stroke-width="3.5" stroke-linecap="round"/>
<path d="M312.00,235.40 C314.20,230.40 317.80,227.20 323.30,227.20 S331.30,231.20 335.70,239.80" fill="none" stroke="#f2e4c2" stroke-width="1.3" stroke-linecap="round"/>
<ellipse cx="288.80" cy="235.70" rx="3.2" ry="1.7" fill="#5c6462"/>
<ellipse cx="288.20" cy="235.30" rx="1.5" ry="0.7" fill="#a9aeac"/>
<path d="M276.30,240.20 C278.30,234.70 282.80,231.30 288.30,231.30 S296.80,235.70 301.30,244.70" fill="none" stroke="#9c8254" stroke-width="4.4" stroke-linecap="round"/>
<path d="M276.30,240.20 C278.30,234.70 282.80,231.30 288.30,231.30 S296.80,235.70 301.30,244.70" fill="none" stroke="#d9c190" stroke-width="3.5" stroke-linecap="round"/>
<path d="M277.00,238.70 C279.20,233.70 282.80,230.50 288.30,230.50 S296.30,234.50 300.70,243.10" fill="none" stroke="#f2e4c2" stroke-width="1.3" stroke-linecap="round"/>
<ellipse cx="417.30" cy="238.50" rx="3.2" ry="1.7" fill="#5c6462"/>
<ellipse cx="416.70" cy="238.10" rx="1.5" ry="0.7" fill="#a9aeac"/>
<path d="M404.80,243.00 C406.80,237.50 411.30,234.10 416.80,234.10 S425.30,238.50 429.80,247.50" fill="none" stroke="#9c8254" stroke-width="4.4" stroke-linecap="round"/>
<path d="M404.80,243.00 C406.80,237.50 411.30,234.10 416.80,234.10 S425.30,238.50 429.80,247.50" fill="none" stroke="#d9c190" stroke-width="3.5" stroke-linecap="round"/>
<path d="M405.50,241.50 C407.70,236.50 411.30,233.30 416.80,233.30 S424.80,237.30 429.20,245.90" fill="none" stroke="#f2e4c2" stroke-width="1.3" stroke-linecap="round"/>
<ellipse cx="253.80" cy="239.00" rx="3.2" ry="1.7" fill="#5c6462"/>
<ellipse cx="253.20" cy="238.60" rx="1.5" ry="0.7" fill="#a9aeac"/>
<path d="M241.30,243.50 C243.30,238.00 247.80,234.60 253.30,234.60 S261.80,239.00 266.30,248.00" fill="none" stroke="#9c8254" stroke-width="4.4" stroke-linecap="round"/>
<path d="M241.30,243.50 C243.30,238.00 247.80,234.60 253.30,234.60 S261.80,239.00 266.30,248.00" fill="none" stroke="#d9c190" stroke-width="3.5" stroke-linecap="round"/>
<path d="M242.00,242.00 C244.20,237.00 247.80,233.80 253.30,233.80 S261.30,237.80 265.70,246.40" fill="none" stroke="#f2e4c2" stroke-width="1.3" stroke-linecap="round"/>
<ellipse cx="382.30" cy="241.80" rx="3.2" ry="1.7" fill="#5c6462"/>
<ellipse cx="381.70" cy="241.40" rx="1.5" ry="0.7" fill="#a9aeac"/>
<path d="M369.80,246.30 C371.80,240.80 376.30,237.40 381.80,237.40 S390.30,241.80 394.80,250.80" fill="none" stroke="#9c8254" stroke-width="4.4" stroke-linecap="round"/>
<path d="M369.80,246.30 C371.80,240.80 376.30,237.40 381.80,237.40 S390.30,241.80 394.80,250.80" fill="none" stroke="#d9c190" stroke-width="3.5" stroke-linecap="round"/>
<path d="M370.50,244.80 C372.70,239.80 376.30,236.60 381.80,236.60 S389.80,240.60 394.20,249.20" fill="none" stroke="#f2e4c2" stroke-width="1.3" stroke-linecap="round"/>
<ellipse cx="347.30" cy="245.10" rx="3.2" ry="1.7" fill="#5c6462"/>
<ellipse cx="346.70" cy="244.70" rx="1.5" ry="0.7" fill="#a9aeac"/>
<path d="M334.80,249.60 C336.80,244.10 341.30,240.70 346.80,240.70 S355.30,245.10 359.80,254.10" fill="none" stroke="#9c8254" stroke-width="4.4" stroke-linecap="round"/>
<path d="M334.80,249.60 C336.80,244.10 341.30,240.70 346.80,240.70 S355.30,245.10 359.80,254.10" fill="none" stroke="#d9c190" stroke-width="3.5" stroke-linecap="round"/>
<path d="M335.50,248.10 C337.70,243.10 341.30,239.90 346.80,239.90 S354.80,243.90 359.20,252.50" fill="none" stroke="#f2e4c2" stroke-width="1.3" stroke-linecap="round"/>
</g>
<rect x="250.40" y="180.00" width="71.50" height="34.70" fill="#848a6c" stroke="none" stroke-width="0.6" />
<filter id="noise" x="0" y="0" width="1" height="1"><feTurbulence type="fractalNoise" baseFrequency="0.9 0.5" numOctaves="2" seed="3"/><feColorMatrix type="matrix" values="0 0 0 0 0.1  0 0 0 0 0.12  0 0 0 0 0.1  1.2 1.2 1.2 0 -1.2"/></filter>
<filter id="noisew" x="0" y="0" width="1" height="1"><feTurbulence type="fractalNoise" baseFrequency="0.8 0.45" numOctaves="2" seed="11"/><feColorMatrix type="matrix" values="0 0 0 0 0.92  0 0 0 0 0.95  0 0 0 0 0.9  1.3 1.3 1.3 0 -1.45"/></filter>
<rect x="250.40" y="180.00" width="71.50" height="34.70" fill="#000" stroke="none" stroke-width="0.6" filter="url(#noise)" opacity="0.4"/>
<rect x="250.40" y="180.00" width="71.50" height="34.70" fill="#000" stroke="none" stroke-width="0.6" filter="url(#noisew)" opacity="0.4"/>
<rect x="261.10" y="184.30" width="58.70" height="6.20" fill="none" stroke="#d6d22e" stroke-width="0.55" stroke-dasharray="2.2 0.7" opacity="0.9"/>
<rect x="261.10" y="193.30" width="25.60" height="6.90" fill="none" stroke="#d6d22e" stroke-width="0.55" stroke-dasharray="2.2 0.7" opacity="0.9"/>
<rect x="289.40" y="193.30" width="19.40" height="6.90" fill="none" stroke="#d6d22e" stroke-width="0.55" stroke-dasharray="2.2 0.7" opacity="0.9"/>
<rect x="261.10" y="202.90" width="53.20" height="6.20" fill="none" stroke="#d6d22e" stroke-width="0.55" stroke-dasharray="2.2 0.7" opacity="0.9"/>
<rect x="252.10" y="187.70" width="6.90" height="19.40" fill="none" stroke="#d6d22e" stroke-width="0.55" stroke-dasharray="2.2 0.7" opacity="0.9"/>
<rect x="312.20" y="192.60" width="7.60" height="13.10" fill="none" stroke="#d6d22e" stroke-width="0.55" stroke-dasharray="2.2 0.7" opacity="0.9"/>
<rect x="250.40" y="180.00" width="71.50" height="34.70" fill="none" stroke="#e6e6dc" stroke-width="0.6" />
<text x="291.00" y="189.20" font-size="3.3" text-anchor="middle" font-weight="bold" fill="#e81c1c" stroke="#e81c1c" stroke-width="0.132" >NAND</text>
<text x="274.00" y="198.40" font-size="3.3" text-anchor="middle" font-weight="bold" fill="#e81c1c" stroke="#e81c1c" stroke-width="0.132" >NOR</text>
<text x="299.20" y="198.40" font-size="3.3" text-anchor="middle" font-weight="bold" fill="#e81c1c" stroke="#e81c1c" stroke-width="0.132" >NOT</text>
<text x="284.50" y="207.80" font-size="3.3" text-anchor="middle" font-weight="bold" fill="#e81c1c" stroke="#e81c1c" stroke-width="0.132" >Half adder</text>
<text x="255.60" y="193.40" font-size="3.0" text-anchor="middle" font-weight="bold" fill="#e81c1c" stroke="#e81c1c" stroke-width="0.120" >A</text>
<text x="255.60" y="198.40" font-size="3.0" text-anchor="middle" font-weight="bold" fill="#e81c1c" stroke="#e81c1c" stroke-width="0.120" >N</text>
<text x="255.60" y="203.20" font-size="3.0" text-anchor="middle" font-weight="bold" fill="#e81c1c" stroke="#e81c1c" stroke-width="0.120" >D</text>
<text x="316.00" y="199.20" font-size="3.0" text-anchor="middle" font-weight="bold" fill="#e81c1c" stroke="#e81c1c" stroke-width="0.120" >O</text>
<text x="316.00" y="203.80" font-size="3.0" text-anchor="middle" font-weight="bold" fill="#e81c1c" stroke="#e81c1c" stroke-width="0.120" >R</text>
<line x1="286.80" y1="151.80" x2="377.70" y2="204.00" stroke="#0a0a0a" stroke-width="1.4" />
<line x1="313.00" y1="135.40" x2="404.50" y2="188.20" stroke="#0a0a0a" stroke-width="1.4" />
<path d="M284,145.9 L277.8,145.9 L277.8,174 L284,174" fill="none" stroke="#ee1c1c" stroke-width="0.9" stroke-dasharray="1.4 0.9"/>
<line x1="277.80" y1="160.20" x2="254.00" y2="160.20" stroke="#ee1c1c" stroke-width="1.1" />
<path d="M251.6,160.2 L255.8,158.3 L255.8,162.1Z" fill="#ee1c1c" stroke="none" stroke-width="0.6" />
<path d="M397,134 L403,134 L403,169.7 L397,169.7" fill="none" stroke="#ee1c1c" stroke-width="0.9" stroke-dasharray="1.4 0.9"/>
<line x1="403.00" y1="160.00" x2="408.00" y2="160.00" stroke="#ee1c1c" stroke-width="1.1" />
<path d="M409.6,160 L406.6,158.7 L406.6,161.3Z" fill="#ee1c1c" stroke="none" stroke-width="0.6" />
<rect x="304.00" y="147.60" width="4.00" height="8.80" fill="#e8f4f4" stroke="#111" stroke-width="0.8" fill-opacity="0.35"/>
<line x1="306.00" y1="145.00" x2="306.00" y2="147.60" stroke="#111" stroke-width="0.7" />
<line x1="306.00" y1="156.40" x2="306.00" y2="159.50" stroke="#111" stroke-width="0.7" />
<path d="M306.00,145.00 L306.00,145.50 L295.70,145.50 L295.70,142.50" fill="none" stroke="#111" stroke-width="1.0" />
<path d="M292.80,138.30 L298.60,138.30 L295.70,143.40Z" fill="#ffd21a" stroke="#ea2a1c" stroke-width="1.0" stroke-linejoin="round"/>
<rect x="326.50" y="159.30" width="4.00" height="8.80" fill="#e8f4f4" stroke="#111" stroke-width="0.8" fill-opacity="0.35"/>
<line x1="328.50" y1="156.70" x2="328.50" y2="159.30" stroke="#111" stroke-width="0.7" />
<line x1="328.50" y1="168.10" x2="328.50" y2="171.20" stroke="#111" stroke-width="0.7" />
<path d="M328.50,156.70 L328.50,156.80 L320.50,156.80 L320.50,153.80" fill="none" stroke="#111" stroke-width="1.0" />
<path d="M317.60,149.60 L323.40,149.60 L320.50,154.70Z" fill="#ffd21a" stroke="#ea2a1c" stroke-width="1.0" stroke-linejoin="round"/>
<rect x="351.80" y="172.60" width="4.00" height="8.80" fill="#e8f4f4" stroke="#111" stroke-width="0.8" fill-opacity="0.35"/>
<line x1="353.80" y1="170.00" x2="353.80" y2="172.60" stroke="#111" stroke-width="0.7" />
<line x1="353.80" y1="181.40" x2="353.80" y2="184.50" stroke="#111" stroke-width="0.7" />
<path d="M353.80,170.00 L353.80,171.70 L345.50,171.70 L345.50,168.70" fill="none" stroke="#111" stroke-width="1.0" />
<path d="M342.60,164.50 L348.40,164.50 L345.50,169.60Z" fill="#ffd21a" stroke="#ea2a1c" stroke-width="1.0" stroke-linejoin="round"/>
<rect x="353.00" y="142.00" width="4.00" height="8.80" fill="#e8f4f4" stroke="#111" stroke-width="0.8" fill-opacity="0.35"/>
<line x1="355.00" y1="139.40" x2="355.00" y2="142.00" stroke="#111" stroke-width="0.7" />
<line x1="355.00" y1="150.80" x2="355.00" y2="153.90" stroke="#111" stroke-width="0.7" />
<path d="M355.00,139.40 L355.00,138.30 L360.70,138.30 L360.70,135.30" fill="none" stroke="#111" stroke-width="1.0" />
<path d="M357.80,131.10 L363.60,131.10 L360.70,136.20Z" fill="#ffd21a" stroke="#ea2a1c" stroke-width="1.0" stroke-linejoin="round"/>
<rect x="380.00" y="157.60" width="4.00" height="8.80" fill="#e8f4f4" stroke="#111" stroke-width="0.8" fill-opacity="0.35"/>
<line x1="382.00" y1="155.00" x2="382.00" y2="157.60" stroke="#111" stroke-width="0.7" />
<line x1="382.00" y1="166.40" x2="382.00" y2="169.50" stroke="#111" stroke-width="0.7" />
<path d="M382.00,155.00 L384.00,153.00 L394.00,151.50 L394.00,145.50" fill="none" stroke="#111" stroke-width="1.0" />
<path d="M391.10,141.30 L396.90,141.30 L394.00,146.40Z" fill="#ffd21a" stroke="#ea2a1c" stroke-width="1.0" stroke-linejoin="round"/>
<path d="M339.5,162.5 l-2,1.6 l0,2.6 l2,1.4 M337.5,165.4 l-2,0" fill="none" stroke="#111" stroke-width="0.9" />
<path d="M388.5,135.5 l-2.2,1.8 l0.4,2.6 l2.6,1.2" fill="none" stroke="#111" stroke-width="1.2" />
<circle cx="273.30" cy="134.50" r="2.1" fill="#1f46e0" stroke="#0a1c90" stroke-width="0.3" />
<circle cx="273.30" cy="134.50" r="0.9" fill="#ffe63a" stroke="none" stroke-width="0.5" />
<circle cx="277.20" cy="137.00" r="2.1" fill="#1f46e0" stroke="#0a1c90" stroke-width="0.3" />
<circle cx="277.20" cy="137.00" r="0.9" fill="#ffe63a" stroke="none" stroke-width="0.5" />
<circle cx="280.80" cy="139.30" r="2.1" fill="#1f46e0" stroke="#0a1c90" stroke-width="0.3" />
<circle cx="280.80" cy="139.30" r="0.9" fill="#ffe63a" stroke="none" stroke-width="0.5" />
<circle cx="391.00" cy="199.00" r="2.1" fill="#1f46e0" stroke="#0a1c90" stroke-width="0.3" />
<circle cx="391.00" cy="199.00" r="0.9" fill="#ffe63a" stroke="none" stroke-width="0.5" />
<circle cx="395.60" cy="201.00" r="2.1" fill="#1f46e0" stroke="#0a1c90" stroke-width="0.3" />
<circle cx="395.60" cy="201.00" r="0.9" fill="#ffe63a" stroke="none" stroke-width="0.5" />
<circle cx="400.00" cy="203.00" r="2.1" fill="#1f46e0" stroke="#0a1c90" stroke-width="0.3" />
<circle cx="400.00" cy="203.00" r="0.9" fill="#ffe63a" stroke="none" stroke-width="0.5" />
<text x="291.00" y="163.00" font-size="4.6" text-anchor="middle" font-weight="normal" fill="#111" stroke="#111" stroke-width="0.101" >Input1</text>
<text x="318.00" y="178.40" font-size="4.6" text-anchor="middle" font-weight="normal" fill="#111" stroke="#111" stroke-width="0.101" >Input2</text>
<text x="342.80" y="194.80" font-size="4.6" text-anchor="middle" font-weight="normal" fill="#111" stroke="#111" stroke-width="0.101" >Output</text>
<text x="340.40" y="145.60" font-size="4.6" text-anchor="middle" font-weight="normal" fill="#111" stroke="#111" stroke-width="0.101" >Input1</text>
<text x="368.80" y="161.40" font-size="4.6" text-anchor="middle" font-weight="normal" fill="#111" stroke="#111" stroke-width="0.101" >Output</text>
<path d="M438.20,202.00 L438.20,178.40 L439.90,178.40 L439.90,177.20 L441.60,177.20 L441.60,177.80 L443.30,177.80 L443.30,202.00Z" fill="#1432e6" stroke="none" stroke-width="0.6" />
<path d="M445.30,202.00 L445.30,193.40 L447.10,193.40 L447.10,192.60 L448.90,192.60 L448.90,193.00 L450.70,193.00 L450.70,202.00Z" fill="#1432e6" stroke="none" stroke-width="0.6" />
<path d="M452.80,202.00 L452.80,144.80 L458.10,144.80 L458.10,202.00Z" fill="#ee1520" stroke="none" stroke-width="0.6" />
<path d="M464.70,202.00 L464.70,179.20 L465.88,179.20 L465.88,180.40 L467.05,180.40 L467.05,182.00 L468.22,182.00 L468.22,183.60 L469.40,183.60 L469.40,202.00Z" fill="#1432e6" stroke="none" stroke-width="0.6" />
<path d="M471.50,202.00 L471.50,141.20 L476.60,141.20 L476.60,202.00Z" fill="#1432e6" stroke="none" stroke-width="0.6" />
<path d="M479.00,202.00 L479.00,181.00 L480.77,181.00 L480.77,181.40 L482.53,181.40 L482.53,186.50 L484.30,186.50 L484.30,202.00Z" fill="#ee1520" stroke="none" stroke-width="0.6" />
<path d="M490.90,202.00 L490.90,142.70 L496.20,142.70 L496.20,202.00Z" fill="#1432e6" stroke="none" stroke-width="0.6" />
<path d="M498.30,202.00 L498.30,174.50 L503.70,174.50 L503.70,202.00Z" fill="#1432e6" stroke="none" stroke-width="0.6" />
<path d="M505.75,202.00 L505.75,185.20 L508.43,185.20 L508.43,184.80 L511.10,184.80 L511.10,202.00Z" fill="#ee1520" stroke="none" stroke-width="0.6" />
<path d="M517.65,202.00 L517.65,139.70 L522.70,139.70 L522.70,202.00Z" fill="#1432e6" stroke="none" stroke-width="0.6" />
<path d="M525.10,202.00 L525.10,131.40 L530.45,131.40 L530.45,202.00Z" fill="#1432e6" stroke="none" stroke-width="0.6" />
<path d="M532.50,202.00 L532.50,188.80 L535.20,188.80 L535.20,188.20 L537.90,188.20 L537.90,202.00Z" fill="#ee1520" stroke="none" stroke-width="0.6" />
<line x1="461.10" y1="124.50" x2="461.10" y2="202.00" stroke="#111" stroke-width="0.9" stroke-dasharray="3 1.8"/>
<line x1="487.60" y1="124.50" x2="487.60" y2="202.00" stroke="#111" stroke-width="0.9" stroke-dasharray="3 1.8"/>
<line x1="514.10" y1="124.50" x2="514.10" y2="202.00" stroke="#111" stroke-width="0.9" stroke-dasharray="3 1.8"/>
<rect x="434.90" y="124.50" width="105.70" height="77.50" fill="none" stroke="#222" stroke-width="0.6" />
<text x="433.80" y="126.90" font-size="4.8" text-anchor="end" font-weight="normal" fill="#111" stroke="#111" stroke-width="0.106" >10<tspan dy="-1.6" font-size="3.2">-3</tspan></text>
<line x1="434.90" y1="125.20" x2="436.40" y2="125.20" stroke="#111" stroke-width="0.4" />
<text x="433.80" y="146.10" font-size="4.8" text-anchor="end" font-weight="normal" fill="#111" stroke="#111" stroke-width="0.106" >10<tspan dy="-1.6" font-size="3.2">-4</tspan></text>
<line x1="434.90" y1="144.40" x2="436.40" y2="144.40" stroke="#111" stroke-width="0.4" />
<text x="433.80" y="165.30" font-size="4.8" text-anchor="end" font-weight="normal" fill="#111" stroke="#111" stroke-width="0.106" >10<tspan dy="-1.6" font-size="3.2">-5</tspan></text>
<line x1="434.90" y1="163.60" x2="436.40" y2="163.60" stroke="#111" stroke-width="0.4" />
<text x="433.80" y="184.50" font-size="4.8" text-anchor="end" font-weight="normal" fill="#111" stroke="#111" stroke-width="0.106" >10<tspan dy="-1.6" font-size="3.2">-6</tspan></text>
<line x1="434.90" y1="182.80" x2="436.40" y2="182.80" stroke="#111" stroke-width="0.4" />
<text x="433.80" y="203.70" font-size="4.8" text-anchor="end" font-weight="normal" fill="#111" stroke="#111" stroke-width="0.106" >10<tspan dy="-1.6" font-size="3.2">-7</tspan></text>
<line x1="434.90" y1="202.00" x2="436.40" y2="202.00" stroke="#111" stroke-width="0.4" />
<text x="440.70" y="167.60" font-size="5.2" text-anchor="middle" font-weight="normal" fill="#111" stroke="#111" stroke-width="0.114" >0</text>
<text x="448.00" y="167.60" font-size="5.2" text-anchor="middle" font-weight="normal" fill="#111" stroke="#111" stroke-width="0.114" >0</text>
<rect x="453.60" y="162.20" width="3.60" height="6.60" fill="#fff" stroke="#333" stroke-width="0.35" />
<text x="455.40" y="167.60" font-size="5.2" text-anchor="middle" font-weight="normal" fill="#111" stroke="#111" stroke-width="0.114" >1</text>
<text x="467.00" y="167.60" font-size="5.2" text-anchor="middle" font-weight="normal" fill="#111" stroke="#111" stroke-width="0.114" >0</text>
<rect x="472.20" y="162.20" width="3.60" height="6.60" fill="#fff" stroke="#333" stroke-width="0.35" />
<text x="474.00" y="167.60" font-size="5.2" text-anchor="middle" font-weight="normal" fill="#111" stroke="#111" stroke-width="0.114" >1</text>
<text x="481.60" y="167.60" font-size="5.2" text-anchor="middle" font-weight="normal" fill="#111" stroke="#111" stroke-width="0.114" >0</text>
<rect x="491.70" y="162.20" width="3.60" height="6.60" fill="#fff" stroke="#333" stroke-width="0.35" />
<text x="493.50" y="167.60" font-size="5.2" text-anchor="middle" font-weight="normal" fill="#111" stroke="#111" stroke-width="0.114" >1</text>
<text x="501.00" y="167.60" font-size="5.2" text-anchor="middle" font-weight="normal" fill="#111" stroke="#111" stroke-width="0.114" >0</text>
<text x="508.40" y="167.60" font-size="5.2" text-anchor="middle" font-weight="normal" fill="#111" stroke="#111" stroke-width="0.114" >0</text>
<rect x="518.40" y="162.20" width="3.60" height="6.60" fill="#fff" stroke="#333" stroke-width="0.35" />
<text x="520.20" y="167.60" font-size="5.2" text-anchor="middle" font-weight="normal" fill="#111" stroke="#111" stroke-width="0.114" >1</text>
<rect x="526.00" y="162.20" width="3.60" height="6.60" fill="#fff" stroke="#333" stroke-width="0.35" />
<text x="527.80" y="167.60" font-size="5.2" text-anchor="middle" font-weight="normal" fill="#111" stroke="#111" stroke-width="0.114" >1</text>
<text x="535.20" y="167.60" font-size="5.2" text-anchor="middle" font-weight="normal" fill="#111" stroke="#111" stroke-width="0.114" >0</text>
<text x="489.00" y="214.00" font-size="5.2" text-anchor="middle" font-weight="normal" fill="#111" stroke="#111" stroke-width="0.114" textLength="24.40" lengthAdjust="spacingAndGlyphs" >Time (sec)</text>
<text x="422.20" y="168.60" font-size="5.0" text-anchor="middle" font-weight="normal" fill="#111" transform="rotate(-90 422.20 168.60)" stroke="#111" stroke-width="0.110" textLength="26.00" lengthAdjust="spacingAndGlyphs" >Current (A)</text>
<line x1="438.20" y1="128.40" x2="446.20" y2="128.40" stroke="#1432e6" stroke-width="1.3" />
<text x="447.00" y="129.40" font-size="2.8" text-anchor="start" font-weight="normal" fill="#111" stroke="#111" stroke-width="0.062" >Input</text>
<line x1="438.20" y1="132.30" x2="446.20" y2="132.30" stroke="#ee1520" stroke-width="1.3" />
<text x="447.00" y="133.30" font-size="2.8" text-anchor="start" font-weight="normal" fill="#111" stroke="#111" stroke-width="0.062" >Output</text>
<defs>
<linearGradient id="gspool" x1="0" y1="0" x2="1" y2="1"><stop offset="0" stop-color="#d2d2d2"/><stop offset="0.5" stop-color="#b2b2b2"/><stop offset="1" stop-color="#969696"/></linearGradient>
<radialGradient id="gface" cx="0.45" cy="0.45" r="0.6"><stop offset="0" stop-color="#b0b0b0"/><stop offset="1" stop-color="#9a9a9a"/></radialGradient>
<linearGradient id="gtube" x1="0" y1="0" x2="0" y2="1"><stop offset="0" stop-color="#3b68ff"/><stop offset="1" stop-color="#0c2cc8"/></linearGradient>
<linearGradient id="gbig" x1="0.2" y1="0" x2="0.6" y2="1"><stop offset="0" stop-color="#3c7aff"/><stop offset="0.45" stop-color="#1a40f4"/><stop offset="1" stop-color="#0a1cae"/></linearGradient>
<linearGradient id="gfilm" x1="0" y1="0" x2="1" y2="0.55"><stop offset="0" stop-color="#2a35e0"/><stop offset="0.5" stop-color="#8a2ab0"/><stop offset="1" stop-color="#f01838"/></linearGradient>
<linearGradient id="gag" x1="0" y1="0" x2="0.4" y2="1"><stop offset="0" stop-color="#e2e4e4"/><stop offset="1" stop-color="#c2c6c6"/></linearGradient>
<filter id="grain" x="0" y="0" width="1" height="1"><feTurbulence type="fractalNoise" baseFrequency="1.2" numOctaves="2" seed="5"/><feColorMatrix type="matrix" values="0 0 0 0 0.3  0 0 0 0 0.3  0 0 0 0 0.3  1.2 1.2 1.2 0 -1.3"/><feComposite in2="SourceGraphic" operator="in"/></filter>
</defs>
<path d="M24.60,252.00 L42.20,242.70 A10.5,14.5 -28 0 1 55.80,268.30 L38.20,277.60 A10.5,14.5 -28 0 1 24.60,252.00Z" fill="url(#gspool)" stroke="none" stroke-width="0.6" />
<path d="M24.60,252.00 L42.20,242.70 A10.5,14.5 -28 0 1 55.80,268.30 L38.20,277.60 A10.5,14.5 -28 0 1 24.60,252.00Z" fill="#000" stroke="none" stroke-width="0.6" filter="url(#grain)" opacity="0.25"/>
<ellipse cx="31.4" cy="264.8" rx="10.5" ry="14.5" transform="rotate(-28 31.4 264.8)" fill="url(#gface)" stroke="#c4c4c4" stroke-width="0.5"/>
<ellipse cx="31.4" cy="264.8" rx="10.5" ry="14.5" transform="rotate(-28 31.4 264.8)" fill="#000" filter="url(#grain)" opacity="0.22"/>
<ellipse cx="31" cy="265.5" rx="5.4" ry="7.0" transform="rotate(-28 31 265.5)" fill="#5e5e5e"/>
<ellipse cx="31.3" cy="265.9" rx="3.7" ry="5.0" transform="rotate(-28 31.3 265.9)" fill="#1a1a1a"/>
<path d="M31.4,249.9 C35,247 39,245.6 42.1,246 C45,246.4 47,247.4 48.4,249 C51,252 53,255.5 54.6,258.8 C56.5,263 57.6,266.5 59.1,269.5 C60.3,272 61.6,273.6 63.6,274.9 L67.5,276.6" fill="none" stroke="#5e5e5e" stroke-width="0.9" />
<path d="M66.5,276.3 L72.5,278.6 L81,281" fill="none" stroke="#c9cdd2" stroke-width="1.9" />
<path d="M66.5,275.9 L72.5,278.2 L81,280.6" fill="none" stroke="#f0f0f0" stroke-width="0.6" />
<g transform="translate(80.60,280.60) rotate(19.45)"><path d="M0,-1.85 L89.51,-1.85 L89.51,1.85 L0,1.85Z" fill="url(#gtube)" /></g>
<g transform="translate(80.60,279.60) rotate(19.45)"><path d="M0,-0.45 L89.51,-0.45 L89.51,0.45 L0,0.45Z" fill="#5a86ff" /></g>
<circle cx="80.60" cy="280.70" r="1.6" fill="#9fb2c8" stroke="none" stroke-width="0.5" />
<g transform="translate(165.00,310.40) rotate(23.11)"><path d="M0,-1.30 L8.92,-1.20 L8.92,1.20 L0,1.30Z" fill="#2a50ee" /></g>
<g transform="translate(173.20,313.90) rotate(29.36)"><path d="M0,-0.85 L7.34,-0.65 L7.34,0.65 L0,0.85Z" fill="#cfd3da" /></g>
<line x1="179.60" y1="317.50" x2="197.60" y2="324.50" stroke="#333" stroke-width="0.6" />
<circle cx="197.70" cy="324.60" r="0.7" fill="#222" stroke="none" stroke-width="0.5" />
<rect x="149.50" y="304.00" width="30.00" height="16.50" fill="none" stroke="#222" stroke-width="0.6" rx="2" stroke-dasharray="1.5 1"/>
<text x="26.40" y="286.80" font-size="4.6" text-anchor="start" font-weight="normal" fill="#111" stroke="#111" stroke-width="0.101" textLength="14.80" lengthAdjust="spacingAndGlyphs" >Ag wire</text>
<text x="87.30" y="273.00" font-size="4.6" text-anchor="start" font-weight="normal" fill="#111" stroke="#111" stroke-width="0.101" textLength="45.20" lengthAdjust="spacingAndGlyphs" >P(VDF-TrFE) solution</text>
<text x="68.50" y="301.00" font-size="4.6" text-anchor="start" font-weight="normal" fill="#111" stroke="#111" stroke-width="0.101" textLength="29.20" lengthAdjust="spacingAndGlyphs" >Capillary tube</text>
<text x="188.00" y="316.60" font-size="4.6" text-anchor="start" font-weight="normal" fill="#111" stroke="#111" stroke-width="0.101" textLength="35.70" lengthAdjust="spacingAndGlyphs" >Drawing direction</text>
<line x1="95.60" y1="278.60" x2="89.60" y2="281.80" stroke="#111" stroke-width="0.5" />
<path d="M88.3,282.5 L90.6,280.6 L91.2,281.9Z" fill="#111" stroke="none" stroke-width="0.6" />
<line x1="82.00" y1="295.30" x2="79.90" y2="284.20" stroke="#111" stroke-width="0.5" />
<path d="M79.6,282.8 L79.2,285 L80.7,284.8Z" fill="#111" stroke="none" stroke-width="0.6" />
<rect x="138.90" y="236.30" width="92.80" height="55.90" fill="#eeeeee" stroke="none" stroke-width="0.6" rx="3.5"/>
<clipPath id="iclip"><rect x="138.9" y="236.3" width="92.8" height="55.9" rx="3.5"/></clipPath>
<g clip-path="url(#iclip)">
<path d="M211.00,267.60 L232.50,282.00 L232.50,293.00 L220.00,293.00 L202.60,281.60Z" fill="url(#gag)" stroke="none" stroke-width="0.6" />
<path d="M184.60,253.20 L213.60,268.20 L203.00,283.00 L179.40,272.00Z" fill="url(#gfilm)" stroke="none" stroke-width="0.6" />
<ellipse cx="208.4" cy="275.5" rx="3.4" ry="8.9" transform="rotate(-36 208.4 275.5)" fill="#f4405a" opacity="0.55"/>
<path d="M143.70,242.40 L184.80,252.00 L176.20,271.30 L141.20,253.40 L140.40,247.00Z" fill="url(#gbig)" stroke="none" stroke-width="0.6" />
<path d="M143.70,242.40 L184.80,252.00 L184.00,253.80 L142.80,244.20Z" fill="#6a9cff" stroke="none" stroke-width="0.6" opacity="0.85"/>
<ellipse cx="180.1" cy="261.9" rx="5.7" ry="10.4" transform="rotate(-22 180.1 261.9)" fill="#2440e4" stroke="#0a0a14" stroke-width="1.2"/>
<path d="M183.00,254.50 L188.00,256.60 L182.00,270.20 L177.80,268.20Z" fill="#3648e2" stroke="none" stroke-width="0.6" opacity="0.92"/>
</g>
<rect x="138.90" y="236.30" width="6.00" height="20.00" fill="#eeeeee" stroke="none" stroke-width="0.6" opacity="0.0"/>
<text x="218.60" y="283.60" font-size="4.4" text-anchor="middle" font-weight="normal" fill="#333" transform="rotate(34 218.60 283.60)" stroke="#333" stroke-width="0.097" textLength="13.50" lengthAdjust="spacingAndGlyphs" >Ag wire</text>
<text x="142.30" y="240.90" font-size="4.6" text-anchor="start" font-weight="normal" fill="#111" stroke="#111" stroke-width="0.101" textLength="27.50" lengthAdjust="spacingAndGlyphs" >Capillary tube</text>
<text x="218.00" y="250.00" font-size="4.6" text-anchor="middle" font-weight="bold" fill="#ee2222" stroke="#ee2222" stroke-width="0.184" textLength="17.90" lengthAdjust="spacingAndGlyphs" >Wet film</text>
<text x="218.00" y="255.30" font-size="4.6" text-anchor="middle" font-weight="bold" fill="#ee2222" stroke="#ee2222" stroke-width="0.184" textLength="17.90" lengthAdjust="spacingAndGlyphs" >Gelation</text>
<line x1="215.10" y1="259.70" x2="211.20" y2="265.90" stroke="#ee2222" stroke-width="0.6" />
<path d="M210.3,267.3 L210.7,264.6 L212.6,265.8Z" fill="#ee2222" stroke="none" stroke-width="0.6" />
<text x="158.60" y="271.80" font-size="4.6" text-anchor="middle" font-weight="bold" fill="#2a30e0" stroke="#2a30e0" stroke-width="0.184" textLength="17.10" lengthAdjust="spacingAndGlyphs" >Solution</text>
<text x="157.70" y="277.50" font-size="4.6" text-anchor="middle" font-weight="bold" fill="#2a30e0" stroke="#2a30e0" stroke-width="0.184" textLength="20.40" lengthAdjust="spacingAndGlyphs" >meniscus</text>
<line x1="168.40" y1="275.90" x2="180.00" y2="272.60" stroke="#2a30e0" stroke-width="0.6" />
<path d="M181.8,272.1 L179.4,271.8 L179.9,273.6Z" fill="#2a30e0" stroke="none" stroke-width="0.6" />
<text x="179.70" y="285.50" font-size="4.6" text-anchor="middle" font-weight="bold" fill="#18b4ea" stroke="#18b4ea" stroke-width="0.184" textLength="28.20" lengthAdjust="spacingAndGlyphs" >Radial solvent</text>
<text x="181.00" y="291.20" font-size="4.6" text-anchor="middle" font-weight="bold" fill="#18b4ea" stroke="#18b4ea" stroke-width="0.184" textLength="25.00" lengthAdjust="spacingAndGlyphs" >evaporation</text>
<line x1="194.10" y1="264.50" x2="191.30" y2="258.80" stroke="#18b4ea" stroke-width="0.6" />
<circle cx="191.30" cy="258.80" r="0.8" fill="#18b4ea" stroke="none" stroke-width="0.5" />
<line x1="200.80" y1="262.60" x2="202.70" y2="257.80" stroke="#18b4ea" stroke-width="0.6" />
<circle cx="202.70" cy="257.80" r="0.8" fill="#18b4ea" stroke="none" stroke-width="0.5" />
<line x1="204.60" y1="264.50" x2="207.50" y2="261.20" stroke="#18b4ea" stroke-width="0.6" />
<circle cx="207.50" cy="261.20" r="0.8" fill="#18b4ea" stroke="none" stroke-width="0.5" />
<line x1="188.40" y1="270.20" x2="185.60" y2="267.30" stroke="#18b4ea" stroke-width="0.6" />
<circle cx="185.60" cy="267.30" r="0.8" fill="#18b4ea" stroke="none" stroke-width="0.5" />
<line x1="191.30" y1="275.00" x2="188.40" y2="279.70" stroke="#18b4ea" stroke-width="0.6" />
<circle cx="188.40" cy="279.70" r="0.8" fill="#18b4ea" stroke="none" stroke-width="0.5" />
<defs><linearGradient id="gcurv" gradientUnits="userSpaceOnUse" x1="240" y1="240" x2="300" y2="300"><stop offset="0" stop-color="#5c2c82"/><stop offset="1" stop-color="#3f1860"/></linearGradient></defs>
<path d="M241.59,251.92 L241.19,252.64 L240.82,253.38 L240.47,254.15 L240.15,254.94 L239.85,255.74 L239.57,256.56 L239.32,257.40 L239.09,258.24 L238.88,259.09 L238.69,259.95 L238.53,260.81 L238.40,261.67 L238.29,262.52 L238.22,263.37 L238.17,264.21 L238.15,265.04 L238.17,265.86 L238.22,266.66 L238.30,267.46 L238.41,268.25 L238.55,269.02 L238.72,269.79 L238.92,270.55 L239.15,271.29 L239.40,272.03 L239.67,272.75 L239.97,273.46 L240.29,274.15 L240.64,274.84 L241.00,275.51 L241.39,276.17 L241.79,276.82 L242.22,277.47 L242.68,278.10 L243.16,278.74 L243.67,279.36 L244.20,279.97 L244.76,280.57 L245.35,281.16 L245.96,281.74 L246.60,282.30 L247.26,282.85 L247.95,283.38 L248.68,283.91 L249.46,284.42 L250.27,284.92 L251.10,285.38 L251.94,285.81 L252.78,286.22 L253.64,286.62 L254.50,287.00 L255.36,287.36 L256.22,287.72 L257.08,288.07 L257.93,288.41 L258.77,288.75 L259.60,289.08 L260.43,289.42 L261.29,289.77 L262.18,290.13 L263.07,290.48 L263.97,290.82 L264.88,291.16 L265.79,291.49 L266.70,291.83 L267.61,292.16 L268.53,292.48 L269.44,292.81 L270.36,293.13 L271.27,293.45 L272.18,293.77 L273.09,294.09 L273.99,294.41 L274.88,294.73 L275.76,295.03 L276.64,295.34 L277.51,295.64 L278.39,295.94 L279.28,296.24 L280.18,296.54 L281.10,296.85 L282.05,297.17 L283.02,297.49 L284.02,297.82 L285.07,298.17 L286.15,298.52 L287.28,298.89 L288.45,299.28 L289.67,299.67 L290.91,300.08 L292.19,300.49 L293.49,300.91 L294.81,301.33 L296.14,301.76 L297.49,302.19 L298.84,302.61 L300.19,303.04 L301.53,303.46 L302.87,303.87 L304.20,304.28 L305.56,304.69 L307.01,305.13 L308.51,305.57 L310.04,306.02 L311.60,306.48 L313.14,306.93 L314.66,307.37 L316.14,307.79 L317.54,308.20 L318.86,308.58 L320.07,308.93 L321.14,309.24 L322.07,309.50 L322.82,309.72 L325.38,300.68 L324.62,300.47 L323.68,300.21 L322.60,299.91 L321.39,299.58 L320.07,299.22 L318.66,298.84 L317.19,298.43 L315.67,298.01 L314.13,297.59 L312.58,297.16 L311.06,296.73 L309.57,296.31 L308.14,295.91 L306.80,295.52 L305.50,295.14 L304.17,294.75 L302.84,294.35 L301.50,293.95 L300.16,293.55 L298.82,293.15 L297.49,292.74 L296.18,292.34 L294.88,291.94 L293.61,291.55 L292.36,291.17 L291.15,290.79 L289.98,290.43 L288.85,290.08 L287.77,289.74 L286.73,289.41 L285.73,289.10 L284.77,288.80 L283.83,288.50 L282.92,288.21 L282.03,287.92 L281.15,287.64 L280.29,287.36 L279.42,287.07 L278.56,286.79 L277.69,286.50 L276.81,286.21 L275.91,285.91 L274.99,285.60 L274.08,285.29 L273.16,284.98 L272.25,284.68 L271.35,284.37 L270.44,284.07 L269.55,283.76 L268.67,283.45 L267.79,283.15 L266.92,282.84 L266.07,282.53 L265.23,282.21 L264.40,281.90 L263.57,281.58 L262.71,281.24 L261.85,280.91 L260.99,280.59 L260.15,280.26 L259.33,279.95 L258.53,279.63 L257.75,279.32 L257.00,279.00 L256.29,278.68 L255.61,278.37 L254.97,278.05 L254.37,277.73 L253.83,277.42 L253.32,277.09 L252.82,276.75 L252.34,276.39 L251.88,276.02 L251.43,275.64 L251.01,275.26 L250.61,274.87 L250.22,274.47 L249.86,274.06 L249.51,273.65 L249.17,273.23 L248.86,272.80 L248.56,272.37 L248.27,271.93 L248.00,271.49 L247.75,271.05 L247.51,270.60 L247.29,270.15 L247.09,269.70 L246.91,269.25 L246.74,268.79 L246.59,268.33 L246.46,267.86 L246.35,267.39 L246.25,266.92 L246.17,266.44 L246.11,265.95 L246.07,265.46 L246.05,264.96 L246.05,264.44 L246.07,263.89 L246.11,263.30 L246.17,262.69 L246.26,262.06 L246.36,261.41 L246.49,260.77 L246.63,260.12 L246.79,259.48 L246.96,258.86 L247.15,258.25 L247.35,257.67 L247.56,257.13 L247.78,256.62 L248.01,256.14 L248.25,255.67Z" fill="#2038ee" stroke="none" stroke-width="0.6" />
<path d="M247.25,242.80 L246.64,243.34 L246.07,243.87 L245.51,244.40 L244.96,244.94 L244.42,245.50 L243.89,246.07 L243.38,246.66 L242.89,247.27 L242.41,247.90 L241.95,248.55 L241.51,249.22 L241.09,249.92 L240.69,250.64 L240.32,251.38 L239.97,252.15 L239.65,252.94 L239.35,253.74 L239.07,254.56 L238.82,255.40 L238.59,256.24 L238.38,257.09 L238.19,257.95 L238.03,258.81 L237.90,259.67 L237.79,260.52 L237.72,261.37 L237.67,262.21 L237.65,263.04 L237.67,263.86 L237.72,264.66 L237.80,265.46 L237.91,266.25 L238.05,267.02 L238.22,267.79 L238.42,268.55 L238.65,269.29 L238.90,270.03 L239.17,270.75 L239.47,271.46 L239.79,272.15 L240.14,272.84 L240.50,273.51 L240.89,274.17 L241.29,274.82 L241.72,275.47 L242.18,276.10 L242.66,276.74 L243.17,277.36 L243.70,277.97 L244.26,278.57 L244.85,279.16 L245.46,279.74 L246.10,280.30 L246.76,280.85 L247.45,281.38 L248.18,281.91 L248.96,282.42 L249.77,282.92 L250.60,283.38 L251.44,283.81 L252.28,284.22 L253.14,284.62 L254.00,285.00 L254.86,285.36 L255.72,285.72 L256.58,286.07 L257.43,286.41 L258.27,286.75 L259.10,287.08 L259.93,287.42 L260.79,287.77 L261.68,288.13 L262.57,288.48 L263.47,288.82 L264.38,289.16 L265.29,289.49 L266.20,289.83 L267.11,290.16 L268.03,290.48 L268.94,290.81 L269.86,291.13 L270.77,291.45 L271.68,291.77 L272.59,292.09 L273.49,292.41 L274.38,292.73 L275.26,293.03 L276.14,293.34 L277.01,293.64 L277.89,293.94 L278.78,294.24 L279.68,294.54 L280.60,294.85 L281.55,295.17 L282.52,295.49 L283.52,295.82 L284.57,296.17 L285.65,296.52 L286.78,296.89 L287.95,297.28 L289.17,297.67 L290.41,298.08 L291.69,298.49 L292.99,298.91 L294.31,299.33 L295.64,299.76 L296.99,300.19 L298.34,300.61 L299.69,301.04 L301.03,301.46 L302.37,301.87 L303.70,302.28 L305.06,302.69 L306.51,303.13 L308.01,303.57 L309.54,304.02 L311.10,304.48 L312.64,304.93 L314.16,305.37 L315.64,305.79 L317.04,306.20 L318.36,306.58 L319.57,306.93 L320.64,307.24 L321.57,307.50 L322.32,307.72 L324.88,298.68 L324.12,298.47 L323.18,298.21 L322.10,297.91 L320.89,297.58 L319.57,297.22 L318.16,296.84 L316.69,296.43 L315.17,296.01 L313.63,295.59 L312.08,295.16 L310.56,294.73 L309.07,294.31 L307.64,293.91 L306.30,293.52 L305.00,293.14 L303.67,292.75 L302.34,292.35 L301.00,291.95 L299.66,291.55 L298.32,291.15 L296.99,290.74 L295.68,290.34 L294.38,289.94 L293.11,289.55 L291.86,289.17 L290.65,288.79 L289.48,288.43 L288.35,288.08 L287.27,287.74 L286.23,287.41 L285.23,287.10 L284.27,286.80 L283.33,286.50 L282.42,286.21 L281.53,285.92 L280.65,285.64 L279.79,285.36 L278.92,285.07 L278.06,284.79 L277.19,284.50 L276.31,284.21 L275.41,283.91 L274.49,283.60 L273.58,283.29 L272.66,282.98 L271.75,282.68 L270.85,282.37 L269.94,282.07 L269.05,281.76 L268.17,281.45 L267.29,281.15 L266.42,280.84 L265.57,280.53 L264.73,280.21 L263.90,279.90 L263.07,279.58 L262.21,279.24 L261.35,278.91 L260.49,278.59 L259.65,278.26 L258.83,277.95 L258.03,277.63 L257.25,277.32 L256.50,277.00 L255.79,276.68 L255.11,276.37 L254.47,276.05 L253.87,275.73 L253.33,275.42 L252.82,275.09 L252.32,274.75 L251.84,274.39 L251.38,274.02 L250.93,273.64 L250.51,273.26 L250.11,272.87 L249.72,272.47 L249.36,272.06 L249.01,271.65 L248.67,271.23 L248.36,270.80 L248.06,270.37 L247.77,269.93 L247.50,269.49 L247.25,269.05 L247.01,268.60 L246.79,268.15 L246.59,267.70 L246.41,267.25 L246.24,266.79 L246.09,266.33 L245.96,265.86 L245.85,265.39 L245.75,264.92 L245.67,264.44 L245.61,263.95 L245.57,263.46 L245.55,262.96 L245.55,262.44 L245.57,261.89 L245.61,261.30 L245.67,260.69 L245.76,260.06 L245.86,259.41 L245.99,258.77 L246.13,258.12 L246.29,257.48 L246.46,256.86 L246.65,256.25 L246.85,255.67 L247.06,255.13 L247.28,254.62 L247.51,254.14 L247.75,253.67 L248.01,253.22 L248.28,252.77 L248.58,252.33 L248.89,251.90 L249.23,251.46 L249.58,251.03 L249.96,250.60 L250.36,250.16 L250.78,249.72 L251.23,249.28 L251.69,248.83 L252.15,248.40Z" fill="url(#gcurv)" stroke="none" stroke-width="0.6" />
<path d="M251.76,247.95 L251.29,248.39 L250.81,248.84 L250.36,249.29 L249.93,249.74 L249.52,250.19 L249.13,250.63 L248.76,251.08 L248.41,251.53 L248.09,251.98 L247.78,252.43 L247.49,252.90 L247.22,253.37 L246.96,253.86 L246.72,254.36 L246.50,254.89 L246.28,255.46 L246.07,256.05 L245.87,256.68 L245.69,257.32 L245.52,257.97 L245.38,258.63 L245.25,259.30 L245.14,259.96 L245.05,260.61 L244.98,261.24 L244.94,261.85 L244.92,262.42 L244.92,262.97 L244.94,263.49 L244.98,264.01 L245.04,264.52 L245.12,265.02 L245.22,265.52 L245.34,266.02 L245.48,266.50 L245.63,266.99 L245.81,267.47 L246.00,267.94 L246.21,268.42 L246.43,268.89 L246.68,269.35 L246.94,269.81 L247.22,270.27 L247.51,270.73 L247.83,271.18 L248.15,271.62 L248.50,272.06 L248.86,272.49 L249.24,272.91 L249.64,273.32 L250.06,273.73 L250.50,274.13 L250.95,274.52 L251.43,274.91 L251.93,275.28 L252.45,275.64 L252.98,275.98 L253.54,276.31 L254.16,276.64 L254.81,276.96 L255.51,277.29 L256.23,277.61 L256.99,277.93 L257.78,278.25 L258.58,278.57 L259.41,278.89 L260.25,279.21 L261.10,279.54 L261.96,279.87 L262.82,280.20 L263.65,280.53 L264.48,280.85 L265.33,281.16 L266.19,281.48 L267.06,281.79 L267.93,282.10 L268.82,282.41 L269.72,282.71 L270.62,283.02 L271.53,283.33 L272.44,283.64 L273.35,283.94 L274.27,284.25 L275.18,284.56 L276.08,284.86 L276.97,285.16 L277.84,285.45 L278.70,285.74 L279.57,286.02 L280.43,286.30 L281.31,286.59 L282.20,286.88 L283.11,287.17 L284.05,287.47 L285.01,287.77 L286.01,288.09 L287.05,288.41 L288.13,288.75 L289.26,289.11 L290.44,289.47 L291.65,289.85 L292.89,290.23 L294.17,290.63 L295.46,291.03 L296.78,291.43 L298.11,291.84 L299.44,292.24 L300.79,292.65 L302.13,293.05 L303.46,293.45 L304.79,293.84 L306.09,294.22 L307.44,294.61 L308.86,295.02 L310.35,295.44 L311.88,295.87 L313.42,296.30 L314.97,296.73 L316.48,297.15 L317.96,297.55 L319.36,297.94 L320.68,298.30 L321.90,298.63 L322.98,298.93 L323.91,299.19 L324.68,299.40 L324.11,301.39 L323.35,301.18 L322.42,300.92 L321.34,300.62 L320.13,300.28 L318.81,299.91 L317.40,299.52 L315.93,299.11 L314.41,298.69 L312.87,298.25 L311.32,297.82 L309.79,297.38 L308.30,296.96 L306.87,296.54 L305.52,296.15 L304.21,295.76 L302.88,295.36 L301.54,294.96 L300.20,294.55 L298.86,294.14 L297.52,293.73 L296.19,293.32 L294.87,292.91 L293.57,292.51 L292.30,292.11 L291.06,291.72 L289.84,291.34 L288.67,290.97 L287.54,290.61 L286.46,290.27 L285.42,289.94 L284.42,289.62 L283.45,289.31 L282.51,289.01 L281.60,288.71 L280.71,288.42 L279.83,288.13 L278.96,287.84 L278.09,287.55 L277.22,287.26 L276.35,286.97 L275.46,286.67 L274.56,286.36 L273.65,286.05 L272.74,285.74 L271.82,285.43 L270.91,285.12 L270.00,284.81 L269.10,284.49 L268.20,284.18 L267.30,283.87 L266.42,283.55 L265.54,283.23 L264.67,282.91 L263.81,282.59 L262.97,282.26 L262.13,281.93 L261.28,281.60 L260.43,281.26 L259.58,280.93 L258.73,280.61 L257.90,280.28 L257.08,279.95 L256.28,279.62 L255.49,279.29 L254.74,278.95 L254.01,278.60 L253.31,278.25 L252.64,277.89 L252.02,277.52 L251.43,277.14 L250.86,276.74 L250.32,276.33 L249.79,275.90 L249.29,275.47 L248.81,275.03 L248.35,274.58 L247.92,274.12 L247.50,273.65 L247.10,273.18 L246.73,272.69 L246.37,272.20 L246.03,271.71 L245.70,271.20 L245.40,270.70 L245.11,270.18 L244.85,269.67 L244.60,269.14 L244.37,268.62 L244.15,268.08 L243.96,267.54 L243.79,266.99 L243.64,266.44 L243.51,265.88 L243.40,265.32 L243.31,264.74 L243.24,264.16 L243.20,263.58 L243.18,262.98 L243.18,262.37 L243.21,261.73 L243.26,261.07 L243.34,260.38 L243.44,259.68 L243.56,258.98 L243.70,258.27 L243.87,257.56 L244.05,256.86 L244.25,256.17 L244.46,255.50 L244.69,254.85 L244.94,254.23 L245.19,253.65 L245.46,253.09 L245.75,252.55 L246.06,252.02 L246.38,251.51 L246.73,251.00 L247.09,250.51 L247.48,250.02 L247.88,249.54 L248.30,249.07 L248.74,248.59 L249.20,248.12 L249.68,247.65 L250.18,247.18 L250.68,246.72Z" fill="#8a5aae" stroke="none" stroke-width="0.6" opacity="0.55"/>
<path d="M255.71,237.26 L255.07,237.63 L254.35,238.04 L253.59,238.49 L252.79,238.97 L251.97,239.47 L251.14,239.99 L250.31,240.53 L249.49,241.08 L248.70,241.65 L247.94,242.23 L247.25,242.80 L252.15,248.40 L252.62,247.98 L253.16,247.54 L253.78,247.08 L254.45,246.59 L255.17,246.09 L255.90,245.60 L256.65,245.11 L257.38,244.63 L258.10,244.17 L258.78,243.74 L259.41,243.34Z" fill="#5aa2ff" stroke="none" stroke-width="0.6" />
<path d="M259.04,242.73 L258.41,243.13 L257.72,243.56 L257.00,244.02 L256.26,244.49 L255.51,244.99 L254.76,245.48 L254.04,245.98 L253.35,246.48 L252.72,246.96 L252.16,247.41 L251.66,247.84 L250.19,246.16 L250.75,245.68 L251.38,245.19 L252.06,244.68 L252.79,244.17 L253.55,243.65 L254.33,243.15 L255.10,242.65 L255.87,242.17 L256.60,241.72 L257.29,241.30 L257.93,240.90Z" fill="#a4d0ff" stroke="none" stroke-width="0.6" />
<circle cx="258.13" cy="239.95" r="3.5" fill="#6eb0ff" stroke="none" stroke-width="0.5" />
<path d="M324.60,297.50 L350.00,302.30 L348.00,314.20 L321.60,308.60Z" fill="#2a74f2" stroke="none" stroke-width="0.6" />
<path d="M324.60,297.50 L350.00,302.30 L349.40,305.60 L324.00,300.80Z" fill="#5a9eff" stroke="none" stroke-width="0.6" />
<path d="M322.20,306.60 L348.40,312.20 L348.00,314.20 L321.60,308.60Z" fill="#2048e0" stroke="none" stroke-width="0.6" />
<ellipse cx="323.6" cy="303.1" rx="1.6" ry="5.6" transform="rotate(-12 323.6 303.1)" fill="#4a2068"/>
<path d="M350.00,303.20 L372.70,306.30 L373.60,315.00 L349.00,314.20Z" fill="#cbcbcb" stroke="none" stroke-width="0.6" />
<path d="M350.00,303.20 L372.70,306.30 L372.90,308.60 L349.80,305.80Z" fill="#e6e6e6" stroke="none" stroke-width="0.6" />
<ellipse cx="349.4" cy="308.4" rx="1.6" ry="6" transform="rotate(-8 349.4 308.4)" fill="#2a6cf0"/>
<path d="M241.49,248.24 L241.04,248.93 L240.61,249.65 L240.20,250.39 L239.82,251.15 L239.47,251.93 L239.14,252.74 L238.83,253.56 L247.17,256.43 L247.37,255.87 L247.57,255.34 L247.78,254.85 L247.99,254.39 L248.23,253.94 L248.48,253.51 L248.74,253.08Z" fill="#c48a1c" stroke="none" stroke-width="0.6" />
<path d="M247.65,252.35 L247.36,252.82 L247.08,253.30 L246.82,253.79 L246.58,254.30 L246.35,254.83 L246.13,255.40 L245.92,256.00 L244.02,255.35 L244.26,254.69 L244.51,254.06 L244.77,253.45 L245.05,252.88 L245.35,252.32 L245.67,251.78 L246.00,251.25Z" fill="#e8b856" stroke="none" stroke-width="0.6" />
<path d="M242.84,249.14 L242.42,249.78 L242.02,250.44 L241.65,251.13 L241.29,251.83 L240.97,252.56 L240.66,253.32 L240.37,254.09 L239.35,253.74 L239.65,252.94 L239.97,252.15 L240.32,251.38 L240.69,250.64 L241.09,249.92 L241.51,249.22 L241.95,248.55Z" fill="#9a6a10" stroke="none" stroke-width="0.6" opacity="0.7"/>
<path d="M238.29,255.25 L238.05,256.11 L237.84,256.98 L237.65,257.85 L237.49,258.72 L237.35,259.59 L237.25,260.46 L246.15,261.35 L246.22,260.76 L246.30,260.14 L246.40,259.52 L246.52,258.89 L246.66,258.26 L246.82,257.63Z" fill="#c48a1c" stroke="none" stroke-width="0.6" />
<path d="M245.54,257.28 L245.37,257.93 L245.22,258.60 L245.09,259.27 L244.98,259.93 L244.89,260.58 L244.83,261.22 L242.79,261.02 L242.87,260.32 L242.98,259.61 L243.10,258.89 L243.25,258.17 L243.41,257.45 L243.60,256.73Z" fill="#e8b856" stroke="none" stroke-width="0.6" />
<path d="M239.86,255.69 L239.64,256.51 L239.44,257.33 L239.27,258.16 L239.11,258.98 L238.99,259.81 L238.89,260.63 L237.79,260.52 L237.90,259.67 L238.03,258.81 L238.19,257.95 L238.38,257.09 L238.59,256.24 L238.82,255.40Z" fill="#9a6a10" stroke="none" stroke-width="0.6" opacity="0.7"/>
<path d="M237.89,268.70 L238.12,269.47 L238.38,270.22 L238.66,270.96 L238.97,271.68 L239.30,272.40 L239.65,273.10 L240.02,273.78 L240.42,274.46 L240.83,275.12 L248.51,270.07 L248.24,269.65 L247.98,269.22 L247.73,268.79 L247.50,268.36 L247.29,267.93 L247.10,267.49 L246.92,267.06 L246.76,266.62 L246.62,266.17Z" fill="#c48a1c" stroke="none" stroke-width="0.6" />
<path d="M245.32,266.55 L245.48,267.04 L245.66,267.52 L245.85,268.01 L246.06,268.48 L246.29,268.96 L246.54,269.43 L246.80,269.89 L247.08,270.36 L247.38,270.82 L245.62,271.97 L245.29,271.46 L244.98,270.94 L244.69,270.41 L244.41,269.88 L244.16,269.34 L243.92,268.80 L243.70,268.25 L243.51,267.69 L243.33,267.13Z" fill="#e8b856" stroke="none" stroke-width="0.6" />
<path d="M239.50,268.24 L239.71,268.94 L239.95,269.64 L240.21,270.32 L240.50,270.99 L240.80,271.66 L241.13,272.31 L241.48,272.95 L241.85,273.57 L242.24,274.20 L241.29,274.82 L240.89,274.17 L240.50,273.51 L240.14,272.84 L239.79,272.15 L239.47,271.46 L239.17,270.75 L238.90,270.03 L238.65,269.29 L238.42,268.55Z" fill="#9a6a10" stroke="none" stroke-width="0.6" opacity="0.7"/>
<path d="M244.47,279.56 L245.09,280.14 L245.74,280.72 L246.42,281.28 L247.13,281.82 L247.87,282.36 L248.67,282.89 L249.50,283.39 L250.34,283.86 L254.72,275.56 L254.14,275.25 L253.62,274.95 L253.13,274.64 L252.65,274.31 L252.18,273.96 L251.73,273.60 L251.30,273.23 L250.89,272.86Z" fill="#c48a1c" stroke="none" stroke-width="0.6" />
<path d="M249.94,273.85 L250.39,274.25 L250.85,274.65 L251.33,275.03 L251.84,275.41 L252.36,275.77 L252.89,276.12 L253.46,276.45 L254.08,276.78 L253.07,278.69 L252.40,278.32 L251.75,277.94 L251.15,277.55 L250.57,277.14 L250.01,276.71 L249.47,276.28 L248.96,275.84 L248.47,275.38Z" fill="#e8b856" stroke="none" stroke-width="0.6" />
<path d="M245.64,278.33 L246.22,278.88 L246.83,279.42 L247.47,279.94 L248.13,280.45 L248.83,280.95 L249.57,281.44 L250.35,281.91 L251.14,282.35 L250.60,283.38 L249.77,282.92 L248.96,282.42 L248.18,281.91 L247.45,281.38 L246.76,280.85 L246.10,280.30 L245.46,279.74 L244.85,279.16Z" fill="#9a6a10" stroke="none" stroke-width="0.6" opacity="0.7"/>
<path d="M267.85,291.00 L268.77,291.33 L269.68,291.65 L270.59,291.97 L271.50,292.29 L272.41,292.61 L273.31,292.93 L274.21,293.25 L275.09,293.55 L278.24,284.27 L277.37,283.98 L276.49,283.69 L275.59,283.39 L274.67,283.08 L273.76,282.77 L272.84,282.46 L271.93,282.16 L271.03,281.85Z" fill="#c48a1c" stroke="none" stroke-width="0.6" />
<path d="M270.56,283.18 L271.47,283.49 L272.38,283.80 L273.30,284.11 L274.21,284.42 L275.13,284.72 L276.03,285.03 L276.91,285.32 L277.78,285.61 L277.05,287.76 L276.18,287.46 L275.30,287.16 L274.39,286.85 L273.48,286.54 L272.57,286.23 L271.65,285.92 L270.74,285.61 L269.83,285.29Z" fill="#e8b856" stroke="none" stroke-width="0.6" />
<path d="M268.42,289.35 L269.34,289.67 L270.25,289.99 L271.16,290.31 L272.08,290.63 L272.98,290.95 L273.89,291.26 L274.78,291.57 L275.66,291.88 L275.26,293.03 L274.38,292.73 L273.49,292.41 L272.59,292.09 L271.68,291.77 L270.77,291.45 L269.86,291.13 L268.94,290.81 L268.03,290.48Z" fill="#9a6a10" stroke="none" stroke-width="0.6" opacity="0.7"/>
<path d="M281.38,295.69 L282.35,296.02 L283.35,296.35 L284.40,296.69 L285.48,297.05 L286.61,297.42 L287.79,297.80 L289.00,298.20 L292.03,288.64 L290.82,288.27 L289.65,287.90 L288.52,287.55 L287.43,287.22 L286.40,286.89 L285.40,286.58 L284.44,286.27Z" fill="#c48a1c" stroke="none" stroke-width="0.6" />
<path d="M284.00,287.63 L284.96,287.94 L285.96,288.26 L287.00,288.58 L288.08,288.92 L289.21,289.27 L290.38,289.64 L291.59,290.02 L290.89,292.23 L289.68,291.85 L288.51,291.48 L287.38,291.12 L286.29,290.77 L285.26,290.44 L284.25,290.12 L283.29,289.81Z" fill="#e8b856" stroke="none" stroke-width="0.6" />
<path d="M281.93,294.00 L282.90,294.32 L283.90,294.65 L284.94,294.99 L286.03,295.34 L287.16,295.71 L288.33,296.09 L289.54,296.48 L289.17,297.67 L287.95,297.28 L286.78,296.89 L285.65,296.52 L284.57,296.17 L283.52,295.82 L282.52,295.49 L281.55,295.17Z" fill="#9a6a10" stroke="none" stroke-width="0.6" opacity="0.7"/>
<path d="M289.33,251.14 A24.2,24.2 0 0 1 331.00,249.32" fill="none" stroke="#f2b410" stroke-width="4.0" />
<path d="M291.19,257.27 A20.2,20.2 0 0 1 330.21,257.27" fill="none" stroke="#8e24b4" stroke-width="4.2" />
<circle cx="310.70" cy="262.50" r="18" fill="#1a7ac8" stroke="none" stroke-width="0.5" />
<circle cx="310.70" cy="262.50" r="13" fill="#dedede" stroke="none" stroke-width="0.5" />
<text x="310.70" y="260.00" font-size="4.7" text-anchor="middle" font-weight="normal" fill="#222" stroke="#222" stroke-width="0.103" textLength="14.50" lengthAdjust="spacingAndGlyphs" >Ag wire</text>
<text x="310.70" y="266.40" font-size="4.7" text-anchor="middle" font-weight="normal" fill="#222" stroke="#222" stroke-width="0.103" textLength="12.50" lengthAdjust="spacingAndGlyphs" >(Gate)</text>
<line x1="326.25" y1="242.00" x2="332.00" y2="239.20" stroke="#111" stroke-width="0.6" />
<line x1="332.00" y1="251.00" x2="336.25" y2="249.00" stroke="#111" stroke-width="0.6" />
<line x1="329.00" y1="263.00" x2="338.30" y2="260.40" stroke="#111" stroke-width="0.6" />
<text x="333.40" y="239.80" font-size="5.0" text-anchor="start" font-weight="normal" fill="#111" stroke="#111" stroke-width="0.110" textLength="39.50" lengthAdjust="spacingAndGlyphs" >Au (Source/Drain)</text>
<text x="337.50" y="250.30" font-size="5.0" text-anchor="start" font-weight="normal" fill="#111" stroke="#111" stroke-width="0.110" textLength="23.00" lengthAdjust="spacingAndGlyphs" >Pentacene</text>
<text x="342.60" y="260.80" font-size="5.0" text-anchor="start" font-weight="normal" fill="#111" stroke="#111" stroke-width="0.110" textLength="29.20" lengthAdjust="spacingAndGlyphs" >P(VDF-TrFE)</text>
<path d="M333.8,279.5 L340,275.7 L336.6,269.4 M340,275.7 L343.9,269.4 M340,275.7 L347.6,280.5 L343.7,286.4 M347.6,280.5 L351.5,286.4 M347.6,280.5 L355.7,277.3 M337.6,273.8 L336.7,273.8 L336.7,280.5 L337.6,280.5 M351,274.3 L351.9,274.3 L351.9,281.4 L351,281.4 M356.2,277.1 L360,274.3 L356.6,267.5 M360,274.3 L363.9,267.5 M360,274.3 L367.6,278.6 L363.7,284.6 M367.6,278.6 L371.5,284.6 M367.6,278.6 L374.3,274.3 M356.6,273.4 L355.7,273.4 L355.7,280.2 L356.6,280.2 M370.1,272.9 L371,272.9 L371,280 L370.1,280" fill="none" stroke="#222" stroke-width="0.6" />
<text x="336.10" y="269.00" font-size="2.6" text-anchor="middle" font-weight="bold" fill="#222" stroke="#222" stroke-width="0.104" >H</text>
<text x="344.40" y="269.00" font-size="2.6" text-anchor="middle" font-weight="bold" fill="#222" stroke="#222" stroke-width="0.104" >H</text>
<text x="343.20" y="288.40" font-size="2.6" text-anchor="middle" font-weight="bold" fill="#222" stroke="#222" stroke-width="0.104" >F</text>
<text x="352.00" y="288.40" font-size="2.6" text-anchor="middle" font-weight="bold" fill="#222" stroke="#222" stroke-width="0.104" >F</text>
<text x="356.10" y="267.00" font-size="2.6" text-anchor="middle" font-weight="bold" fill="#222" stroke="#222" stroke-width="0.104" >F</text>
<text x="364.40" y="267.00" font-size="2.6" text-anchor="middle" font-weight="bold" fill="#222" stroke="#222" stroke-width="0.104" >F</text>
<text x="363.20" y="286.60" font-size="2.6" text-anchor="middle" font-weight="bold" fill="#222" stroke="#222" stroke-width="0.104" >F</text>
<text x="372.00" y="286.60" font-size="2.6" text-anchor="middle" font-weight="bold" fill="#222" stroke="#222" stroke-width="0.104" >H</text>
<text x="353.40" y="283.20" font-size="2.6" text-anchor="middle" font-weight="bold" fill="#222" stroke="#222" stroke-width="0.104" >x</text>
<text x="372.60" y="282.00" font-size="2.6" text-anchor="middle" font-weight="bold" fill="#222" stroke="#222" stroke-width="0.104" >y</text>
<rect x="408.40" y="298.20" width="23.60" height="15.20" fill="#8b8b78" stroke="none" stroke-width="0.6" />
<rect x="408.40" y="298.20" width="23.60" height="15.20" fill="#000" stroke="none" stroke-width="0.6" filter="url(#noise)" opacity="0.35"/>
<line x1="408.40" y1="305.70" x2="432.00" y2="305.30" stroke="#9ab4d8" stroke-width="0.9" />
<line x1="414.50" y1="305.80" x2="426.00" y2="305.50" stroke="#e8a820" stroke-width="1.2" />
<line x1="418.50" y1="305.70" x2="421.50" y2="305.60" stroke="#443" stroke-width="1.2" />
<rect x="414.00" y="307.40" width="11.00" height="2.60" fill="#6e6e58" stroke="none" stroke-width="0.6" opacity="0.7"/>
<path d="M405.2,272 C410,273.5 415,277 418.5,281.5 C421,285 422.8,290 423.6,296.4 C424.4,290 426,283 430.7,279 C435,276 441,275.8 445,277.5 C448,279 450,280.6 452,283" fill="none" stroke="#9a9a9a" stroke-width="0.45" />
<path d="M430,283 C434,288 437,296 438.75,314.6 C440.5,298 443,290 448,285.6 C452,283 456,282 459,280.6" fill="none" stroke="#9a9a9a" stroke-width="0.45" />
<path d="M405.20,252.90 C406.00,252.78 407.87,252.35 410.00,252.20 C412.13,252.05 415.50,251.97 418.00,252.00 C420.50,252.03 422.88,252.20 425.00,252.40 C427.12,252.60 428.95,252.83 430.70,253.20 C432.45,253.57 434.02,254.00 435.50,254.60 C436.98,255.20 438.27,255.82 439.60,256.80 C440.93,257.78 442.30,259.02 443.50,260.50 C444.70,261.98 445.88,263.87 446.80,265.70 C447.72,267.53 448.37,269.62 449.00,271.50 C449.63,273.38 450.10,275.38 450.60,277.00 C451.10,278.62 451.53,280.07 452.00,281.20 C452.47,282.33 452.90,283.13 453.40,283.80 C453.90,284.47 454.43,284.97 455.00,285.20 C455.57,285.43 456.30,285.47 456.80,285.20 C457.30,284.93 457.63,284.20 458.00,283.60 C458.37,283.00 458.83,281.93 459.00,281.60" fill="none" stroke="#0c0c0c" stroke-width="1.9" stroke-linejoin="round"/>
<path d="M405.20,252.90 C405.75,253.28 407.22,254.10 408.50,255.20 C409.78,256.30 411.57,258.00 412.90,259.50 C414.23,261.00 415.32,262.57 416.50,264.20 C417.68,265.83 418.92,267.63 420.00,269.30 C421.08,270.97 422.07,272.68 423.00,274.20 C423.93,275.72 424.77,277.10 425.60,278.40 C426.43,279.70 427.15,280.87 428.00,282.00 C428.85,283.13 429.70,284.33 430.70,285.20 C431.70,286.07 432.80,286.73 434.00,287.20 C435.20,287.67 436.40,287.83 437.90,288.00 C439.40,288.17 441.22,288.23 443.00,288.20 C444.78,288.17 446.93,288.03 448.60,287.80 C450.27,287.57 451.63,287.23 453.00,286.80 C454.37,286.37 456.17,285.47 456.80,285.20" fill="none" stroke="#0c0c0c" stroke-width="1.9" stroke-linejoin="round"/>
<line x1="420.20" y1="274.80" x2="417.00" y2="268.20" stroke="#f03030" stroke-width="0.7" />
<path d="M416.2,266.6 L416.4,269.6 L418.4,268.6Z" fill="#f03030" stroke="none" stroke-width="0.6" />
<line x1="449.40" y1="261.60" x2="452.40" y2="267.80" stroke="#f03030" stroke-width="0.7" />
<path d="M453.2,269.4 L453,266.4 L451,267.4Z" fill="#f03030" stroke="none" stroke-width="0.6" />
<rect x="405.20" y="236.80" width="53.80" height="77.80" fill="none" stroke="#222" stroke-width="0.55" />
<text x="404.20" y="238.90" font-size="4.0" text-anchor="end" font-weight="normal" fill="#111" stroke="#111" stroke-width="0.088" >10<tspan dy="-1.6" font-size="2.6">-7</tspan></text>
<line x1="405.20" y1="237.50" x2="406.50" y2="237.50" stroke="#111" stroke-width="0.4" />
<text x="404.20" y="251.30" font-size="4.0" text-anchor="end" font-weight="normal" fill="#111" stroke="#111" stroke-width="0.088" >10<tspan dy="-1.6" font-size="2.6">-8</tspan></text>
<line x1="405.20" y1="249.90" x2="406.50" y2="249.90" stroke="#111" stroke-width="0.4" />
<text x="404.20" y="263.70" font-size="4.0" text-anchor="end" font-weight="normal" fill="#111" stroke="#111" stroke-width="0.088" >10<tspan dy="-1.6" font-size="2.6">-9</tspan></text>
<line x1="405.20" y1="262.30" x2="406.50" y2="262.30" stroke="#111" stroke-width="0.4" />
<text x="404.20" y="276.10" font-size="4.0" text-anchor="end" font-weight="normal" fill="#111" stroke="#111" stroke-width="0.088" >10<tspan dy="-1.6" font-size="2.6">-10</tspan></text>
<line x1="405.20" y1="274.70" x2="406.50" y2="274.70" stroke="#111" stroke-width="0.4" />
<text x="404.20" y="288.50" font-size="4.0" text-anchor="end" font-weight="normal" fill="#111" stroke="#111" stroke-width="0.088" >10<tspan dy="-1.6" font-size="2.6">-11</tspan></text>
<line x1="405.20" y1="287.10" x2="406.50" y2="287.10" stroke="#111" stroke-width="0.4" />
<text x="404.20" y="300.90" font-size="4.0" text-anchor="end" font-weight="normal" fill="#111" stroke="#111" stroke-width="0.088" >10<tspan dy="-1.6" font-size="2.6">-12</tspan></text>
<line x1="405.20" y1="299.50" x2="406.50" y2="299.50" stroke="#111" stroke-width="0.4" />
<text x="404.20" y="313.30" font-size="4.0" text-anchor="end" font-weight="normal" fill="#111" stroke="#111" stroke-width="0.088" >10<tspan dy="-1.6" font-size="2.6">-13</tspan></text>
<line x1="405.20" y1="311.90" x2="406.50" y2="311.90" stroke="#111" stroke-width="0.4" />
<text x="404.60" y="320.00" font-size="4.0" text-anchor="middle" font-weight="normal" fill="#111" stroke="#111" stroke-width="0.088" >-5</text>
<line x1="405.20" y1="314.60" x2="405.20" y2="313.30" stroke="#111" stroke-width="0.4" />
<text x="409.98" y="320.00" font-size="4.0" text-anchor="middle" font-weight="normal" fill="#111" stroke="#111" stroke-width="0.088" >-4</text>
<line x1="410.58" y1="314.60" x2="410.58" y2="313.30" stroke="#111" stroke-width="0.4" />
<text x="415.36" y="320.00" font-size="4.0" text-anchor="middle" font-weight="normal" fill="#111" stroke="#111" stroke-width="0.088" >-3</text>
<line x1="415.96" y1="314.60" x2="415.96" y2="313.30" stroke="#111" stroke-width="0.4" />
<text x="420.74" y="320.00" font-size="4.0" text-anchor="middle" font-weight="normal" fill="#111" stroke="#111" stroke-width="0.088" >-2</text>
<line x1="421.34" y1="314.60" x2="421.34" y2="313.30" stroke="#111" stroke-width="0.4" />
<text x="426.12" y="320.00" font-size="4.0" text-anchor="middle" font-weight="normal" fill="#111" stroke="#111" stroke-width="0.088" >-1</text>
<line x1="426.72" y1="314.60" x2="426.72" y2="313.30" stroke="#111" stroke-width="0.4" />
<text x="432.10" y="320.00" font-size="4.0" text-anchor="middle" font-weight="normal" fill="#111" stroke="#111" stroke-width="0.088" >0</text>
<line x1="432.10" y1="314.60" x2="432.10" y2="313.30" stroke="#111" stroke-width="0.4" />
<text x="437.48" y="320.00" font-size="4.0" text-anchor="middle" font-weight="normal" fill="#111" stroke="#111" stroke-width="0.088" >1</text>
<line x1="437.48" y1="314.60" x2="437.48" y2="313.30" stroke="#111" stroke-width="0.4" />
<text x="442.86" y="320.00" font-size="4.0" text-anchor="middle" font-weight="normal" fill="#111" stroke="#111" stroke-width="0.088" >2</text>
<line x1="442.86" y1="314.60" x2="442.86" y2="313.30" stroke="#111" stroke-width="0.4" />
<text x="448.24" y="320.00" font-size="4.0" text-anchor="middle" font-weight="normal" fill="#111" stroke="#111" stroke-width="0.088" >3</text>
<line x1="448.24" y1="314.60" x2="448.24" y2="313.30" stroke="#111" stroke-width="0.4" />
<text x="453.62" y="320.00" font-size="4.0" text-anchor="middle" font-weight="normal" fill="#111" stroke="#111" stroke-width="0.088" >4</text>
<line x1="453.62" y1="314.60" x2="453.62" y2="313.30" stroke="#111" stroke-width="0.4" />
<text x="459.00" y="320.00" font-size="4.0" text-anchor="middle" font-weight="normal" fill="#111" stroke="#111" stroke-width="0.088" >5</text>
<line x1="459.00" y1="314.60" x2="459.00" y2="313.30" stroke="#111" stroke-width="0.4" />
<text x="432.50" y="327.80" font-size="5.0" text-anchor="middle" font-weight="normal" fill="#111" stroke="#111" stroke-width="0.110" >V<tspan dy="1" font-size="3">G</tspan><tspan dy="-1"> (V)</tspan></text>
<text x="389.40" y="275.60" font-size="4.4" text-anchor="middle" font-weight="normal" fill="#111" transform="rotate(-90 389.40 275.60)" stroke="#111" stroke-width="0.097" >|I<tspan dy="1" font-size="2.6">D</tspan><tspan dy="-1">| (A)</tspan></text>
<text x="407.00" y="243.40" font-size="3.6" text-anchor="start" font-weight="normal" fill="#111" stroke="#111" stroke-width="0.079" >V<tspan dy="0.8" font-size="2.4">D</tspan><tspan dy="-0.8"> = -5 V</tspan></text>
<line x1="444.60" y1="242.50" x2="451.20" y2="242.50" stroke="#111" stroke-width="0.8" />
<circle cx="447.90" cy="242.50" r="0.8" fill="#111" stroke="none" stroke-width="0.5" />
<line x1="444.60" y1="247.90" x2="451.20" y2="247.90" stroke="#9a9a9a" stroke-width="0.5" />
<text x="453.00" y="243.80" font-size="3.8" text-anchor="start" font-weight="normal" fill="#111" stroke="#111" stroke-width="0.084" >I<tspan dy="0.8" font-size="2.4">D</tspan></text>
<text x="453.00" y="249.20" font-size="3.8" text-anchor="start" font-weight="normal" fill="#111" stroke="#111" stroke-width="0.084" >I<tspan dy="0.8" font-size="2.4">G</tspan></text>
<g transform="translate(491.50,280.40) rotate(33.06)"><path d="M0,-2.30 L27.68,-2.30 L27.68,2.30 L0,2.30Z" fill="#d9d9d9" /></g>
<path d="M491.5,278.2 L514.7,293.3 M489.5,282.8 L512.7,297.8" fill="none" stroke="#888" stroke-width="0.35" />
<ellipse cx="514.7" cy="295.5" rx="1.3" ry="2.4" transform="rotate(-55 514.7 295.5)" fill="#f2f2f2" stroke="#777" stroke-width="0.35"/>
<line x1="491.50" y1="298.20" x2="503.00" y2="288.80" stroke="#20248a" stroke-width="1.0" />
<line x1="491.90" y1="298.50" x2="503.40" y2="289.10" stroke="#e08a20" stroke-width="0.4" />
<line x1="503.00" y1="286.40" x2="515.60" y2="278.60" stroke="#2a6ae0" stroke-width="0.9" />
<circle cx="500.20" cy="287.40" r="3.4" fill="none" stroke="#1a1c70" stroke-width="1.2" />
<circle cx="500.20" cy="287.40" r="3.4" fill="none" stroke="#e08a20" stroke-width="0.4" stroke-dasharray="2 3"/>
<circle cx="500.40" cy="287.20" r="1.7" fill="none" stroke="#2a4ab0" stroke-width="0.5" />
<text x="510.60" y="285.60" font-size="2.3" text-anchor="start" font-weight="normal" fill="#333" stroke="#333" stroke-width="0.051" >Bending</text>
<text x="510.60" y="288.00" font-size="2.3" text-anchor="start" font-weight="normal" fill="#333" stroke="#333" stroke-width="0.051" >Diameter (D)</text>
<path d="M483.5,279 L491,283 M483.5,281 L490.5,285" fill="none" stroke="#bbb" stroke-width="0.3" />
<path d="M475.4,267.3 L478.2,267.3 L478.6,311.8 L479.3,308.6" fill="none" stroke="#999" stroke-width="0.4" />
<path d="M479.30,308.60 L489.30,310.40 L499.10,303.90 L508.00,306.80 L514.10,304.50 L523.60,301.25" fill="none" stroke="#808080" stroke-width="0.55" />
<path d="M479.30,248.00 L489.30,249.40 L499.10,248.00 L508.00,253.00 L514.10,255.30 L522.70,253.90" fill="none" stroke="#ee2a2a" stroke-width="0.5" />
<rect x="478.35" y="247.05" width="1.90" height="1.90" fill="#ee2a2a" stroke="none" stroke-width="0.6" />
<rect x="488.35" y="248.45" width="1.90" height="1.90" fill="#ee2a2a" stroke="none" stroke-width="0.6" />
<rect x="498.15" y="247.05" width="1.90" height="1.90" fill="#ee2a2a" stroke="none" stroke-width="0.6" />
<rect x="507.05" y="252.05" width="1.90" height="1.90" fill="#ee2a2a" stroke="none" stroke-width="0.6" />
<rect x="513.15" y="254.35" width="1.90" height="1.90" fill="#ee2a2a" stroke="none" stroke-width="0.6" />
<rect x="521.75" y="252.95" width="1.90" height="1.90" fill="#ee2a2a" stroke="none" stroke-width="0.6" />
<path d="M479.30,271.75 L489.30,273.90 L499.10,267.60 L508.00,272.30 L514.10,271.40 L522.70,268.50" fill="none" stroke="#222" stroke-width="0.5" />
<rect x="478.35" y="270.80" width="1.90" height="1.90" fill="#111" stroke="none" stroke-width="0.6" />
<rect x="488.35" y="272.95" width="1.90" height="1.90" fill="#111" stroke="none" stroke-width="0.6" />
<rect x="498.15" y="266.65" width="1.90" height="1.90" fill="#111" stroke="none" stroke-width="0.6" />
<rect x="507.05" y="271.35" width="1.90" height="1.90" fill="#111" stroke="none" stroke-width="0.6" />
<rect x="513.15" y="270.45" width="1.90" height="1.90" fill="#111" stroke="none" stroke-width="0.6" />
<rect x="521.75" y="267.55" width="1.90" height="1.90" fill="#111" stroke="none" stroke-width="0.6" />
<ellipse cx="514.7" cy="253.9" rx="3.2" ry="5.4" fill="none" stroke="#f06a6a" stroke-width="0.4" stroke-dasharray="0.7 0.6"/>
<path d="M514.7,248.5 L521.8,247.6" fill="none" stroke="#f06a6a" stroke-width="0.4" stroke-dasharray="0.7 0.6"/>
<path d="M523,247.5 L521.2,246.8 L521.3,248.3Z" fill="#f06a6a" stroke="none" stroke-width="0.6" />
<path d="M474.5,236.6 L474.5,315.2 L528.4,315.2" fill="none" stroke="#222" stroke-width="0.55" />
<line x1="474.50" y1="236.60" x2="528.40" y2="236.60" stroke="#222" stroke-width="0.55" />
<line x1="528.40" y1="236.60" x2="528.40" y2="315.20" stroke="#ee2a2a" stroke-width="0.5" />
<text x="472.60" y="247.00" font-size="4.2" text-anchor="end" font-weight="normal" fill="#111" stroke="#111" stroke-width="0.092" >8</text>
<line x1="474.50" y1="245.50" x2="475.80" y2="245.50" stroke="#111" stroke-width="0.4" />
<text x="472.60" y="262.45" font-size="4.2" text-anchor="end" font-weight="normal" fill="#111" stroke="#111" stroke-width="0.092" >6</text>
<line x1="474.50" y1="260.95" x2="475.80" y2="260.95" stroke="#111" stroke-width="0.4" />
<text x="472.60" y="277.90" font-size="4.2" text-anchor="end" font-weight="normal" fill="#111" stroke="#111" stroke-width="0.092" >4</text>
<line x1="474.50" y1="276.40" x2="475.80" y2="276.40" stroke="#111" stroke-width="0.4" />
<text x="472.60" y="293.35" font-size="4.2" text-anchor="end" font-weight="normal" fill="#111" stroke="#111" stroke-width="0.092" >2</text>
<line x1="474.50" y1="291.85" x2="475.80" y2="291.85" stroke="#111" stroke-width="0.4" />
<text x="472.60" y="308.80" font-size="4.2" text-anchor="end" font-weight="normal" fill="#111" stroke="#111" stroke-width="0.092" >0</text>
<line x1="474.50" y1="307.30" x2="475.80" y2="307.30" stroke="#111" stroke-width="0.4" />
<text x="530.40" y="245.90" font-size="4.2" text-anchor="start" font-weight="normal" fill="#ee2a2a" stroke="#ee2a2a" stroke-width="0.092" >5</text>
<line x1="528.40" y1="244.40" x2="527.10" y2="244.40" stroke="#ee2a2a" stroke-width="0.4" />
<text x="530.40" y="260.05" font-size="4.2" text-anchor="start" font-weight="normal" fill="#ee2a2a" stroke="#ee2a2a" stroke-width="0.092" >4</text>
<line x1="528.40" y1="258.55" x2="527.10" y2="258.55" stroke="#ee2a2a" stroke-width="0.4" />
<text x="530.40" y="274.20" font-size="4.2" text-anchor="start" font-weight="normal" fill="#ee2a2a" stroke="#ee2a2a" stroke-width="0.092" >3</text>
<line x1="528.40" y1="272.70" x2="527.10" y2="272.70" stroke="#ee2a2a" stroke-width="0.4" />
<text x="530.40" y="288.35" font-size="4.2" text-anchor="start" font-weight="normal" fill="#ee2a2a" stroke="#ee2a2a" stroke-width="0.092" >2</text>
<line x1="528.40" y1="286.85" x2="527.10" y2="286.85" stroke="#ee2a2a" stroke-width="0.4" />
<text x="530.40" y="302.50" font-size="4.2" text-anchor="start" font-weight="normal" fill="#ee2a2a" stroke="#ee2a2a" stroke-width="0.092" >1</text>
<line x1="528.40" y1="301.00" x2="527.10" y2="301.00" stroke="#ee2a2a" stroke-width="0.4" />
<text x="530.40" y="316.65" font-size="4.2" text-anchor="start" font-weight="normal" fill="#ee2a2a" stroke="#ee2a2a" stroke-width="0.092" >0</text>
<line x1="528.40" y1="315.15" x2="527.10" y2="315.15" stroke="#ee2a2a" stroke-width="0.4" />
<text x="479.90" y="320.20" font-size="3.3" text-anchor="middle" font-weight="normal" fill="#111" stroke="#111" stroke-width="0.073" >Pristine</text>
<text x="489.30" y="320.30" font-size="4.2" text-anchor="middle" font-weight="normal" fill="#111" stroke="#111" stroke-width="0.092" >8</text>
<line x1="489.30" y1="315.20" x2="489.30" y2="313.90" stroke="#111" stroke-width="0.4" />
<text x="499.10" y="320.30" font-size="4.2" text-anchor="middle" font-weight="normal" fill="#111" stroke="#111" stroke-width="0.092" >6</text>
<line x1="499.10" y1="315.20" x2="499.10" y2="313.90" stroke="#111" stroke-width="0.4" />
<text x="508.80" y="320.30" font-size="4.2" text-anchor="middle" font-weight="normal" fill="#111" stroke="#111" stroke-width="0.092" >4</text>
<line x1="508.80" y1="315.20" x2="508.80" y2="313.90" stroke="#111" stroke-width="0.4" />
<text x="518.80" y="320.30" font-size="4.2" text-anchor="middle" font-weight="normal" fill="#111" stroke="#111" stroke-width="0.092" >2</text>
<line x1="518.80" y1="315.20" x2="518.80" y2="313.90" stroke="#111" stroke-width="0.4" />
<text x="528.40" y="320.30" font-size="4.2" text-anchor="middle" font-weight="normal" fill="#111" stroke="#111" stroke-width="0.092" >0</text>
<line x1="528.40" y1="315.20" x2="528.40" y2="313.90" stroke="#111" stroke-width="0.4" />
<text x="501.80" y="325.80" font-size="5.0" text-anchor="middle" font-weight="normal" fill="#111" stroke="#111" stroke-width="0.110" textLength="45.50" lengthAdjust="spacingAndGlyphs" >Diameter of Rod (mm)</text>
<text x="510.70" y="268.20" font-size="5.2" text-anchor="middle" font-weight="normal" fill="#111" stroke="#111" stroke-width="0.114" textLength="12.40" lengthAdjust="spacingAndGlyphs" >Writing</text>
<text x="511.60" y="313.10" font-size="5.2" text-anchor="middle" font-weight="normal" fill="#111" stroke="#111" stroke-width="0.114" textLength="13.40" lengthAdjust="spacingAndGlyphs" >Erasing</text>
<text x="467.00" y="278.00" font-size="4.5" text-anchor="middle" font-weight="normal" fill="#111" transform="rotate(-90 467.00 278.00)" stroke="#111" stroke-width="0.099" textLength="44.00" lengthAdjust="spacingAndGlyphs" >Threshold voltage (V)</text>
<text x="538.20" y="277.00" font-size="4.5" text-anchor="middle" font-weight="normal" fill="#ee2a2a" transform="rotate(90 538.20 277.00)" stroke="#ee2a2a" stroke-width="0.099" textLength="44.00" lengthAdjust="spacingAndGlyphs" >Memory window (V)</text>
</svg>
</body></html>
